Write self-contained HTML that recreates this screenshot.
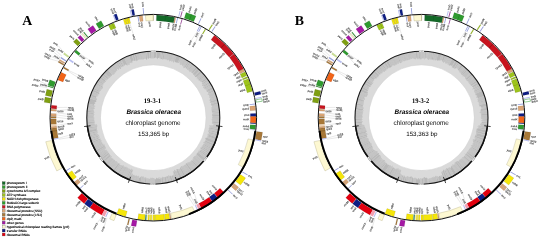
<!DOCTYPE html><html><head><meta charset="utf-8"><style>html,body{margin:0;padding:0;background:#fff;width:550px;height:240px;overflow:hidden}svg{display:block;will-change:transform}text{text-rendering:geometricPrecision}.lb text{text-rendering:auto}</style></head><body><svg width="550" height="240" viewBox="0 0 550 240">
<rect width="550" height="240" fill="#fff"/>
<circle cx="153.3" cy="117.7" r="59.55" fill="none" stroke="#dadada" stroke-width="13.90"/>
<path d="M153.88,51.20A66.50,66.50 0 0 1 154.51,51.21L154.39,57.70A60.01,60.01 0 0 0 153.82,57.70ZM154.46,51.21A66.50,66.50 0 0 1 155.09,51.22L154.90,58.34A59.38,59.38 0 0 0 154.34,58.32ZM155.04,51.22A66.50,66.50 0 0 1 155.67,51.24L155.43,58.04A59.70,59.70 0 0 0 154.86,58.02ZM155.62,51.24A66.50,66.50 0 0 1 156.25,51.27L155.98,57.23A60.53,60.53 0 0 0 155.41,57.21ZM156.78,51.29A66.50,66.50 0 0 1 157.41,51.33L157.00,57.95A59.87,59.87 0 0 0 156.43,57.91ZM157.36,51.32A66.50,66.50 0 0 1 157.99,51.37L157.43,59.24A58.60,58.60 0 0 0 156.88,59.21ZM157.94,51.36A66.50,66.50 0 0 1 158.56,51.41L158.02,58.26A59.62,59.62 0 0 0 157.46,58.22ZM158.52,51.40A66.50,66.50 0 0 1 159.14,51.46L158.56,58.08A59.85,59.85 0 0 0 158.00,58.04ZM159.10,51.45A66.50,66.50 0 0 1 159.72,51.51L159.13,57.64A60.34,60.34 0 0 0 158.56,57.59ZM159.67,51.51A66.50,66.50 0 0 1 160.30,51.57L159.64,57.81A60.22,60.22 0 0 0 159.07,57.75ZM161.98,51.77A66.50,66.50 0 0 1 162.60,51.85L161.58,59.05A59.23,59.23 0 0 0 161.03,58.98ZM162.56,51.85A66.50,66.50 0 0 1 163.18,51.94L162.10,59.10A59.26,59.26 0 0 0 161.55,59.02ZM163.70,52.02A66.50,66.50 0 0 1 164.32,52.12L163.13,59.22A59.30,59.30 0 0 0 162.58,59.13ZM164.28,52.11A66.50,66.50 0 0 1 164.89,52.22L163.63,59.36A59.25,59.25 0 0 0 163.08,59.26ZM165.42,52.31A66.50,66.50 0 0 1 166.03,52.43L164.77,58.92A59.89,59.89 0 0 0 164.21,58.81ZM166.56,52.54A66.50,66.50 0 0 1 167.17,52.66L165.77,59.26A59.76,59.76 0 0 0 165.21,59.14ZM167.69,52.78A66.50,66.50 0 0 1 168.30,52.91L166.86,59.16A60.09,60.09 0 0 0 166.31,59.03ZM168.82,53.04A66.50,66.50 0 0 1 169.43,53.19L167.68,60.19A59.28,59.28 0 0 0 167.14,60.06ZM173.30,54.28A66.50,66.50 0 0 1 173.89,54.47L171.66,61.32A59.29,59.29 0 0 0 171.13,61.15ZM174.40,54.64A66.50,66.50 0 0 1 174.99,54.84L172.83,61.10A59.87,59.87 0 0 0 172.30,60.92ZM176.59,55.41A66.50,66.50 0 0 1 177.17,55.63L175.05,61.17A60.57,60.57 0 0 0 174.51,60.96ZM177.13,55.62A66.50,66.50 0 0 1 177.72,55.84L175.31,61.93A59.96,59.96 0 0 0 174.79,61.72ZM177.67,55.83A66.50,66.50 0 0 1 178.25,56.06L175.70,62.37A59.70,59.70 0 0 0 175.18,62.16ZM178.21,56.04A66.50,66.50 0 0 1 178.79,56.28L176.20,62.51A59.75,59.75 0 0 0 175.68,62.30ZM178.75,56.26A66.50,66.50 0 0 1 179.33,56.50L176.65,62.81A59.65,59.65 0 0 0 176.13,62.59ZM179.28,56.49A66.50,66.50 0 0 1 179.86,56.73L177.29,62.62A60.08,60.08 0 0 0 176.77,62.40ZM179.82,56.72A66.50,66.50 0 0 1 180.39,56.97L177.81,62.75A60.17,60.17 0 0 0 177.29,62.52ZM181.40,57.43A66.50,66.50 0 0 1 181.97,57.70L179.78,62.27A61.43,61.43 0 0 0 179.26,62.03ZM182.45,57.93A66.50,66.50 0 0 1 183.01,58.21L180.12,64.01A60.02,60.02 0 0 0 179.61,63.76ZM183.49,58.45A66.50,66.50 0 0 1 184.05,58.74L180.85,64.86A59.60,59.60 0 0 0 180.36,64.60ZM186.05,59.82A66.50,66.50 0 0 1 186.59,60.13L183.42,65.62A60.17,60.17 0 0 0 182.93,65.33ZM187.05,60.40A66.50,66.50 0 0 1 187.59,60.72L183.68,67.21A58.93,58.93 0 0 0 183.21,66.93ZM188.05,61.00A66.50,66.50 0 0 1 188.58,61.33L184.62,67.65A59.04,59.04 0 0 0 184.15,67.36ZM188.54,61.30A66.50,66.50 0 0 1 189.07,61.64L185.03,67.98A58.98,58.98 0 0 0 184.56,67.68ZM189.52,61.93A66.50,66.50 0 0 1 190.04,62.27L186.30,67.92A59.72,59.72 0 0 0 185.83,67.61ZM190.00,62.25A66.50,66.50 0 0 1 190.52,62.59L186.21,68.98A58.79,58.79 0 0 0 185.75,68.67ZM190.97,62.90A66.50,66.50 0 0 1 191.48,63.25L187.52,68.91A59.59,59.59 0 0 0 187.05,68.59ZM192.39,63.90A66.50,66.50 0 0 1 192.89,64.27L188.28,70.49A58.76,58.76 0 0 0 187.84,70.16ZM192.86,64.24A66.50,66.50 0 0 1 193.36,64.62L189.34,69.95A59.83,59.83 0 0 0 188.89,69.61ZM193.78,64.94A66.50,66.50 0 0 1 194.28,65.33L189.31,71.68A58.43,58.43 0 0 0 188.87,71.34ZM195.15,66.02A66.50,66.50 0 0 1 195.64,66.42L191.13,71.88A59.42,59.42 0 0 0 190.69,71.52ZM196.05,66.76A66.50,66.50 0 0 1 196.52,67.16L191.73,72.77A59.13,59.13 0 0 0 191.31,72.41ZM196.49,67.13A66.50,66.50 0 0 1 196.96,67.54L192.09,73.14A59.08,59.08 0 0 0 191.67,72.78ZM196.93,67.51A66.50,66.50 0 0 1 197.40,67.93L192.95,72.94A59.80,59.80 0 0 0 192.53,72.57ZM197.80,68.28A66.50,66.50 0 0 1 198.26,68.70L193.39,74.01A59.29,59.29 0 0 0 192.97,73.64ZM198.23,68.67A66.50,66.50 0 0 1 198.69,69.10L193.26,74.90A58.55,58.55 0 0 0 192.86,74.53ZM198.65,69.06A66.50,66.50 0 0 1 199.11,69.49L194.29,74.57A59.50,59.50 0 0 0 193.88,74.18ZM199.08,69.46A66.50,66.50 0 0 1 199.53,69.90L194.53,75.06A59.32,59.32 0 0 0 194.13,74.67ZM199.49,69.86A66.50,66.50 0 0 1 199.94,70.30L194.31,76.03A58.47,58.47 0 0 0 193.91,75.64ZM200.32,70.68A66.50,66.50 0 0 1 200.76,71.12L195.20,76.58A58.71,58.71 0 0 0 194.81,76.19ZM200.73,71.09A66.50,66.50 0 0 1 201.17,71.54L195.28,77.22A58.32,58.32 0 0 0 194.90,76.82ZM201.14,71.51A66.50,66.50 0 0 1 201.57,71.96L196.30,76.95A59.24,59.24 0 0 0 195.91,76.55ZM201.54,71.92A66.50,66.50 0 0 1 201.97,72.38L197.03,76.98A59.76,59.76 0 0 0 196.65,76.56ZM202.33,72.77A66.50,66.50 0 0 1 202.75,73.24L197.29,78.15A59.16,59.16 0 0 0 196.92,77.73ZM204.24,74.95A66.50,66.50 0 0 1 204.64,75.44L199.12,79.98A59.35,59.35 0 0 0 198.76,79.55ZM204.61,75.40A66.50,66.50 0 0 1 205.01,75.89L198.86,80.86A58.59,58.59 0 0 0 198.51,80.43ZM205.34,76.30A66.50,66.50 0 0 1 205.73,76.80L200.28,81.05A59.58,59.58 0 0 0 199.93,80.61ZM206.41,77.68A66.50,66.50 0 0 1 206.78,78.18L201.11,82.37A59.45,59.45 0 0 0 200.78,81.92ZM206.76,78.14A66.50,66.50 0 0 1 207.13,78.65L202.16,82.25A60.36,60.36 0 0 0 201.82,81.80ZM207.10,78.61A66.50,66.50 0 0 1 207.47,79.12L202.56,82.61A60.48,60.48 0 0 0 202.23,82.15ZM207.77,79.56A66.50,66.50 0 0 1 208.13,80.07L202.09,84.22A59.17,59.17 0 0 0 201.77,83.76ZM208.10,80.03A66.50,66.50 0 0 1 208.46,80.55L202.43,84.61A59.24,59.24 0 0 0 202.12,84.15ZM208.75,81.00A66.50,66.50 0 0 1 209.10,81.52L202.28,85.94A58.38,58.38 0 0 0 201.98,85.48ZM209.39,81.97A66.50,66.50 0 0 1 209.72,82.50L203.31,86.50A58.95,58.95 0 0 0 203.02,86.03ZM209.70,82.46A66.50,66.50 0 0 1 210.02,82.99L204.30,86.50A59.79,59.79 0 0 0 204.00,86.02ZM210.60,83.95A66.50,66.50 0 0 1 210.91,84.49L204.53,88.17A59.13,59.13 0 0 0 204.25,87.69ZM210.89,84.45A66.50,66.50 0 0 1 211.20,84.99L204.39,88.84A58.68,58.68 0 0 0 204.12,88.36ZM211.74,85.97A66.50,66.50 0 0 1 212.04,86.52L205.92,89.77A59.58,59.58 0 0 0 205.66,89.27ZM212.29,86.99A66.50,66.50 0 0 1 212.57,87.55L206.43,90.67A59.61,59.61 0 0 0 206.17,90.18ZM212.55,87.51A66.50,66.50 0 0 1 212.83,88.07L207.30,90.83A60.31,60.31 0 0 0 207.04,90.32ZM212.81,88.03A66.50,66.50 0 0 1 213.09,88.59L206.81,91.65A59.52,59.52 0 0 0 206.56,91.14ZM213.07,88.55A66.50,66.50 0 0 1 213.34,89.11L207.33,91.98A59.84,59.84 0 0 0 207.08,91.47ZM213.81,90.12A66.50,66.50 0 0 1 214.07,90.69L208.28,93.27A60.17,60.17 0 0 0 208.05,92.75ZM214.05,90.65A66.50,66.50 0 0 1 214.30,91.23L208.49,93.75A60.16,60.16 0 0 0 208.26,93.23ZM214.51,91.72A66.50,66.50 0 0 1 214.76,92.29L208.43,94.91A59.65,59.65 0 0 0 208.21,94.39ZM215.79,94.96A66.50,66.50 0 0 1 216.00,95.55L209.46,97.86A59.57,59.57 0 0 0 209.27,97.33ZM216.55,97.15A66.50,66.50 0 0 1 216.74,97.75L209.94,99.89A59.37,59.37 0 0 0 209.76,99.35ZM217.22,99.37A66.50,66.50 0 0 1 217.39,99.97L210.49,101.88A59.34,59.34 0 0 0 210.34,101.34ZM217.38,99.93A66.50,66.50 0 0 1 217.55,100.53L209.87,102.58A58.56,58.56 0 0 0 209.73,102.05ZM217.53,100.49A66.50,66.50 0 0 1 217.69,101.09L210.51,102.95A59.08,59.08 0 0 0 210.37,102.41ZM217.96,102.18A66.50,66.50 0 0 1 218.11,102.79L211.35,104.34A59.57,59.57 0 0 0 211.22,103.79ZM218.10,102.74A66.50,66.50 0 0 1 218.23,103.35L210.89,104.98A58.98,58.98 0 0 0 210.77,104.43ZM218.22,103.31A66.50,66.50 0 0 1 218.36,103.92L211.72,105.32A59.72,59.72 0 0 0 211.60,104.77ZM218.58,105.01A66.50,66.50 0 0 1 218.69,105.63L212.11,106.84A59.81,59.81 0 0 0 212.01,106.29ZM218.79,106.15A66.50,66.50 0 0 1 218.90,106.77L211.67,107.97A59.18,59.18 0 0 0 211.58,107.42ZM218.98,107.30A66.50,66.50 0 0 1 219.08,107.92L212.10,108.95A59.45,59.45 0 0 0 212.02,108.40ZM219.37,110.17A66.50,66.50 0 0 1 219.44,110.80L211.88,111.58A58.90,58.90 0 0 0 211.82,111.03ZM219.44,110.75A66.50,66.50 0 0 1 219.50,111.37L212.18,112.07A59.15,59.15 0 0 0 212.12,111.52ZM219.55,111.90A66.50,66.50 0 0 1 219.60,112.53L212.19,113.11A59.07,59.07 0 0 0 212.15,112.55ZM219.60,112.48A66.50,66.50 0 0 1 219.64,113.11L213.43,113.54A60.27,60.27 0 0 0 213.39,112.97ZM219.68,113.64A66.50,66.50 0 0 1 219.71,114.27L212.01,114.66A58.79,58.79 0 0 0 211.98,114.11ZM219.74,114.80A66.50,66.50 0 0 1 219.76,115.43L212.32,115.68A59.06,59.06 0 0 0 212.30,115.12ZM219.76,115.38A66.50,66.50 0 0 1 219.78,116.01L212.02,116.20A58.74,58.74 0 0 0 212.00,115.65ZM219.78,115.96A66.50,66.50 0 0 1 219.79,116.59L212.78,116.70A59.49,59.49 0 0 0 212.77,116.14ZM219.80,118.28A66.50,66.50 0 0 1 219.79,118.91L212.30,118.77A59.01,59.01 0 0 0 212.30,118.21ZM219.76,120.02A66.50,66.50 0 0 1 219.73,120.65L211.82,120.30A58.58,58.58 0 0 0 211.84,119.74ZM219.68,121.76A66.50,66.50 0 0 1 219.63,122.39L212.36,121.87A59.20,59.20 0 0 0 212.39,121.31ZM219.64,122.34A66.50,66.50 0 0 1 219.59,122.96L211.97,122.36A58.86,58.86 0 0 0 212.01,121.81ZM219.60,122.92A66.50,66.50 0 0 1 219.54,123.54L212.23,122.90A59.15,59.15 0 0 0 212.27,122.34ZM219.15,126.96A66.50,66.50 0 0 1 219.06,127.58L209.20,126.09A56.53,56.53 0 0 0 209.28,125.57ZM218.79,129.25A66.50,66.50 0 0 1 218.68,129.86L208.99,128.06A56.65,56.65 0 0 0 209.09,127.54ZM218.69,129.82A66.50,66.50 0 0 1 218.57,130.43L208.85,128.54A56.59,56.59 0 0 0 208.95,128.01ZM218.46,130.96A66.50,66.50 0 0 1 218.34,131.57L209.06,129.59A57.01,57.01 0 0 0 209.17,129.07ZM218.22,132.09A66.50,66.50 0 0 1 218.09,132.70L208.29,130.44A56.45,56.45 0 0 0 208.41,129.92ZM218.10,132.66A66.50,66.50 0 0 1 217.95,133.27L208.87,131.08A57.16,57.16 0 0 0 208.99,130.56ZM217.68,134.35A66.50,66.50 0 0 1 217.52,134.96L208.93,132.65A57.61,57.61 0 0 0 209.07,132.12ZM217.53,134.91A66.50,66.50 0 0 1 217.37,135.52L208.82,133.14A57.63,57.63 0 0 0 208.97,132.62ZM216.89,137.14A66.50,66.50 0 0 1 216.71,137.74L207.59,134.86A56.94,56.94 0 0 0 207.75,134.35ZM216.72,137.70A66.50,66.50 0 0 1 216.53,138.29L208.22,135.59A57.76,57.76 0 0 0 208.39,135.07ZM216.55,138.25A66.50,66.50 0 0 1 216.35,138.84L207.68,135.94A57.36,57.36 0 0 0 207.85,135.42ZM216.36,138.80A66.50,66.50 0 0 1 216.16,139.39L207.15,136.28A56.97,56.97 0 0 0 207.32,135.78ZM215.59,140.99A66.50,66.50 0 0 1 215.37,141.57L206.39,138.12A56.88,56.88 0 0 0 206.58,137.62ZM215.38,141.53A66.50,66.50 0 0 1 215.16,142.12L205.43,138.28A56.04,56.04 0 0 0 205.62,137.78ZM215.17,142.07A66.50,66.50 0 0 1 214.94,142.65L205.20,138.71A55.99,55.99 0 0 0 205.40,138.22ZM214.96,142.61A66.50,66.50 0 0 1 214.72,143.19L205.74,139.46A56.77,56.77 0 0 0 205.94,138.97ZM214.74,143.15A66.50,66.50 0 0 1 214.50,143.73L205.49,139.90A56.72,56.72 0 0 0 205.70,139.41ZM214.28,144.22A66.50,66.50 0 0 1 214.03,144.79L205.30,140.90A56.94,56.94 0 0 0 205.52,140.41ZM214.05,144.75A66.50,66.50 0 0 1 213.79,145.32L204.92,141.27A56.75,56.75 0 0 0 205.14,140.78ZM213.81,145.28A66.50,66.50 0 0 1 213.55,145.85L205.10,141.90A57.17,57.17 0 0 0 205.33,141.41ZM213.32,146.33A66.50,66.50 0 0 1 213.05,146.89L203.70,142.33A56.10,56.10 0 0 0 203.93,141.85ZM212.29,148.41A66.50,66.50 0 0 1 211.99,148.96L203.29,144.32A56.63,56.63 0 0 0 203.54,143.85ZM212.02,148.92A66.50,66.50 0 0 1 211.72,149.47L203.36,144.93A56.99,56.99 0 0 0 203.62,144.45ZM210.60,151.45A66.50,66.50 0 0 1 210.28,151.99L202.23,147.15A57.11,57.11 0 0 0 202.51,146.69ZM210.30,151.95A66.50,66.50 0 0 1 209.98,152.49L201.32,147.17A56.34,56.34 0 0 0 201.59,146.72ZM209.70,152.94A66.50,66.50 0 0 1 209.36,153.47L201.12,148.21A56.72,56.72 0 0 0 201.40,147.76ZM209.39,153.43A66.50,66.50 0 0 1 209.05,153.96L199.92,148.02A55.61,55.61 0 0 0 200.20,147.58ZM208.75,154.40A66.50,66.50 0 0 1 208.41,154.92L200.88,149.84A57.42,57.42 0 0 0 201.18,149.39ZM208.43,154.89A66.50,66.50 0 0 1 208.08,155.40L200.14,149.94A56.87,56.87 0 0 0 200.45,149.50ZM207.77,155.84A66.50,66.50 0 0 1 207.41,156.35L199.52,150.72A56.80,56.80 0 0 0 199.83,150.28ZM207.44,156.32A66.50,66.50 0 0 1 207.07,156.83L199.34,151.20A56.94,56.94 0 0 0 199.66,150.77ZM206.76,157.26A66.50,66.50 0 0 1 206.38,157.76L198.59,151.88A56.74,56.74 0 0 0 198.91,151.45ZM205.70,158.64A66.50,66.50 0 0 1 205.31,159.13L197.52,152.92A56.53,56.53 0 0 0 197.85,152.50ZM205.34,159.10A66.50,66.50 0 0 1 204.95,159.59L197.15,153.26A56.46,56.46 0 0 0 197.48,152.84ZM204.98,159.55A66.50,66.50 0 0 1 204.58,160.04L196.96,153.74A56.61,56.61 0 0 0 197.30,153.33ZM204.61,160.00A66.50,66.50 0 0 1 204.21,160.48L196.39,153.91A56.28,56.28 0 0 0 196.73,153.50ZM204.24,160.45A66.50,66.50 0 0 1 203.84,160.92L196.59,154.73A56.97,56.97 0 0 0 196.94,154.32ZM203.49,161.33A66.50,66.50 0 0 1 203.07,161.80L195.52,155.10A56.40,56.40 0 0 0 195.87,154.70ZM201.94,163.05A66.50,66.50 0 0 1 201.51,163.51L193.88,156.27A55.99,55.99 0 0 0 194.25,155.88ZM199.91,165.13A66.50,66.50 0 0 1 199.46,165.57L193.02,158.89A57.23,57.23 0 0 0 193.41,158.52ZM198.23,166.73A66.50,66.50 0 0 1 197.76,167.15L192.17,160.93A58.13,58.13 0 0 0 192.57,160.56ZM197.80,167.12A66.50,66.50 0 0 1 197.33,167.54L191.27,160.68A57.35,57.35 0 0 0 191.68,160.32ZM196.93,167.89A66.50,66.50 0 0 1 196.45,168.30L190.56,161.39A57.42,57.42 0 0 0 190.97,161.04ZM195.60,169.01A66.50,66.50 0 0 1 195.11,169.41L189.13,162.01A56.98,56.98 0 0 0 189.54,161.67ZM194.24,170.10A66.50,66.50 0 0 1 193.75,170.49L187.92,162.88A56.92,56.92 0 0 0 188.34,162.55ZM192.86,171.16A66.50,66.50 0 0 1 192.35,171.53L186.33,163.22A56.24,56.24 0 0 0 186.75,162.91ZM192.39,171.50A66.50,66.50 0 0 1 191.88,171.87L185.91,163.49A56.21,56.21 0 0 0 186.34,163.18ZM191.92,171.84A66.50,66.50 0 0 1 191.40,172.20L185.51,163.77A56.21,56.21 0 0 0 185.94,163.46ZM189.52,173.47A66.50,66.50 0 0 1 188.99,173.81L183.72,165.53A56.69,56.69 0 0 0 184.17,165.24ZM188.54,174.10A66.50,66.50 0 0 1 188.01,174.42L182.72,165.79A56.37,56.37 0 0 0 183.17,165.51ZM187.55,174.70A66.50,66.50 0 0 1 187.01,175.02L182.23,166.90A57.08,57.08 0 0 0 182.70,166.62ZM185.54,175.86A66.50,66.50 0 0 1 184.99,176.16L180.15,167.24A56.35,56.35 0 0 0 180.62,166.98ZM185.03,176.14A66.50,66.50 0 0 1 184.48,176.44L180.01,168.02A56.96,56.96 0 0 0 180.48,167.76ZM184.52,176.42A66.50,66.50 0 0 1 183.97,176.71L179.67,168.44A57.18,57.18 0 0 0 180.15,168.19ZM181.93,177.72A66.50,66.50 0 0 1 181.36,177.99L177.32,169.30A56.91,56.91 0 0 0 177.80,169.07ZM181.40,177.97A66.50,66.50 0 0 1 180.83,178.23L176.68,169.10A56.47,56.47 0 0 0 177.16,168.88ZM180.88,178.21A66.50,66.50 0 0 1 180.31,178.47L176.24,169.33A56.50,56.50 0 0 0 176.73,169.11ZM180.35,178.45A66.50,66.50 0 0 1 179.77,178.70L176.36,170.83A57.92,57.92 0 0 0 176.86,170.61ZM177.67,179.57A66.50,66.50 0 0 1 177.09,179.80L173.69,170.92A56.99,56.99 0 0 0 174.19,170.72ZM177.13,179.78A66.50,66.50 0 0 1 176.55,180.00L173.38,171.52A57.45,57.45 0 0 0 173.89,171.33ZM174.40,180.76A66.50,66.50 0 0 1 173.81,180.96L172.05,175.54A60.80,60.80 0 0 0 172.59,175.36ZM173.85,180.95A66.50,66.50 0 0 1 173.25,181.14L171.52,175.64A60.74,60.74 0 0 0 172.07,175.47ZM172.74,181.29A66.50,66.50 0 0 1 172.14,181.47L170.58,176.18A60.98,60.98 0 0 0 171.13,176.01ZM172.19,181.46A66.50,66.50 0 0 1 171.59,181.64L169.87,175.64A60.27,60.27 0 0 0 170.42,175.48ZM171.63,181.62A66.50,66.50 0 0 1 171.03,181.79L169.39,175.89A60.38,60.38 0 0 0 169.94,175.74ZM170.51,181.93A66.50,66.50 0 0 1 169.91,182.09L168.19,175.45A59.64,59.64 0 0 0 168.74,175.31ZM169.39,182.22A66.50,66.50 0 0 1 168.78,182.37L167.37,176.49A60.45,60.45 0 0 0 167.92,176.35ZM168.82,182.36A66.50,66.50 0 0 1 168.21,182.51L166.78,176.27A60.10,60.10 0 0 0 167.33,176.14ZM167.13,182.75A66.50,66.50 0 0 1 166.51,182.87L165.33,177.03A60.54,60.54 0 0 0 165.89,176.92ZM166.56,182.86A66.50,66.50 0 0 1 165.94,182.99L164.82,177.21A60.61,60.61 0 0 0 165.38,177.09ZM165.99,182.98A66.50,66.50 0 0 1 165.37,183.09L164.29,177.20A60.51,60.51 0 0 0 164.85,177.10ZM164.85,183.19A66.50,66.50 0 0 1 164.23,183.30L163.20,177.11A60.23,60.23 0 0 0 163.76,177.01ZM163.70,183.38A66.50,66.50 0 0 1 163.08,183.48L162.08,176.75A59.70,59.70 0 0 0 162.64,176.66ZM163.13,183.47A66.50,66.50 0 0 1 162.51,183.56L161.69,177.67A60.56,60.56 0 0 0 162.25,177.59ZM162.56,183.55A66.50,66.50 0 0 1 161.93,183.64L161.23,178.22A61.04,61.04 0 0 0 161.80,178.15ZM161.40,183.70A66.50,66.50 0 0 1 160.78,183.78L160.15,178.20A60.89,60.89 0 0 0 160.72,178.13ZM160.83,183.77A66.50,66.50 0 0 1 160.20,183.84L159.52,177.31A59.93,59.93 0 0 0 160.08,177.25ZM160.25,183.84A66.50,66.50 0 0 1 159.63,183.90L159.16,179.05A61.63,61.63 0 0 0 159.74,178.99ZM159.67,183.89A66.50,66.50 0 0 1 159.05,183.95L158.61,178.86A61.39,61.39 0 0 0 159.18,178.81ZM159.10,183.95A66.50,66.50 0 0 1 158.47,184.00L157.96,177.47A59.95,59.95 0 0 0 158.53,177.42ZM158.52,184.00A66.50,66.50 0 0 1 157.89,184.04L157.48,178.08A60.53,60.53 0 0 0 158.05,178.04ZM157.94,184.04A66.50,66.50 0 0 1 157.31,184.08L157.00,178.82A61.23,61.23 0 0 0 157.57,178.78ZM157.36,184.08A66.50,66.50 0 0 1 156.73,184.11L156.41,177.85A60.23,60.23 0 0 0 156.98,177.81ZM156.78,184.11A66.50,66.50 0 0 1 156.15,184.14L155.90,178.22A60.58,60.58 0 0 0 156.47,178.20ZM156.20,184.14A66.50,66.50 0 0 1 155.57,184.16L155.40,179.02A61.35,61.35 0 0 0 155.98,178.99ZM155.62,184.16A66.50,66.50 0 0 1 154.99,184.18L154.88,179.59A61.91,61.91 0 0 0 155.46,179.57ZM155.04,184.18A66.50,66.50 0 0 1 154.41,184.19L154.32,178.40A60.71,60.71 0 0 0 154.89,178.39ZM153.88,184.20A66.50,66.50 0 0 1 153.25,184.20L153.26,177.94A60.24,60.24 0 0 0 153.83,177.94ZM152.72,184.20A66.50,66.50 0 0 1 152.09,184.19L152.21,177.67A59.98,59.98 0 0 0 152.78,177.68ZM151.56,184.18A66.50,66.50 0 0 1 150.93,184.16L151.15,177.97A60.31,60.31 0 0 0 151.72,177.99ZM150.40,184.14A66.50,66.50 0 0 1 149.77,184.11L150.09,178.15A60.54,60.54 0 0 0 150.66,178.18ZM148.66,184.04A66.50,66.50 0 0 1 148.04,183.99L148.46,178.65A61.14,61.14 0 0 0 149.03,178.69ZM146.93,183.89A66.50,66.50 0 0 1 146.30,183.83L146.84,178.79A61.43,61.43 0 0 0 147.41,178.85ZM145.77,183.77A66.50,66.50 0 0 1 145.15,183.70L145.90,177.65A60.40,60.40 0 0 0 146.46,177.71ZM145.20,183.70A66.50,66.50 0 0 1 144.57,183.63L145.41,177.28A60.10,60.10 0 0 0 145.98,177.36ZM144.04,183.55A66.50,66.50 0 0 1 143.42,183.46L144.31,177.54A60.52,60.52 0 0 0 144.88,177.63ZM142.90,183.38A66.50,66.50 0 0 1 142.28,183.28L143.35,176.88A60.01,60.01 0 0 0 143.91,176.97ZM140.61,182.98A66.50,66.50 0 0 1 140.00,182.86L141.35,176.23A59.74,59.74 0 0 0 141.90,176.34ZM140.04,182.86A66.50,66.50 0 0 1 139.43,182.74L140.59,177.29A60.93,60.93 0 0 0 141.15,177.41ZM139.47,182.75A66.50,66.50 0 0 1 138.86,182.61L140.17,176.75A60.49,60.49 0 0 0 140.72,176.87ZM138.91,182.62A66.50,66.50 0 0 1 138.30,182.49L139.37,177.83A61.72,61.72 0 0 0 139.94,177.96ZM138.34,182.50A66.50,66.50 0 0 1 137.73,182.35L138.95,177.30A61.30,61.30 0 0 0 139.51,177.43ZM137.21,182.22A66.50,66.50 0 0 1 136.60,182.07L138.26,175.68A59.90,59.90 0 0 0 138.81,175.82ZM134.41,181.46A66.50,66.50 0 0 1 133.81,181.28L135.51,175.74A60.70,60.70 0 0 0 136.06,175.90ZM130.56,180.19A66.50,66.50 0 0 1 129.97,179.97L132.38,173.53A59.62,59.62 0 0 0 132.91,173.73ZM130.01,179.99A66.50,66.50 0 0 1 129.43,179.77L131.56,174.21A60.55,60.55 0 0 0 132.10,174.41ZM128.93,179.57A66.50,66.50 0 0 1 128.35,179.34L132.17,169.89A56.30,56.30 0 0 0 132.67,170.08ZM128.39,179.36A66.50,66.50 0 0 1 127.81,179.12L131.90,169.26A55.83,55.83 0 0 0 132.39,169.46ZM127.32,178.91A66.50,66.50 0 0 1 126.74,178.67L131.10,168.67A55.59,55.59 0 0 0 131.58,168.87ZM126.78,178.68A66.50,66.50 0 0 1 126.21,178.43L130.13,169.65A56.88,56.88 0 0 0 130.62,169.86ZM125.72,178.21A66.50,66.50 0 0 1 125.15,177.95L129.47,168.71A56.30,56.30 0 0 0 129.95,168.94ZM124.67,177.72A66.50,66.50 0 0 1 124.11,177.45L128.12,169.24A57.36,57.36 0 0 0 128.61,169.47ZM123.63,177.21A66.50,66.50 0 0 1 123.07,176.93L127.47,168.31A56.82,56.82 0 0 0 127.95,168.55ZM122.59,176.69A66.50,66.50 0 0 1 122.04,176.39L126.68,167.68A56.63,56.63 0 0 0 127.15,167.93ZM120.05,175.29A66.50,66.50 0 0 1 119.51,174.97L124.58,166.39A56.53,56.53 0 0 0 125.04,166.66ZM118.55,174.40A66.50,66.50 0 0 1 118.02,174.07L123.57,165.20A56.04,56.04 0 0 0 124.02,165.48ZM118.06,174.10A66.50,66.50 0 0 1 117.53,173.76L122.87,165.39A56.57,56.57 0 0 0 123.32,165.67ZM117.08,173.47A66.50,66.50 0 0 1 116.56,173.13L122.02,164.89A56.62,56.62 0 0 0 122.46,165.18ZM116.11,172.83A66.50,66.50 0 0 1 115.60,172.48L120.71,165.04A57.47,57.47 0 0 0 121.16,165.35ZM114.21,171.50A66.50,66.50 0 0 1 113.71,171.13L119.39,163.47A56.96,56.96 0 0 0 119.82,163.78ZM113.74,171.16A66.50,66.50 0 0 1 113.24,170.78L118.83,163.37A57.22,57.22 0 0 0 119.26,163.70ZM113.28,170.81A66.50,66.50 0 0 1 112.78,170.43L118.24,163.33A57.54,57.54 0 0 0 118.67,163.66ZM112.36,170.10A66.50,66.50 0 0 1 111.87,169.71L117.39,162.79A57.64,57.64 0 0 0 117.81,163.12ZM111.00,169.01A66.50,66.50 0 0 1 110.52,168.61L116.63,161.33A56.99,56.99 0 0 0 117.05,161.68ZM109.67,167.89A66.50,66.50 0 0 1 109.20,167.47L114.97,160.96A57.80,57.80 0 0 0 115.38,161.32ZM108.80,167.12A66.50,66.50 0 0 1 108.34,166.70L114.65,159.82A57.16,57.16 0 0 0 115.05,160.18ZM107.95,166.34A66.50,66.50 0 0 1 107.49,165.91L113.87,159.19A57.24,57.24 0 0 0 114.26,159.56ZM105.46,163.89A66.50,66.50 0 0 1 105.03,163.44L111.43,157.38A57.69,57.69 0 0 0 111.80,157.77ZM104.66,163.05A66.50,66.50 0 0 1 104.24,162.59L111.52,155.93A56.63,56.63 0 0 0 111.88,156.32ZM103.88,162.20A66.50,66.50 0 0 1 103.46,161.73L110.08,155.89A57.67,57.67 0 0 0 110.44,156.29ZM103.49,161.76A66.50,66.50 0 0 1 103.08,161.29L110.33,155.00A56.90,56.90 0 0 0 110.69,155.40ZM103.11,161.33A66.50,66.50 0 0 1 102.70,160.85L109.86,154.75A57.10,57.10 0 0 0 110.21,155.16ZM101.99,160.00A66.50,66.50 0 0 1 101.59,159.51L109.00,153.52A56.97,56.97 0 0 0 109.34,153.94ZM101.62,159.55A66.50,66.50 0 0 1 101.23,159.06L108.83,153.03A56.80,56.80 0 0 0 109.16,153.44ZM101.26,159.10A66.50,66.50 0 0 1 100.87,158.60L108.16,152.91A57.25,57.25 0 0 0 108.50,153.34ZM100.54,158.18A66.50,66.50 0 0 1 100.16,157.68L108.21,151.63A56.42,56.42 0 0 0 108.54,152.05ZM100.19,157.72A66.50,66.50 0 0 1 99.82,157.22L107.06,151.87A57.49,57.49 0 0 0 107.39,152.30ZM98.83,155.84A66.50,66.50 0 0 1 98.47,155.33L106.62,149.73A56.61,56.61 0 0 0 106.92,150.17ZM97.53,153.92A66.50,66.50 0 0 1 97.19,153.39L105.81,147.91A56.29,56.29 0 0 0 106.09,148.36ZM96.30,151.95A66.50,66.50 0 0 1 95.98,151.41L104.82,146.21A56.24,56.24 0 0 0 105.09,146.67ZM96.00,151.45A66.50,66.50 0 0 1 95.69,150.91L104.34,145.92A56.52,56.52 0 0 0 104.60,146.38ZM95.71,150.95A66.50,66.50 0 0 1 95.40,150.41L104.70,145.15A55.82,55.82 0 0 0 104.96,145.61ZM94.58,148.92A66.50,66.50 0 0 1 94.29,148.37L103.29,143.69A56.36,56.36 0 0 0 103.54,144.16ZM93.53,146.85A66.50,66.50 0 0 1 93.26,146.29L101.68,142.28A57.17,57.17 0 0 0 101.91,142.76ZM93.03,145.80A66.50,66.50 0 0 1 92.77,145.23L100.82,141.57A57.65,57.65 0 0 0 101.05,142.06ZM92.55,144.75A66.50,66.50 0 0 1 92.30,144.17L101.35,140.24A56.63,56.63 0 0 0 101.57,140.73ZM91.86,143.15A66.50,66.50 0 0 1 91.62,142.57L100.31,139.07A57.13,57.13 0 0 0 100.52,139.56ZM91.64,142.61A66.50,66.50 0 0 1 91.41,142.03L100.29,138.54A56.96,56.96 0 0 0 100.49,139.04ZM91.22,141.53A66.50,66.50 0 0 1 91.00,140.95L98.61,138.10A58.37,58.37 0 0 0 98.80,138.62ZM91.01,140.99A66.50,66.50 0 0 1 90.79,140.40L99.23,137.34A57.52,57.52 0 0 0 99.42,137.85ZM90.42,139.35A66.50,66.50 0 0 1 90.22,138.76L98.44,136.01A57.84,57.84 0 0 0 98.61,136.53ZM90.24,138.80A66.50,66.50 0 0 1 90.04,138.21L99.02,135.30A57.07,57.07 0 0 0 99.18,135.81ZM89.54,136.59A66.50,66.50 0 0 1 89.36,135.99L97.35,133.70A58.19,58.19 0 0 0 97.51,134.23ZM89.38,136.03A66.50,66.50 0 0 1 89.21,135.43L97.38,133.17A58.02,58.02 0 0 0 97.53,133.69ZM88.92,134.35A66.50,66.50 0 0 1 88.76,133.74L97.68,131.53A57.31,57.31 0 0 0 97.82,132.05ZM88.78,133.79A66.50,66.50 0 0 1 88.63,133.18L96.88,131.20A58.01,58.01 0 0 0 97.01,131.73ZM88.50,132.66A66.50,66.50 0 0 1 88.37,132.05L97.47,130.04A57.18,57.18 0 0 0 97.59,130.56ZM88.38,132.09A66.50,66.50 0 0 1 88.24,131.48L96.63,129.70A57.92,57.92 0 0 0 96.75,130.24ZM88.25,131.53A66.50,66.50 0 0 1 88.13,130.91L96.81,129.15A57.64,57.64 0 0 0 96.92,129.68ZM88.14,130.96A66.50,66.50 0 0 1 88.01,130.34L96.65,128.67A57.70,57.70 0 0 0 96.76,129.20ZM87.91,129.82A66.50,66.50 0 0 1 87.80,129.20L96.98,127.59A57.19,57.19 0 0 0 97.07,128.12ZM87.71,128.68A66.50,66.50 0 0 1 87.61,128.06L97.27,126.53A56.72,56.72 0 0 0 97.36,127.06ZM87.62,128.10A66.50,66.50 0 0 1 87.52,127.48L96.58,126.14A57.35,57.35 0 0 0 96.66,126.67ZM87.37,126.38A66.50,66.50 0 0 1 87.29,125.76L96.94,124.58A56.78,56.78 0 0 0 97.01,125.11ZM87.11,124.07A66.50,66.50 0 0 1 87.05,123.45L94.81,122.78A58.71,58.71 0 0 0 94.87,123.33ZM87.05,123.50A66.50,66.50 0 0 1 87.00,122.87L94.50,122.29A58.98,58.98 0 0 0 94.55,122.84ZM87.00,122.92A66.50,66.50 0 0 1 86.96,122.29L94.77,121.75A58.67,58.67 0 0 0 94.81,122.30ZM86.92,121.76A66.50,66.50 0 0 1 86.89,121.13L94.39,120.75A58.99,58.99 0 0 0 94.42,121.30ZM86.89,121.18A66.50,66.50 0 0 1 86.86,120.55L94.28,120.24A59.07,59.07 0 0 0 94.31,120.79ZM86.84,120.02A66.50,66.50 0 0 1 86.82,119.39L94.15,119.21A59.17,59.17 0 0 0 94.17,119.76ZM86.81,118.86A66.50,66.50 0 0 1 86.80,118.23L94.04,118.18A59.26,59.26 0 0 0 94.05,118.73ZM86.82,115.96A66.50,66.50 0 0 1 86.84,115.33L94.07,115.59A59.27,59.27 0 0 0 94.05,116.15ZM86.86,114.80A66.50,66.50 0 0 1 86.89,114.17L94.30,114.57A59.09,59.09 0 0 0 94.27,115.12ZM86.92,113.64A66.50,66.50 0 0 1 86.97,113.01L93.93,113.51A59.51,59.51 0 0 0 93.90,114.07ZM86.96,113.06A66.50,66.50 0 0 1 87.01,112.44L93.32,112.94A60.17,60.17 0 0 0 93.28,113.50ZM87.05,111.90A66.50,66.50 0 0 1 87.11,111.28L94.10,111.96A59.48,59.48 0 0 0 94.05,112.52ZM87.11,111.33A66.50,66.50 0 0 1 87.17,110.70L94.15,111.44A59.48,59.48 0 0 0 94.09,112.00ZM87.37,109.02A66.50,66.50 0 0 1 87.45,108.40L93.39,109.24A60.50,60.50 0 0 0 93.32,109.80ZM87.62,107.30A66.50,66.50 0 0 1 87.72,106.68L94.55,107.83A59.57,59.57 0 0 0 94.46,108.38ZM87.91,105.58A66.50,66.50 0 0 1 88.03,104.97L94.72,106.27A59.68,59.68 0 0 0 94.62,106.82ZM88.25,103.87A66.50,66.50 0 0 1 88.39,103.26L94.07,104.52A60.68,60.68 0 0 0 93.94,105.08ZM88.38,103.31A66.50,66.50 0 0 1 88.51,102.70L94.25,104.02A60.61,60.61 0 0 0 94.13,104.58ZM88.50,102.74A66.50,66.50 0 0 1 88.65,102.13L94.59,103.56A60.39,60.39 0 0 0 94.46,104.12ZM88.64,102.18A66.50,66.50 0 0 1 88.79,101.57L95.40,103.22A59.68,59.68 0 0 0 95.27,103.77ZM88.78,101.61A66.50,66.50 0 0 1 88.93,101.00L95.10,102.60A60.13,60.13 0 0 0 94.96,103.15ZM88.92,101.05A66.50,66.50 0 0 1 89.08,100.44L94.64,101.94A60.74,60.74 0 0 0 94.49,102.49ZM89.07,100.49A66.50,66.50 0 0 1 89.23,99.88L95.99,101.76A59.49,59.49 0 0 0 95.84,102.30ZM89.22,99.93A66.50,66.50 0 0 1 89.39,99.33L96.10,101.25A59.52,59.52 0 0 0 95.94,101.79ZM89.38,99.37A66.50,66.50 0 0 1 89.55,98.77L96.54,100.84A59.21,59.21 0 0 0 96.39,101.38ZM89.54,98.81A66.50,66.50 0 0 1 89.72,98.21L96.04,100.15A59.89,59.89 0 0 0 95.88,100.69ZM90.42,96.05A66.50,66.50 0 0 1 90.63,95.46L96.11,97.40A60.68,60.68 0 0 0 95.92,97.94ZM90.61,95.50A66.50,66.50 0 0 1 90.83,94.91L96.30,96.91A60.67,60.67 0 0 0 96.11,97.45ZM90.81,94.96A66.50,66.50 0 0 1 91.03,94.37L96.32,96.35A60.85,60.85 0 0 0 96.12,96.89ZM91.22,93.87A66.50,66.50 0 0 1 91.44,93.28L97.88,95.82A59.59,59.59 0 0 0 97.67,96.35ZM92.32,91.18A66.50,66.50 0 0 1 92.57,90.61L99.60,93.75A58.80,58.80 0 0 0 99.37,94.25ZM92.55,90.65A66.50,66.50 0 0 1 92.81,90.08L99.21,93.01A59.46,59.46 0 0 0 98.98,93.52ZM92.79,90.12A66.50,66.50 0 0 1 93.05,89.55L98.95,92.31A59.99,59.99 0 0 0 98.71,92.82ZM93.28,89.07A66.50,66.50 0 0 1 93.55,88.51L99.46,91.40A59.92,59.92 0 0 0 99.22,91.90ZM93.53,88.55A66.50,66.50 0 0 1 93.81,87.99L99.77,90.96A59.84,59.84 0 0 0 99.52,91.47ZM94.05,87.51A66.50,66.50 0 0 1 94.34,86.95L100.91,90.38A59.08,59.08 0 0 0 100.65,90.88ZM95.14,85.46A66.50,66.50 0 0 1 95.44,84.91L102.07,88.67A58.89,58.89 0 0 0 101.79,89.15ZM96.00,83.95A66.50,66.50 0 0 1 96.32,83.41L102.93,87.39A58.78,58.78 0 0 0 102.65,87.87ZM96.30,83.45A66.50,66.50 0 0 1 96.62,82.91L103.19,86.94A58.80,58.80 0 0 0 102.90,87.42ZM97.21,81.97A66.50,66.50 0 0 1 97.55,81.44L102.90,84.92A60.12,60.12 0 0 0 102.60,85.40ZM97.85,81.00A66.50,66.50 0 0 1 98.19,80.48L102.59,83.44A61.20,61.20 0 0 0 102.26,83.92ZM98.17,80.51A66.50,66.50 0 0 1 98.52,80.00L103.84,83.66A60.04,60.04 0 0 0 103.53,84.13ZM99.84,78.14A66.50,66.50 0 0 1 100.22,77.64L105.39,81.54A60.02,60.02 0 0 0 105.05,82.00ZM100.19,77.68A66.50,66.50 0 0 1 100.57,77.18L105.91,81.29A59.76,59.76 0 0 0 105.57,81.73ZM100.54,77.22A66.50,66.50 0 0 1 100.93,76.72L105.44,80.25A60.77,60.77 0 0 0 105.09,80.71ZM101.26,76.30A66.50,66.50 0 0 1 101.65,75.81L106.89,80.07A59.75,59.75 0 0 0 106.54,80.51ZM101.62,75.85A66.50,66.50 0 0 1 102.02,75.36L106.69,79.22A60.44,60.44 0 0 0 106.33,79.66ZM102.36,74.95A66.50,66.50 0 0 1 102.76,74.48L107.66,78.67A60.05,60.05 0 0 0 107.30,79.10ZM102.73,74.51A66.50,66.50 0 0 1 103.14,74.04L108.00,78.26A60.06,60.06 0 0 0 107.63,78.69ZM103.11,74.07A66.50,66.50 0 0 1 103.53,73.60L108.79,78.27A59.47,59.47 0 0 0 108.42,78.69ZM104.27,72.77A66.50,66.50 0 0 1 104.70,72.31L109.96,77.22A59.31,59.31 0 0 0 109.58,77.63ZM104.66,72.35A66.50,66.50 0 0 1 105.09,71.89L109.74,76.30A60.10,60.10 0 0 0 109.35,76.71ZM105.06,71.92A66.50,66.50 0 0 1 105.50,71.47L110.99,76.79A58.85,58.85 0 0 0 110.61,77.19ZM105.46,71.51A66.50,66.50 0 0 1 105.90,71.06L110.60,75.68A59.91,59.91 0 0 0 110.21,76.09ZM105.87,71.09A66.50,66.50 0 0 1 106.31,70.64L111.13,75.47A59.69,59.69 0 0 0 110.73,75.87ZM106.28,70.68A66.50,66.50 0 0 1 106.72,70.24L112.16,75.77A58.74,58.74 0 0 0 111.76,76.16ZM106.69,70.27A66.50,66.50 0 0 1 107.14,69.83L111.72,74.58A59.90,59.90 0 0 0 111.31,74.97ZM107.11,69.86A66.50,66.50 0 0 1 107.56,69.43L112.50,74.64A59.32,59.32 0 0 0 112.09,75.03ZM107.95,69.06A66.50,66.50 0 0 1 108.41,68.64L113.73,74.45A58.62,58.62 0 0 0 113.32,74.83ZM108.80,68.28A66.50,66.50 0 0 1 109.27,67.86L114.52,73.80A58.57,58.57 0 0 0 114.11,74.17ZM109.67,67.51A66.50,66.50 0 0 1 110.15,67.10L114.91,72.69A59.16,59.16 0 0 0 114.49,73.05ZM111.00,66.39A66.50,66.50 0 0 1 111.49,65.99L116.25,71.88A58.92,58.92 0 0 0 115.82,72.23ZM113.74,64.24A66.50,66.50 0 0 1 114.25,63.87L117.81,68.78A60.44,60.44 0 0 0 117.35,69.12ZM114.68,63.56A66.50,66.50 0 0 1 115.20,63.20L119.14,68.84A59.61,59.61 0 0 0 118.68,69.17ZM116.11,62.57A66.50,66.50 0 0 1 116.63,62.22L120.87,68.63A58.82,58.82 0 0 0 120.41,68.94ZM116.60,62.25A66.50,66.50 0 0 1 117.12,61.90L121.18,68.17A59.03,59.03 0 0 0 120.72,68.47ZM117.57,61.61A66.50,66.50 0 0 1 118.10,61.28L121.54,66.79A60.00,60.00 0 0 0 121.06,67.10ZM118.06,61.30A66.50,66.50 0 0 1 118.59,60.98L122.01,66.56A59.95,59.95 0 0 0 121.53,66.86ZM119.05,60.70A66.50,66.50 0 0 1 119.59,60.38L122.97,66.12A59.84,59.84 0 0 0 122.48,66.41ZM119.55,60.40A66.50,66.50 0 0 1 120.09,60.09L123.69,66.32A59.30,59.30 0 0 0 123.20,66.61ZM121.06,59.54A66.50,66.50 0 0 1 121.61,59.24L125.01,65.51A59.36,59.36 0 0 0 124.52,65.78ZM121.57,59.26A66.50,66.50 0 0 1 122.12,58.96L125.10,64.58A60.14,60.14 0 0 0 124.60,64.84ZM122.08,58.98A66.50,66.50 0 0 1 122.63,58.69L125.60,64.40A60.06,60.06 0 0 0 125.10,64.67ZM122.59,58.71A66.50,66.50 0 0 1 123.15,58.43L126.13,64.28A59.93,59.93 0 0 0 125.63,64.54ZM123.11,58.45A66.50,66.50 0 0 1 123.67,58.17L127.03,64.92A58.96,58.96 0 0 0 126.53,65.17ZM123.63,58.19A66.50,66.50 0 0 1 124.19,57.91L127.81,65.35A58.22,58.22 0 0 0 127.32,65.59ZM124.67,57.68A66.50,66.50 0 0 1 125.24,57.41L128.69,64.83A58.31,58.31 0 0 0 128.20,65.07ZM125.72,57.19A66.50,66.50 0 0 1 126.29,56.93L129.70,64.58A58.12,58.12 0 0 0 129.20,64.81ZM126.78,56.72A66.50,66.50 0 0 1 127.36,56.47L130.18,63.13A59.26,59.26 0 0 0 129.67,63.35ZM127.85,56.26A66.50,66.50 0 0 1 128.43,56.02L131.19,62.87A59.12,59.12 0 0 0 130.68,63.08ZM128.93,55.83A66.50,66.50 0 0 1 129.51,55.60L132.09,62.34A59.28,59.28 0 0 0 131.57,62.54ZM129.47,55.62A66.50,66.50 0 0 1 130.05,55.40L132.61,62.23A59.20,59.20 0 0 0 132.08,62.43ZM130.01,55.41A66.50,66.50 0 0 1 130.60,55.19L132.59,60.67A60.68,60.68 0 0 0 132.05,60.86ZM130.56,55.21A66.50,66.50 0 0 1 131.15,55.00L133.20,60.82A60.33,60.33 0 0 0 132.67,61.01ZM131.10,55.01A66.50,66.50 0 0 1 131.69,54.81L133.66,60.53A60.45,60.45 0 0 0 133.12,60.72ZM132.20,54.64A66.50,66.50 0 0 1 132.79,54.44L134.86,60.81A59.80,59.80 0 0 0 134.32,60.99ZM132.75,54.45A66.50,66.50 0 0 1 133.35,54.26L135.25,60.33A60.14,60.14 0 0 0 134.71,60.50ZM133.30,54.28A66.50,66.50 0 0 1 133.90,54.09L135.83,60.41A59.90,59.90 0 0 0 135.29,60.57ZM134.41,53.94A66.50,66.50 0 0 1 135.01,53.76L137.04,60.84A59.14,59.14 0 0 0 136.50,60.99ZM134.97,53.78A66.50,66.50 0 0 1 135.57,53.61L137.46,60.42A59.43,59.43 0 0 0 136.92,60.57ZM135.53,53.62A66.50,66.50 0 0 1 136.13,53.45L137.96,60.27A59.44,59.44 0 0 0 137.42,60.42ZM138.91,52.78A66.50,66.50 0 0 1 139.52,52.64L140.96,59.46A59.53,59.53 0 0 0 140.41,59.58ZM141.18,52.31A66.50,66.50 0 0 1 141.80,52.20L143.03,59.23A59.36,59.36 0 0 0 142.48,59.33ZM142.90,52.02A66.50,66.50 0 0 1 143.52,51.92L144.51,58.59A59.76,59.76 0 0 0 143.95,58.68ZM144.04,51.85A66.50,66.50 0 0 1 144.67,51.76L145.53,58.37A59.84,59.84 0 0 0 144.97,58.45ZM145.20,51.70A66.50,66.50 0 0 1 145.82,51.62L146.74,59.76A58.31,58.31 0 0 0 146.19,59.83ZM145.77,51.63A66.50,66.50 0 0 1 146.40,51.56L147.21,59.36A58.66,58.66 0 0 0 146.66,59.42ZM146.93,51.51A66.50,66.50 0 0 1 147.55,51.45L148.12,58.07A59.86,59.86 0 0 0 147.56,58.12ZM147.50,51.45A66.50,66.50 0 0 1 148.13,51.40L148.73,59.06A58.82,58.82 0 0 0 148.17,59.10ZM148.08,51.40A66.50,66.50 0 0 1 148.71,51.36L149.18,58.16A59.69,59.69 0 0 0 148.62,58.20ZM148.66,51.36A66.50,66.50 0 0 1 149.29,51.32L149.69,58.08A59.73,59.73 0 0 0 149.13,58.11ZM149.82,51.29A66.50,66.50 0 0 1 150.45,51.26L150.73,57.97A59.78,59.78 0 0 0 150.17,58.00ZM150.40,51.26A66.50,66.50 0 0 1 151.03,51.24L151.28,58.64A59.09,59.09 0 0 0 150.72,58.67ZM151.56,51.22A66.50,66.50 0 0 1 152.19,51.21L152.31,58.43A59.28,59.28 0 0 0 151.75,58.44ZM152.72,51.20A66.50,66.50 0 0 1 153.35,51.20L153.34,58.48A59.22,59.22 0 0 0 152.78,58.49Z" fill="#b9b9b9"/>
<path d="M153.30,51.20A66.50,66.50 0 0 1 153.93,51.20L153.86,58.36A59.34,59.34 0 0 0 153.30,58.36ZM156.20,51.26A66.50,66.50 0 0 1 156.83,51.29L156.48,57.82A59.96,59.96 0 0 0 155.92,57.79ZM160.25,51.56A66.50,66.50 0 0 1 160.87,51.63L160.07,58.60A59.48,59.48 0 0 0 159.52,58.54ZM160.83,51.63A66.50,66.50 0 0 1 161.45,51.70L160.55,59.00A59.15,59.15 0 0 0 160.00,58.93ZM161.40,51.70A66.50,66.50 0 0 1 162.03,51.77L161.22,57.86A60.36,60.36 0 0 0 160.66,57.79ZM163.13,51.93A66.50,66.50 0 0 1 163.75,52.03L162.55,59.55A58.88,58.88 0 0 0 162.00,59.47ZM164.85,52.21A66.50,66.50 0 0 1 165.46,52.32L164.25,58.84A59.87,59.87 0 0 0 163.70,58.74ZM165.99,52.42A66.50,66.50 0 0 1 166.60,52.54L165.16,59.61A59.28,59.28 0 0 0 164.61,59.51ZM167.13,52.65A66.50,66.50 0 0 1 167.74,52.79L166.29,59.29A59.83,59.83 0 0 0 165.74,59.17ZM168.26,52.90A66.50,66.50 0 0 1 168.87,53.05L167.16,60.15A59.20,59.20 0 0 0 166.62,60.02ZM169.39,53.18A66.50,66.50 0 0 1 170.00,53.33L168.14,60.50A59.09,59.09 0 0 0 167.60,60.36ZM169.95,53.32A66.50,66.50 0 0 1 170.56,53.48L168.88,59.70A60.05,60.05 0 0 0 168.34,59.56ZM170.51,53.47A66.50,66.50 0 0 1 171.12,53.63L169.37,59.92A59.98,59.98 0 0 0 168.82,59.77ZM171.07,53.62A66.50,66.50 0 0 1 171.67,53.79L169.46,61.49A58.49,58.49 0 0 0 168.93,61.34ZM171.63,53.78A66.50,66.50 0 0 1 172.23,53.95L170.04,61.34A58.79,58.79 0 0 0 169.51,61.18ZM172.19,53.94A66.50,66.50 0 0 1 172.79,54.12L170.77,60.71A59.61,59.61 0 0 0 170.23,60.54ZM172.74,54.11A66.50,66.50 0 0 1 173.34,54.29L171.21,61.04A59.42,59.42 0 0 0 170.67,60.87ZM173.85,54.45A66.50,66.50 0 0 1 174.44,54.65L172.04,61.81A58.94,58.94 0 0 0 171.51,61.64ZM174.95,54.82A66.50,66.50 0 0 1 175.54,55.03L173.18,61.69A59.43,59.43 0 0 0 172.65,61.51ZM175.50,55.01A66.50,66.50 0 0 1 176.09,55.23L173.47,62.41A58.85,58.85 0 0 0 172.95,62.22ZM176.04,55.21A66.50,66.50 0 0 1 176.63,55.43L174.02,62.41A59.05,59.05 0 0 0 173.50,62.21ZM180.35,56.95A66.50,66.50 0 0 1 180.92,57.21L178.12,63.33A59.77,59.77 0 0 0 177.61,63.10ZM180.88,57.19A66.50,66.50 0 0 1 181.45,57.45L178.83,63.05A60.32,60.32 0 0 0 178.31,62.81ZM181.93,57.68A66.50,66.50 0 0 1 182.49,57.95L180.01,63.03A60.84,60.84 0 0 0 179.49,62.78ZM182.97,58.19A66.50,66.50 0 0 1 183.53,58.47L180.19,65.02A59.15,59.15 0 0 0 179.69,64.77ZM184.01,58.71A66.50,66.50 0 0 1 184.56,59.01L181.48,64.80A59.94,59.94 0 0 0 180.98,64.53ZM184.52,58.98A66.50,66.50 0 0 1 185.07,59.28L182.13,64.69A60.34,60.34 0 0 0 181.63,64.42ZM185.03,59.26A66.50,66.50 0 0 1 185.58,59.56L182.38,65.32A59.91,59.91 0 0 0 181.89,65.05ZM185.54,59.54A66.50,66.50 0 0 1 186.09,59.84L182.47,66.22A59.17,59.17 0 0 0 181.99,65.95ZM186.55,60.11A66.50,66.50 0 0 1 187.09,60.43L183.83,65.96A60.08,60.08 0 0 0 183.34,65.67ZM187.55,60.70A66.50,66.50 0 0 1 188.09,61.02L183.69,68.18A58.10,58.10 0 0 0 183.22,67.90ZM189.03,61.61A66.50,66.50 0 0 1 189.56,61.95L186.07,67.32A60.10,60.10 0 0 0 185.59,67.01ZM190.49,62.57A66.50,66.50 0 0 1 191.00,62.92L187.25,68.37A59.89,59.89 0 0 0 186.79,68.05ZM191.44,63.23A66.50,66.50 0 0 1 191.95,63.59L187.45,69.89A58.76,58.76 0 0 0 187.00,69.57ZM191.92,63.56A66.50,66.50 0 0 1 192.43,63.93L187.94,70.09A58.88,58.88 0 0 0 187.49,69.77ZM193.32,64.59A66.50,66.50 0 0 1 193.82,64.97L189.44,70.67A59.32,59.32 0 0 0 189.00,70.33ZM194.24,65.30A66.50,66.50 0 0 1 194.73,65.69L190.33,71.21A59.44,59.44 0 0 0 189.89,70.86ZM194.70,65.66A66.50,66.50 0 0 1 195.19,66.05L190.13,72.29A58.47,58.47 0 0 0 189.70,71.94ZM195.60,66.39A66.50,66.50 0 0 1 196.08,66.79L192.22,71.38A60.50,60.50 0 0 0 191.79,71.01ZM197.36,67.89A66.50,66.50 0 0 1 197.83,68.31L192.87,73.82A59.09,59.09 0 0 0 192.45,73.45ZM199.91,70.27A66.50,66.50 0 0 1 200.36,70.71L195.18,75.88A59.19,59.19 0 0 0 194.79,75.48ZM201.94,72.35A66.50,66.50 0 0 1 202.36,72.81L196.84,77.85A59.02,59.02 0 0 0 196.47,77.45ZM202.72,73.20A66.50,66.50 0 0 1 203.14,73.67L196.73,79.33A57.96,57.96 0 0 0 196.37,78.92ZM203.11,73.64A66.50,66.50 0 0 1 203.52,74.11L198.23,78.70A59.50,59.50 0 0 0 197.86,78.28ZM203.49,74.07A66.50,66.50 0 0 1 203.90,74.55L197.94,79.63A58.67,58.67 0 0 0 197.58,79.21ZM203.87,74.51A66.50,66.50 0 0 1 204.27,74.99L198.55,79.79A59.03,59.03 0 0 0 198.19,79.36ZM204.98,75.85A66.50,66.50 0 0 1 205.37,76.34L199.47,81.03A58.96,58.96 0 0 0 199.12,80.59ZM205.70,76.76A66.50,66.50 0 0 1 206.09,77.25L200.15,81.80A59.02,59.02 0 0 0 199.81,81.36ZM206.06,77.22A66.50,66.50 0 0 1 206.44,77.72L201.17,81.68A59.91,59.91 0 0 0 200.83,81.23ZM207.44,79.08A66.50,66.50 0 0 1 207.80,79.60L202.47,83.32A59.99,59.99 0 0 0 202.14,82.86ZM208.43,80.51A66.50,66.50 0 0 1 208.78,81.03L203.09,84.79A59.68,59.68 0 0 0 202.78,84.33ZM209.07,81.48A66.50,66.50 0 0 1 209.41,82.01L203.30,85.89A59.26,59.26 0 0 0 203.00,85.42ZM210.00,82.95A66.50,66.50 0 0 1 210.33,83.49L203.38,87.66A58.40,58.40 0 0 0 203.09,87.19ZM210.30,83.45A66.50,66.50 0 0 1 210.62,83.99L203.53,88.16A58.27,58.27 0 0 0 203.25,87.69ZM211.18,84.95A66.50,66.50 0 0 1 211.48,85.50L204.70,89.25A58.75,58.75 0 0 0 204.43,88.77ZM211.46,85.46A66.50,66.50 0 0 1 211.76,86.01L205.44,89.44A59.31,59.31 0 0 0 205.17,88.95ZM212.02,86.48A66.50,66.50 0 0 1 212.31,87.03L206.83,89.88A60.32,60.32 0 0 0 206.56,89.38ZM213.32,89.07A66.50,66.50 0 0 1 213.59,89.64L207.99,92.24A60.32,60.32 0 0 0 207.75,91.73ZM213.57,89.60A66.50,66.50 0 0 1 213.83,90.17L208.09,92.78A60.19,60.19 0 0 0 207.85,92.26ZM214.28,91.18A66.50,66.50 0 0 1 214.53,91.76L207.73,94.64A59.11,59.11 0 0 0 207.51,94.13ZM214.74,92.25A66.50,66.50 0 0 1 214.98,92.83L209.11,95.20A60.17,60.17 0 0 0 208.89,94.67ZM214.96,92.79A66.50,66.50 0 0 1 215.19,93.37L209.16,95.74A60.02,60.02 0 0 0 208.95,95.22ZM215.17,93.33A66.50,66.50 0 0 1 215.40,93.91L209.48,96.18A60.16,60.16 0 0 0 209.27,95.65ZM215.38,93.87A66.50,66.50 0 0 1 215.60,94.45L209.63,96.68A60.12,60.12 0 0 0 209.43,96.15ZM215.59,94.41A66.50,66.50 0 0 1 215.81,95.00L209.40,97.33A59.68,59.68 0 0 0 209.20,96.80ZM215.99,95.50A66.50,66.50 0 0 1 216.19,96.09L210.29,98.12A60.26,60.26 0 0 0 210.10,97.58ZM216.18,96.05A66.50,66.50 0 0 1 216.38,96.64L210.41,98.64A60.21,60.21 0 0 0 210.23,98.10ZM216.36,96.60A66.50,66.50 0 0 1 216.56,97.19L209.98,99.33A59.58,59.58 0 0 0 209.81,98.79ZM216.72,97.70A66.50,66.50 0 0 1 216.91,98.30L209.54,100.55A58.80,58.80 0 0 0 209.38,100.02ZM216.89,98.26A66.50,66.50 0 0 1 217.07,98.86L209.79,101.01A58.90,58.90 0 0 0 209.63,100.48ZM217.06,98.81A66.50,66.50 0 0 1 217.24,99.41L210.43,101.36A59.42,59.42 0 0 0 210.27,100.82ZM217.68,101.05A66.50,66.50 0 0 1 217.84,101.66L211.28,103.29A59.75,59.75 0 0 0 211.14,102.74ZM217.82,101.61A66.50,66.50 0 0 1 217.97,102.22L211.05,103.88A59.38,59.38 0 0 0 210.92,103.33ZM218.35,103.87A66.50,66.50 0 0 1 218.47,104.49L211.47,105.91A59.35,59.35 0 0 0 211.35,105.36ZM218.46,104.44A66.50,66.50 0 0 1 218.59,105.06L212.27,106.28A60.06,60.06 0 0 0 212.16,105.73ZM218.69,105.58A66.50,66.50 0 0 1 218.80,106.20L211.70,107.45A59.29,59.29 0 0 0 211.60,106.90ZM218.89,106.72A66.50,66.50 0 0 1 218.99,107.34L211.17,108.58A58.58,58.58 0 0 0 211.08,108.03ZM219.07,107.87A66.50,66.50 0 0 1 219.16,108.49L212.18,109.47A59.46,59.46 0 0 0 212.10,108.91ZM219.15,108.44A66.50,66.50 0 0 1 219.24,109.07L211.12,110.13A58.32,58.32 0 0 0 211.05,109.58ZM219.23,109.02A66.50,66.50 0 0 1 219.31,109.64L212.00,110.53A59.13,59.13 0 0 0 211.92,109.98ZM219.30,109.60A66.50,66.50 0 0 1 219.38,110.22L211.88,111.07A58.95,58.95 0 0 0 211.81,110.52ZM219.49,111.33A66.50,66.50 0 0 1 219.55,111.95L211.91,112.61A58.83,58.83 0 0 0 211.86,112.06ZM219.64,113.06A66.50,66.50 0 0 1 219.68,113.69L212.14,114.14A58.94,58.94 0 0 0 212.10,113.59ZM219.71,114.22A66.50,66.50 0 0 1 219.74,114.85L212.55,115.15A59.30,59.30 0 0 0 212.52,114.60ZM219.79,116.54A66.50,66.50 0 0 1 219.80,117.17L212.24,117.23A58.94,58.94 0 0 0 212.23,116.67ZM219.80,117.12A66.50,66.50 0 0 1 219.80,117.75L211.99,117.74A58.69,58.69 0 0 0 211.99,117.19ZM219.80,117.70A66.50,66.50 0 0 1 219.80,118.33L212.24,118.26A58.95,58.95 0 0 0 212.25,117.70ZM219.79,118.86A66.50,66.50 0 0 1 219.78,119.49L212.21,119.28A58.93,58.93 0 0 0 212.22,118.73ZM219.78,119.44A66.50,66.50 0 0 1 219.76,120.07L211.70,119.78A58.44,58.44 0 0 0 211.72,119.23ZM219.74,120.60A66.50,66.50 0 0 1 219.71,121.23L211.98,120.82A58.76,58.76 0 0 0 212.01,120.26ZM219.71,121.18A66.50,66.50 0 0 1 219.67,121.81L212.75,121.38A59.57,59.57 0 0 0 212.79,120.82ZM219.55,123.50A66.50,66.50 0 0 1 219.49,124.12L211.79,123.37A58.76,58.76 0 0 0 211.84,122.82ZM219.49,124.07A66.50,66.50 0 0 1 219.43,124.70L212.20,123.93A59.23,59.23 0 0 0 212.25,123.38ZM219.44,124.65A66.50,66.50 0 0 1 219.37,125.27L213.07,124.55A60.16,60.16 0 0 0 213.13,123.99ZM219.37,125.23A66.50,66.50 0 0 1 219.30,125.85L213.36,125.12A60.52,60.52 0 0 0 213.43,124.55ZM219.30,125.80A66.50,66.50 0 0 1 219.23,126.43L212.81,125.58A60.02,60.02 0 0 0 212.88,125.02ZM219.23,126.38A66.50,66.50 0 0 1 219.15,127.00L210.37,125.76A57.64,57.64 0 0 0 210.45,125.22ZM219.07,127.53A66.50,66.50 0 0 1 218.97,128.15L209.86,126.70A57.27,57.27 0 0 0 209.94,126.16ZM218.98,128.10A66.50,66.50 0 0 1 218.88,128.72L209.33,127.12A56.81,56.81 0 0 0 209.41,126.59ZM218.89,128.68A66.50,66.50 0 0 1 218.78,129.29L210.16,127.77A57.74,57.74 0 0 0 210.25,127.23ZM218.58,130.39A66.50,66.50 0 0 1 218.46,131.00L208.67,129.01A56.51,56.51 0 0 0 208.77,128.48ZM218.35,131.53A66.50,66.50 0 0 1 218.21,132.14L208.77,130.04A56.83,56.83 0 0 0 208.89,129.52ZM217.96,133.22A66.50,66.50 0 0 1 217.81,133.83L208.32,131.46A56.72,56.72 0 0 0 208.45,130.94ZM217.82,133.79A66.50,66.50 0 0 1 217.67,134.40L208.03,131.89A56.54,56.54 0 0 0 208.16,131.38ZM217.38,135.47A66.50,66.50 0 0 1 217.21,136.07L208.41,133.54A57.34,57.34 0 0 0 208.55,133.02ZM217.22,136.03A66.50,66.50 0 0 1 217.05,136.63L209.21,134.30A58.32,58.32 0 0 0 209.37,133.78ZM217.06,136.59A66.50,66.50 0 0 1 216.88,137.19L207.47,134.30A56.65,56.65 0 0 0 207.62,133.79ZM216.18,139.35A66.50,66.50 0 0 1 215.97,139.94L207.68,137.00A57.70,57.70 0 0 0 207.85,136.48ZM215.99,139.90A66.50,66.50 0 0 1 215.77,140.49L207.12,137.33A57.29,57.29 0 0 0 207.30,136.82ZM215.79,140.44A66.50,66.50 0 0 1 215.57,141.03L207.20,137.90A57.56,57.56 0 0 0 207.39,137.39ZM214.51,143.68A66.50,66.50 0 0 1 214.27,144.26L205.22,140.32A56.63,56.63 0 0 0 205.43,139.83ZM213.57,145.80A66.50,66.50 0 0 1 213.30,146.37L204.02,141.93A56.21,56.21 0 0 0 204.24,141.46ZM213.07,146.85A66.50,66.50 0 0 1 212.79,147.41L203.10,142.57A55.66,55.66 0 0 0 203.33,142.10ZM212.81,147.37A66.50,66.50 0 0 1 212.53,147.93L204.32,143.74A57.29,57.29 0 0 0 204.57,143.26ZM212.55,147.89A66.50,66.50 0 0 1 212.26,148.45L203.72,143.99A56.86,56.86 0 0 0 203.97,143.52ZM211.74,149.43A66.50,66.50 0 0 1 211.44,149.98L202.84,145.21A56.66,56.66 0 0 0 203.10,144.74ZM211.46,149.94A66.50,66.50 0 0 1 211.16,150.49L202.11,145.36A56.11,56.11 0 0 0 202.37,144.90ZM211.18,150.45A66.50,66.50 0 0 1 210.87,150.99L202.35,146.07A56.66,56.66 0 0 0 202.62,145.60ZM210.89,150.95A66.50,66.50 0 0 1 210.57,151.49L201.67,146.24A56.16,56.16 0 0 0 201.94,145.78ZM210.00,152.45A66.50,66.50 0 0 1 209.67,152.98L201.30,147.74A56.62,56.62 0 0 0 201.58,147.29ZM209.07,153.92A66.50,66.50 0 0 1 208.73,154.44L200.68,149.11A56.84,56.84 0 0 0 200.97,148.66ZM208.10,155.37A66.50,66.50 0 0 1 207.75,155.88L199.14,149.84A55.99,55.99 0 0 0 199.44,149.41ZM207.10,156.79A66.50,66.50 0 0 1 206.73,157.29L198.19,150.96A55.87,55.87 0 0 0 198.50,150.54ZM206.41,157.72A66.50,66.50 0 0 1 206.03,158.22L197.89,151.96A56.23,56.23 0 0 0 198.21,151.54ZM206.06,158.18A66.50,66.50 0 0 1 205.67,158.68L197.71,152.45A56.39,56.39 0 0 0 198.04,152.03ZM203.87,160.89A66.50,66.50 0 0 1 203.46,161.36L195.98,154.86A56.59,56.59 0 0 0 196.33,154.45ZM203.11,161.76A66.50,66.50 0 0 1 202.69,162.23L196.20,156.38A57.76,57.76 0 0 0 196.56,155.97ZM202.72,162.20A66.50,66.50 0 0 1 202.30,162.66L194.99,155.96A56.59,56.59 0 0 0 195.35,155.56ZM202.33,162.63A66.50,66.50 0 0 1 201.90,163.09L194.44,156.12A56.29,56.29 0 0 0 194.80,155.73ZM201.54,163.48A66.50,66.50 0 0 1 201.10,163.93L193.83,156.90A56.38,56.38 0 0 0 194.20,156.51ZM201.14,163.89A66.50,66.50 0 0 1 200.70,164.34L193.24,157.01A56.04,56.04 0 0 0 193.61,156.63ZM200.73,164.31A66.50,66.50 0 0 1 200.29,164.76L192.83,157.29A55.95,55.95 0 0 0 193.20,156.91ZM200.32,164.72A66.50,66.50 0 0 1 199.88,165.16L193.07,158.23A56.78,56.78 0 0 0 193.45,157.85ZM199.49,165.54A66.50,66.50 0 0 1 199.04,165.97L192.20,158.75A56.56,56.56 0 0 0 192.59,158.38ZM199.08,165.94A66.50,66.50 0 0 1 198.62,166.37L192.23,159.50A57.12,57.12 0 0 0 192.62,159.13ZM198.65,166.34A66.50,66.50 0 0 1 198.19,166.76L192.44,160.47A57.98,57.98 0 0 0 192.84,160.10ZM197.36,167.51A66.50,66.50 0 0 1 196.89,167.92L190.82,160.92A57.24,57.24 0 0 0 191.23,160.57ZM196.49,168.27A66.50,66.50 0 0 1 196.01,168.67L190.19,161.72A57.44,57.44 0 0 0 190.60,161.38ZM196.05,168.64A66.50,66.50 0 0 1 195.56,169.04L189.81,162.05A57.45,57.45 0 0 0 190.23,161.71ZM195.15,169.38A66.50,66.50 0 0 1 194.66,169.77L188.91,162.53A57.25,57.25 0 0 0 189.33,162.19ZM194.70,169.74A66.50,66.50 0 0 1 194.20,170.13L188.17,162.40A56.69,56.69 0 0 0 188.59,162.07ZM193.78,170.46A66.50,66.50 0 0 1 193.28,170.84L187.00,162.49A56.05,56.05 0 0 0 187.42,162.17ZM193.32,170.81A66.50,66.50 0 0 1 192.82,171.18L186.98,163.28A56.68,56.68 0 0 0 187.41,162.96ZM191.44,172.17A66.50,66.50 0 0 1 190.93,172.53L185.66,164.85A57.19,57.19 0 0 0 186.10,164.55ZM190.97,172.50A66.50,66.50 0 0 1 190.45,172.86L184.62,164.20A56.06,56.06 0 0 0 185.05,163.90ZM190.49,172.83A66.50,66.50 0 0 1 189.97,173.18L184.53,164.95A56.64,56.64 0 0 0 184.97,164.66ZM190.00,173.15A66.50,66.50 0 0 1 189.48,173.50L183.92,164.93A56.29,56.29 0 0 0 184.37,164.64ZM189.03,173.79A66.50,66.50 0 0 1 188.50,174.12L183.51,166.12A57.07,57.07 0 0 0 183.97,165.84ZM188.05,174.40A66.50,66.50 0 0 1 187.51,174.73L182.23,165.92A56.23,56.23 0 0 0 182.68,165.65ZM187.05,175.00A66.50,66.50 0 0 1 186.51,175.31L181.25,166.20A55.98,55.98 0 0 0 181.71,165.93ZM186.55,175.29A66.50,66.50 0 0 1 186.01,175.60L180.68,166.17A55.66,55.66 0 0 0 181.13,165.90ZM186.05,175.58A66.50,66.50 0 0 1 185.50,175.88L180.68,167.17A56.54,56.54 0 0 0 181.14,166.91ZM184.01,176.69A66.50,66.50 0 0 1 183.45,176.97L179.46,169.13A57.70,57.70 0 0 0 179.94,168.88ZM183.49,176.95A66.50,66.50 0 0 1 182.93,177.23L178.94,169.21A57.54,57.54 0 0 0 179.42,168.97ZM182.97,177.21A66.50,66.50 0 0 1 182.41,177.49L178.44,169.33A57.42,57.42 0 0 0 178.92,169.09ZM182.45,177.47A66.50,66.50 0 0 1 181.89,177.74L177.94,169.44A57.31,57.31 0 0 0 178.42,169.21ZM179.82,178.68A66.50,66.50 0 0 1 179.24,178.93L175.63,170.40A57.24,57.24 0 0 0 176.12,170.19ZM179.28,178.91A66.50,66.50 0 0 1 178.71,179.16L175.22,170.72A57.37,57.37 0 0 0 175.72,170.51ZM178.75,179.14A66.50,66.50 0 0 1 178.17,179.38L174.36,169.94A56.32,56.32 0 0 0 174.85,169.74ZM178.21,179.36A66.50,66.50 0 0 1 177.63,179.59L173.79,169.83A56.01,56.01 0 0 0 174.28,169.63ZM176.59,179.99A66.50,66.50 0 0 1 176.00,180.21L172.82,171.44A57.17,57.17 0 0 0 173.32,171.25ZM176.04,180.19A66.50,66.50 0 0 1 175.45,180.40L173.29,174.28A60.01,60.01 0 0 0 173.83,174.09ZM175.50,180.39A66.50,66.50 0 0 1 174.91,180.59L173.11,175.37A60.98,60.98 0 0 0 173.66,175.18ZM174.95,180.58A66.50,66.50 0 0 1 174.36,180.78L172.61,175.55A60.98,60.98 0 0 0 173.15,175.36ZM173.30,181.12A66.50,66.50 0 0 1 172.70,181.31L171.19,176.35A61.32,61.32 0 0 0 171.74,176.18ZM171.07,181.78A66.50,66.50 0 0 1 170.47,181.95L168.79,175.66A59.99,59.99 0 0 0 169.33,175.51ZM169.95,182.08A66.50,66.50 0 0 1 169.34,182.24L167.87,176.32A60.40,60.40 0 0 0 168.42,176.18ZM168.26,182.50A66.50,66.50 0 0 1 167.65,182.63L166.30,176.56A60.28,60.28 0 0 0 166.86,176.43ZM167.69,182.62A66.50,66.50 0 0 1 167.08,182.76L165.72,176.35A59.95,59.95 0 0 0 166.28,176.23ZM165.42,183.09A66.50,66.50 0 0 1 164.80,183.20L163.83,177.64A60.85,60.85 0 0 0 164.39,177.53ZM164.28,183.29A66.50,66.50 0 0 1 163.66,183.39L162.68,177.19A60.23,60.23 0 0 0 163.24,177.10ZM161.98,183.63A66.50,66.50 0 0 1 161.36,183.71L160.62,177.64A60.38,60.38 0 0 0 161.18,177.56ZM154.46,184.19A66.50,66.50 0 0 1 153.83,184.20L153.79,178.73A61.03,61.03 0 0 0 154.37,178.72ZM153.30,184.20A66.50,66.50 0 0 1 152.67,184.20L152.73,178.07A60.38,60.38 0 0 0 153.30,178.08ZM152.14,184.19A66.50,66.50 0 0 1 151.51,184.18L151.68,177.88A60.20,60.20 0 0 0 152.25,177.89ZM150.98,184.16A66.50,66.50 0 0 1 150.35,184.13L150.65,177.51A59.86,59.86 0 0 0 151.21,177.53ZM149.82,184.11A66.50,66.50 0 0 1 149.19,184.07L149.54,178.50A60.92,60.92 0 0 0 150.11,178.54ZM149.24,184.08A66.50,66.50 0 0 1 148.61,184.03L148.98,178.90A61.35,61.35 0 0 0 149.55,178.94ZM148.08,184.00A66.50,66.50 0 0 1 147.46,183.94L147.95,178.32A60.86,60.86 0 0 0 148.53,178.37ZM147.50,183.95A66.50,66.50 0 0 1 146.88,183.89L147.46,177.92A60.50,60.50 0 0 0 148.03,177.97ZM146.35,183.84A66.50,66.50 0 0 1 145.73,183.77L146.34,178.38A61.08,61.08 0 0 0 146.92,178.44ZM144.62,183.63A66.50,66.50 0 0 1 144.00,183.55L144.81,177.84A60.73,60.73 0 0 0 145.37,177.91ZM143.47,183.47A66.50,66.50 0 0 1 142.85,183.37L143.76,177.65A60.70,60.70 0 0 0 144.33,177.74ZM142.32,183.29A66.50,66.50 0 0 1 141.71,183.18L142.97,176.04A59.25,59.25 0 0 0 143.52,176.13ZM141.75,183.19A66.50,66.50 0 0 1 141.14,183.08L142.33,176.67A59.98,59.98 0 0 0 142.88,176.77ZM141.18,183.09A66.50,66.50 0 0 1 140.57,182.97L141.85,176.40A59.81,59.81 0 0 0 142.40,176.51ZM137.78,182.36A66.50,66.50 0 0 1 137.17,182.21L138.74,175.94A60.03,60.03 0 0 0 139.29,176.07ZM136.65,182.08A66.50,66.50 0 0 1 136.04,181.92L137.60,176.12A60.49,60.49 0 0 0 138.16,176.26ZM136.09,181.93A66.50,66.50 0 0 1 135.48,181.77L137.01,176.29A60.82,60.82 0 0 0 137.56,176.44ZM135.53,181.78A66.50,66.50 0 0 1 134.93,181.61L136.64,175.63A60.28,60.28 0 0 0 137.19,175.79ZM134.97,181.62A66.50,66.50 0 0 1 134.37,181.45L136.21,175.25A60.04,60.04 0 0 0 136.75,175.41ZM133.86,181.29A66.50,66.50 0 0 1 133.26,181.11L135.05,175.46A60.57,60.57 0 0 0 135.59,175.63ZM133.30,181.12A66.50,66.50 0 0 1 132.71,180.93L134.68,174.87A60.12,60.12 0 0 0 135.22,175.04ZM132.75,180.95A66.50,66.50 0 0 1 132.16,180.75L133.89,175.58A61.05,61.05 0 0 0 134.43,175.76ZM132.20,180.76A66.50,66.50 0 0 1 131.61,180.56L133.54,174.96A60.58,60.58 0 0 0 134.08,175.14ZM131.65,180.58A66.50,66.50 0 0 1 131.06,180.37L133.09,174.66A60.44,60.44 0 0 0 133.62,174.84ZM131.10,180.39A66.50,66.50 0 0 1 130.51,180.17L132.56,174.56A60.53,60.53 0 0 0 133.09,174.76ZM129.47,179.78A66.50,66.50 0 0 1 128.88,179.56L132.79,169.65A55.85,55.85 0 0 0 133.28,169.84ZM127.85,179.14A66.50,66.50 0 0 1 127.27,178.90L131.27,169.49A56.28,56.28 0 0 0 131.76,169.70ZM126.25,178.45A66.50,66.50 0 0 1 125.68,178.19L129.51,169.80A57.28,57.28 0 0 0 130.00,170.02ZM125.20,177.97A66.50,66.50 0 0 1 124.63,177.70L128.97,168.61A56.43,56.43 0 0 0 129.45,168.84ZM124.15,177.47A66.50,66.50 0 0 1 123.59,177.19L128.14,168.07A56.30,56.30 0 0 0 128.62,168.30ZM123.11,176.95A66.50,66.50 0 0 1 122.55,176.66L127.51,167.16A55.78,55.78 0 0 0 127.98,167.40ZM122.08,176.42A66.50,66.50 0 0 1 121.53,176.12L126.71,166.59A55.65,55.65 0 0 0 127.17,166.84ZM121.57,176.14A66.50,66.50 0 0 1 121.02,175.84L125.84,167.15A56.56,56.56 0 0 0 126.31,167.41ZM121.06,175.86A66.50,66.50 0 0 1 120.51,175.56L125.49,166.77A56.40,56.40 0 0 0 125.96,167.03ZM120.55,175.58A66.50,66.50 0 0 1 120.01,175.27L125.08,166.50A56.37,56.37 0 0 0 125.54,166.76ZM119.55,175.00A66.50,66.50 0 0 1 119.01,174.68L123.94,166.49A56.94,56.94 0 0 0 124.40,166.76ZM119.05,174.70A66.50,66.50 0 0 1 118.51,174.38L123.73,165.88A56.53,56.53 0 0 0 124.19,166.15ZM117.57,173.79A66.50,66.50 0 0 1 117.04,173.45L121.95,165.91A57.51,57.51 0 0 0 122.40,166.20ZM116.60,173.15A66.50,66.50 0 0 1 116.08,172.81L121.41,164.91A56.98,56.98 0 0 0 121.85,165.21ZM115.63,172.50A66.50,66.50 0 0 1 115.12,172.15L120.26,164.81A57.54,57.54 0 0 0 120.71,165.12ZM115.16,172.17A66.50,66.50 0 0 1 114.65,171.81L119.74,164.68A57.73,57.73 0 0 0 120.19,164.99ZM114.68,171.84A66.50,66.50 0 0 1 114.17,171.47L120.05,163.40A56.52,56.52 0 0 0 120.48,163.71ZM112.82,170.46A66.50,66.50 0 0 1 112.32,170.07L117.74,163.15A57.71,57.71 0 0 0 118.17,163.48ZM111.90,169.74A66.50,66.50 0 0 1 111.41,169.35L117.55,161.78A56.76,56.76 0 0 0 117.97,162.12ZM111.45,169.38A66.50,66.50 0 0 1 110.96,168.98L116.74,161.99A57.43,57.43 0 0 0 117.16,162.33ZM110.55,168.64A66.50,66.50 0 0 1 110.08,168.24L116.06,161.24A57.29,57.29 0 0 0 116.47,161.59ZM110.11,168.27A66.50,66.50 0 0 1 109.64,167.86L115.51,161.12A57.56,57.56 0 0 0 115.92,161.47ZM109.24,167.51A66.50,66.50 0 0 1 108.77,167.09L114.89,160.29A57.35,57.35 0 0 0 115.30,160.65ZM108.37,166.73A66.50,66.50 0 0 1 107.91,166.30L114.00,159.78A57.58,57.58 0 0 0 114.40,160.15ZM107.52,165.94A66.50,66.50 0 0 1 107.07,165.50L113.03,159.35A57.93,57.93 0 0 0 113.42,159.72ZM107.11,165.54A66.50,66.50 0 0 1 106.66,165.10L113.10,158.55A57.31,57.31 0 0 0 113.49,158.93ZM106.69,165.13A66.50,66.50 0 0 1 106.24,164.69L112.08,158.87A58.26,58.26 0 0 0 112.47,159.25ZM106.28,164.72A66.50,66.50 0 0 1 105.84,164.28L112.41,157.82A57.29,57.29 0 0 0 112.79,158.21ZM105.87,164.31A66.50,66.50 0 0 1 105.43,163.86L111.50,158.01A58.07,58.07 0 0 0 111.88,158.40ZM105.06,163.48A66.50,66.50 0 0 1 104.63,163.02L110.99,157.10A57.82,57.82 0 0 0 111.36,157.50ZM104.27,162.63A66.50,66.50 0 0 1 103.85,162.16L110.76,155.95A57.21,57.21 0 0 0 111.12,156.35ZM102.73,160.89A66.50,66.50 0 0 1 102.33,160.41L109.71,154.22A56.87,56.87 0 0 0 110.06,154.63ZM102.36,160.45A66.50,66.50 0 0 1 101.96,159.96L109.60,153.68A56.61,56.61 0 0 0 109.94,154.09ZM100.90,158.64A66.50,66.50 0 0 1 100.51,158.15L108.07,152.35A56.98,56.98 0 0 0 108.40,152.78ZM99.84,157.26A66.50,66.50 0 0 1 99.47,156.75L107.73,150.76A56.30,56.30 0 0 0 108.04,151.19ZM99.50,156.79A66.50,66.50 0 0 1 99.13,156.28L106.68,150.90A57.23,57.23 0 0 0 107.00,151.34ZM99.16,156.32A66.50,66.50 0 0 1 98.80,155.80L106.02,150.76A57.69,57.69 0 0 0 106.33,151.20ZM98.50,155.37A66.50,66.50 0 0 1 98.14,154.85L106.26,149.38A56.71,56.71 0 0 0 106.56,149.82ZM98.17,154.89A66.50,66.50 0 0 1 97.82,154.37L105.33,149.40A57.50,57.50 0 0 0 105.63,149.86ZM97.85,154.40A66.50,66.50 0 0 1 97.50,153.88L104.76,149.18A57.86,57.86 0 0 0 105.05,149.63ZM97.21,153.43A66.50,66.50 0 0 1 96.88,152.90L105.83,147.32A55.95,55.95 0 0 0 106.11,147.76ZM96.90,152.94A66.50,66.50 0 0 1 96.58,152.41L105.11,147.18A56.49,56.49 0 0 0 105.39,147.64ZM96.60,152.45A66.50,66.50 0 0 1 96.27,151.91L105.39,146.44A55.88,55.88 0 0 0 105.66,146.89ZM95.42,150.45A66.50,66.50 0 0 1 95.12,149.90L104.57,144.67A55.70,55.70 0 0 0 104.83,145.13ZM95.14,149.94A66.50,66.50 0 0 1 94.84,149.39L104.40,144.21A55.63,55.63 0 0 0 104.65,144.67ZM94.86,149.43A66.50,66.50 0 0 1 94.56,148.88L103.03,144.38A56.91,56.91 0 0 0 103.28,144.86ZM94.31,148.41A66.50,66.50 0 0 1 94.03,147.85L102.50,143.54A56.99,56.99 0 0 0 102.75,144.02ZM94.05,147.89A66.50,66.50 0 0 1 93.77,147.33L102.26,143.10A57.02,57.02 0 0 0 102.50,143.58ZM93.79,147.37A66.50,66.50 0 0 1 93.51,146.81L102.25,142.55A56.77,56.77 0 0 0 102.49,143.03ZM93.28,146.33A66.50,66.50 0 0 1 93.01,145.76L101.51,141.81A57.13,57.13 0 0 0 101.73,142.30ZM92.79,145.28A66.50,66.50 0 0 1 92.53,144.71L101.54,140.70A56.64,56.64 0 0 0 101.76,141.19ZM92.32,144.22A66.50,66.50 0 0 1 92.07,143.64L100.78,139.95A57.04,57.04 0 0 0 100.99,140.44ZM92.09,143.68A66.50,66.50 0 0 1 91.84,143.11L100.85,139.38A56.76,56.76 0 0 0 101.06,139.88ZM91.43,142.07A66.50,66.50 0 0 1 91.20,141.49L98.97,138.51A58.18,58.18 0 0 0 99.17,139.02ZM90.81,140.44A66.50,66.50 0 0 1 90.60,139.85L99.80,136.60A56.74,56.74 0 0 0 99.98,137.11ZM90.61,139.90A66.50,66.50 0 0 1 90.41,139.31L98.45,136.55A58.00,58.00 0 0 0 98.63,137.06ZM90.05,138.25A66.50,66.50 0 0 1 89.86,137.65L98.75,134.86A57.18,57.18 0 0 0 98.92,135.37ZM89.88,137.70A66.50,66.50 0 0 1 89.69,137.10L98.06,134.55A57.76,57.76 0 0 0 98.22,135.07ZM89.71,137.14A66.50,66.50 0 0 1 89.53,136.54L98.12,134.00A57.53,57.53 0 0 0 98.28,134.52ZM89.22,135.47A66.50,66.50 0 0 1 89.05,134.87L96.95,132.76A58.33,58.33 0 0 0 97.09,133.29ZM89.07,134.91A66.50,66.50 0 0 1 88.91,134.31L98.00,131.96A57.11,57.11 0 0 0 98.13,132.48ZM88.64,133.22A66.50,66.50 0 0 1 88.49,132.61L96.82,130.70A57.96,57.96 0 0 0 96.94,131.23ZM88.02,130.39A66.50,66.50 0 0 1 87.91,129.77L96.89,128.11A57.36,57.36 0 0 0 96.99,128.65ZM87.81,129.25A66.50,66.50 0 0 1 87.70,128.63L95.96,127.25A58.13,58.13 0 0 0 96.06,127.79ZM87.53,127.53A66.50,66.50 0 0 1 87.44,126.91L96.93,125.58A56.91,56.91 0 0 0 97.01,126.11ZM87.45,126.96A66.50,66.50 0 0 1 87.36,126.33L97.47,125.01A56.31,56.31 0 0 0 97.54,125.54ZM87.30,125.80A66.50,66.50 0 0 1 87.22,125.18L94.72,124.33A58.96,58.96 0 0 0 94.78,124.89ZM87.23,125.23A66.50,66.50 0 0 1 87.16,124.60L94.41,123.85A59.22,59.22 0 0 0 94.47,124.40ZM87.16,124.65A66.50,66.50 0 0 1 87.10,124.03L94.54,123.32A59.03,59.03 0 0 0 94.59,123.87ZM86.96,122.34A66.50,66.50 0 0 1 86.92,121.71L94.38,121.26A59.03,59.03 0 0 0 94.41,121.82ZM86.86,120.60A66.50,66.50 0 0 1 86.84,119.97L93.60,119.74A59.74,59.74 0 0 0 93.62,120.31ZM86.82,119.44A66.50,66.50 0 0 1 86.81,118.81L94.30,118.69A59.01,59.01 0 0 0 94.31,119.24ZM86.80,118.28A66.50,66.50 0 0 1 86.80,117.65L94.69,117.66A58.61,58.61 0 0 0 94.69,118.21ZM86.80,117.70A66.50,66.50 0 0 1 86.80,117.07L93.91,117.14A59.39,59.39 0 0 0 93.91,117.70ZM86.80,117.12A66.50,66.50 0 0 1 86.81,116.49L93.40,116.61A59.91,59.91 0 0 0 93.39,117.18ZM86.81,116.54A66.50,66.50 0 0 1 86.82,115.91L93.53,116.09A59.80,59.80 0 0 0 93.51,116.66ZM86.84,115.38A66.50,66.50 0 0 1 86.87,114.75L93.67,115.05A59.69,59.69 0 0 0 93.65,115.62ZM86.89,114.22A66.50,66.50 0 0 1 86.93,113.59L94.17,114.04A59.24,59.24 0 0 0 94.14,114.60ZM87.00,112.48A66.50,66.50 0 0 1 87.06,111.86L94.59,112.52A58.94,58.94 0 0 0 94.54,113.08ZM87.16,110.75A66.50,66.50 0 0 1 87.23,110.13L93.96,110.90A59.73,59.73 0 0 0 93.89,111.46ZM87.23,110.17A66.50,66.50 0 0 1 87.30,109.55L93.75,110.35A60.01,60.01 0 0 0 93.68,110.91ZM87.30,109.60A66.50,66.50 0 0 1 87.37,108.97L93.89,109.84A59.93,59.93 0 0 0 93.82,110.40ZM87.45,108.44A66.50,66.50 0 0 1 87.54,107.82L93.81,108.77A60.15,60.15 0 0 0 93.73,109.33ZM87.53,107.87A66.50,66.50 0 0 1 87.63,107.25L94.67,108.37A59.37,59.37 0 0 0 94.59,108.93ZM87.71,106.72A66.50,66.50 0 0 1 87.82,106.11L94.14,107.23A60.08,60.08 0 0 0 94.05,107.78ZM87.81,106.15A66.50,66.50 0 0 1 87.92,105.54L94.29,106.72A60.03,60.03 0 0 0 94.19,107.28ZM88.02,105.01A66.50,66.50 0 0 1 88.14,104.40L95.29,105.85A59.21,59.21 0 0 0 95.18,106.40ZM88.14,104.44A66.50,66.50 0 0 1 88.26,103.83L94.03,105.06A60.61,60.61 0 0 0 93.91,105.62ZM89.71,98.26A66.50,66.50 0 0 1 89.89,97.66L96.26,99.67A59.83,59.83 0 0 0 96.09,100.21ZM89.88,97.70A66.50,66.50 0 0 1 90.07,97.11L96.98,99.36A59.23,59.23 0 0 0 96.81,99.89ZM90.05,97.15A66.50,66.50 0 0 1 90.25,96.56L96.05,98.50A60.38,60.38 0 0 0 95.87,99.04ZM90.24,96.60A66.50,66.50 0 0 1 90.44,96.01L96.95,98.25A59.61,59.61 0 0 0 96.77,98.79ZM91.01,94.41A66.50,66.50 0 0 1 91.23,93.83L97.49,96.23A59.80,59.80 0 0 0 97.29,96.76ZM91.43,93.33A66.50,66.50 0 0 1 91.66,92.75L97.29,95.02A60.43,60.43 0 0 0 97.07,95.55ZM91.64,92.79A66.50,66.50 0 0 1 91.88,92.21L98.74,95.06A59.07,59.07 0 0 0 98.53,95.57ZM91.86,92.25A66.50,66.50 0 0 1 92.10,91.67L97.56,93.99A60.57,60.57 0 0 0 97.34,94.52ZM92.09,91.72A66.50,66.50 0 0 1 92.33,91.14L98.74,93.93A59.51,59.51 0 0 0 98.52,94.45ZM93.03,89.60A66.50,66.50 0 0 1 93.30,89.03L99.57,92.03A59.55,59.55 0 0 0 99.33,92.53ZM93.79,88.03A66.50,66.50 0 0 1 94.07,87.47L100.20,90.60A59.62,59.62 0 0 0 99.94,91.10ZM94.31,86.99A66.50,66.50 0 0 1 94.61,86.44L100.73,89.70A59.57,59.57 0 0 0 100.47,90.20ZM94.58,86.48A66.50,66.50 0 0 1 94.88,85.93L101.68,89.63A58.76,58.76 0 0 0 101.42,90.12ZM94.86,85.97A66.50,66.50 0 0 1 95.16,85.42L100.75,88.52A60.11,60.11 0 0 0 100.48,89.02ZM95.42,84.95A66.50,66.50 0 0 1 95.73,84.41L102.46,88.30A58.73,58.73 0 0 0 102.18,88.78ZM95.71,84.45A66.50,66.50 0 0 1 96.03,83.91L102.86,87.94A58.56,58.56 0 0 0 102.58,88.42ZM96.60,82.95A66.50,66.50 0 0 1 96.93,82.42L102.87,86.14A59.49,59.49 0 0 0 102.58,86.62ZM96.90,82.46A66.50,66.50 0 0 1 97.24,81.93L102.52,85.30A60.24,60.24 0 0 0 102.21,85.78ZM97.53,81.48A66.50,66.50 0 0 1 97.87,80.96L103.54,84.72A59.70,59.70 0 0 0 103.23,85.19ZM98.50,80.03A66.50,66.50 0 0 1 98.85,79.52L103.41,82.72A60.93,60.93 0 0 0 103.09,83.19ZM98.83,79.56A66.50,66.50 0 0 1 99.19,79.05L104.42,82.78A60.08,60.08 0 0 0 104.09,83.24ZM99.16,79.08A66.50,66.50 0 0 1 99.53,78.57L104.71,82.34A60.09,60.09 0 0 0 104.38,82.80ZM99.50,78.61A66.50,66.50 0 0 1 99.87,78.11L105.19,82.04A59.89,59.89 0 0 0 104.85,82.50ZM100.90,76.76A66.50,66.50 0 0 1 101.29,76.27L105.76,79.83A60.78,60.78 0 0 0 105.41,80.28ZM101.99,75.40A66.50,66.50 0 0 1 102.39,74.92L107.82,79.49A59.40,59.40 0 0 0 107.47,79.92ZM103.49,73.64A66.50,66.50 0 0 1 103.91,73.17L108.60,77.40A60.18,60.18 0 0 0 108.23,77.82ZM103.88,73.20A66.50,66.50 0 0 1 104.30,72.74L109.75,77.74A59.11,59.11 0 0 0 109.37,78.15ZM107.52,69.46A66.50,66.50 0 0 1 107.98,69.03L113.24,74.68A58.78,58.78 0 0 0 112.84,75.06ZM108.37,68.67A66.50,66.50 0 0 1 108.84,68.25L113.69,73.65A59.24,59.24 0 0 0 113.28,74.02ZM109.24,67.89A66.50,66.50 0 0 1 109.71,67.48L114.80,73.34A58.74,58.74 0 0 0 114.38,73.71ZM110.11,67.13A66.50,66.50 0 0 1 110.59,66.73L114.82,71.78A59.91,59.91 0 0 0 114.39,72.14ZM110.55,66.76A66.50,66.50 0 0 1 111.04,66.36L115.83,72.18A58.96,58.96 0 0 0 115.40,72.54ZM111.45,66.02A66.50,66.50 0 0 1 111.94,65.63L116.32,71.15A59.45,59.45 0 0 0 115.89,71.50ZM111.90,65.66A66.50,66.50 0 0 1 112.40,65.27L116.54,70.58A59.77,59.77 0 0 0 116.09,70.92ZM112.36,65.30A66.50,66.50 0 0 1 112.85,64.91L117.16,70.54A59.42,59.42 0 0 0 116.72,70.88ZM112.82,64.94A66.50,66.50 0 0 1 113.32,64.56L117.53,70.16A59.49,59.49 0 0 0 117.08,70.50ZM113.28,64.59A66.50,66.50 0 0 1 113.78,64.22L117.36,69.07A60.47,60.47 0 0 0 116.91,69.41ZM114.21,63.90A66.50,66.50 0 0 1 114.72,63.53L119.10,69.68A58.96,58.96 0 0 0 118.65,70.00ZM115.16,63.23A66.50,66.50 0 0 1 115.67,62.87L119.34,68.21A60.02,60.02 0 0 0 118.87,68.53ZM115.63,62.90A66.50,66.50 0 0 1 116.15,62.54L119.89,68.09A59.81,59.81 0 0 0 119.42,68.41ZM117.08,61.93A66.50,66.50 0 0 1 117.61,61.59L121.42,67.58A59.40,59.40 0 0 0 120.95,67.88ZM118.55,61.00A66.50,66.50 0 0 1 119.09,60.67L122.84,66.93A59.21,59.21 0 0 0 122.36,67.22ZM120.05,60.11A66.50,66.50 0 0 1 120.59,59.80L123.89,65.64A59.79,59.79 0 0 0 123.40,65.92ZM120.55,59.82A66.50,66.50 0 0 1 121.10,59.52L124.29,65.28A59.91,59.91 0 0 0 123.80,65.56ZM124.15,57.93A66.50,66.50 0 0 1 124.71,57.66L127.89,64.34A59.10,59.10 0 0 0 127.39,64.58ZM125.20,57.43A66.50,66.50 0 0 1 125.77,57.17L128.94,64.14A58.84,58.84 0 0 0 128.43,64.37ZM126.25,56.95A66.50,66.50 0 0 1 126.83,56.70L129.72,63.36A59.24,59.24 0 0 0 129.21,63.58ZM127.32,56.49A66.50,66.50 0 0 1 127.89,56.24L130.62,62.83A59.37,59.37 0 0 0 130.10,63.05ZM128.39,56.04A66.50,66.50 0 0 1 128.97,55.81L131.78,62.97A58.81,58.81 0 0 0 131.27,63.17ZM131.65,54.82A66.50,66.50 0 0 1 132.24,54.62L134.19,60.45A60.35,60.35 0 0 0 133.65,60.64ZM133.86,54.11A66.50,66.50 0 0 1 134.46,53.93L136.59,61.16A58.96,58.96 0 0 0 136.06,61.32ZM136.09,53.47A66.50,66.50 0 0 1 136.69,53.31L138.28,59.46A60.15,60.15 0 0 0 137.73,59.60ZM136.65,53.32A66.50,66.50 0 0 1 137.26,53.16L138.94,59.93A59.53,59.53 0 0 0 138.40,60.07ZM137.21,53.18A66.50,66.50 0 0 1 137.82,53.03L139.37,59.48A59.86,59.86 0 0 0 138.82,59.61ZM137.78,53.04A66.50,66.50 0 0 1 138.39,52.89L139.86,59.29A59.94,59.94 0 0 0 139.31,59.42ZM138.34,52.90A66.50,66.50 0 0 1 138.95,52.77L140.42,59.41A59.69,59.69 0 0 0 139.87,59.54ZM139.47,52.65A66.50,66.50 0 0 1 140.09,52.53L141.56,59.79A59.09,59.09 0 0 0 141.01,59.90ZM140.04,52.54A66.50,66.50 0 0 1 140.66,52.41L141.92,58.96A59.84,59.84 0 0 0 141.37,59.07ZM140.61,52.42A66.50,66.50 0 0 1 141.23,52.31L142.57,59.59A59.09,59.09 0 0 0 142.02,59.69ZM141.75,52.21A66.50,66.50 0 0 1 142.37,52.10L143.58,59.39A59.11,59.11 0 0 0 143.04,59.49ZM142.32,52.11A66.50,66.50 0 0 1 142.94,52.01L144.06,59.11A59.31,59.31 0 0 0 143.51,59.20ZM143.47,51.93A66.50,66.50 0 0 1 144.09,51.84L145.09,59.02A59.25,59.25 0 0 0 144.54,59.10ZM144.62,51.77A66.50,66.50 0 0 1 145.24,51.69L146.13,59.00A59.13,59.13 0 0 0 145.58,59.07ZM146.35,51.56A66.50,66.50 0 0 1 146.97,51.50L147.64,58.51A59.46,59.46 0 0 0 147.09,58.57ZM149.24,51.32A66.50,66.50 0 0 1 149.87,51.29L150.21,57.89A59.89,59.89 0 0 0 149.64,57.92ZM150.98,51.24A66.50,66.50 0 0 1 151.61,51.22L151.77,57.67A60.05,60.05 0 0 0 151.20,57.69ZM152.14,51.21A66.50,66.50 0 0 1 152.77,51.20L152.82,57.80A59.90,59.90 0 0 0 152.25,57.81Z" fill="#c2c2c2"/>
<circle cx="153.3" cy="117.7" r="52.90" fill="none" stroke="#d4d4d4" stroke-width="0.6"/>
<circle cx="153.3" cy="117.7" r="66.50" fill="none" stroke="#1a1a1a" stroke-width="1.1"/>
<path d="M219.26,126.15A66.50,66.50 0 0 1 176.37,180.07" fill="none" stroke="#111" stroke-width="1.5"/>
<path d="M129.47,179.78A66.50,66.50 0 0 1 87.34,126.15" fill="none" stroke="#111" stroke-width="1.5"/>
<path d="M150.75,51.25A66.50,66.50 0 0 1 155.85,51.25" fill="none" stroke="#f2f2f2" stroke-width="1.6"/>
<text transform="translate(153.30,51.00) rotate(0.0)" text-anchor="middle" dy="0.7" font-family="Liberation Sans" font-size="2.4" fill="#8a8a8a">LSC</text>
<path d="M206.89,157.07A66.50,66.50 0 0 1 203.72,161.06" fill="none" stroke="#f2f2f2" stroke-width="1.6"/>
<text transform="translate(205.50,159.22) rotate(-51.5)" text-anchor="middle" dy="0.7" font-family="Liberation Sans" font-size="2.4" fill="#8a8a8a">IRB</text>
<path d="M155.39,184.17A66.50,66.50 0 0 1 150.28,184.13" fill="none" stroke="#f2f2f2" stroke-width="1.6"/>
<text transform="translate(152.83,184.40) rotate(0.4)" text-anchor="middle" dy="0.7" font-family="Liberation Sans" font-size="2.4" fill="#8a8a8a">SSC</text>
<path d="M102.88,161.06A66.50,66.50 0 0 1 99.71,157.07" fill="none" stroke="#f2f2f2" stroke-width="1.6"/>
<text transform="translate(101.10,159.22) rotate(51.5)" text-anchor="middle" dy="0.7" font-family="Liberation Sans" font-size="2.4" fill="#8a8a8a">IRA</text>
<line x1="216.09" y1="125.74" x2="222.44" y2="126.56" stroke="#111" stroke-width="0.8"/>
<line x1="175.26" y1="177.07" x2="177.48" y2="183.07" stroke="#111" stroke-width="0.8"/>
<line x1="130.62" y1="176.80" x2="128.32" y2="182.77" stroke="#111" stroke-width="0.8"/>
<line x1="90.51" y1="125.74" x2="84.16" y2="126.56" stroke="#111" stroke-width="0.8"/>
<path d="M63.26,68.30A102.70,102.70 0 0 1 64.05,66.89L68.91,69.66A97.10,97.10 0 0 0 68.17,71.00ZM58.11,62.18A110.20,110.20 0 0 1 58.79,61.03L64.02,64.16A104.10,104.10 0 0 0 63.37,65.26ZM262.53,132.27A110.20,110.20 0 0 1 261.13,140.42L255.16,139.17A104.10,104.10 0 0 0 256.49,131.47ZM52.81,138.88A102.70,102.70 0 0 1 51.50,131.28L57.05,130.54A97.10,97.10 0 0 0 58.29,137.72ZM128.32,225.03A110.20,110.20 0 0 1 127.20,224.76L128.65,218.84A104.10,104.10 0 0 0 129.71,219.09ZM51.50,131.28A102.70,102.70 0 0 1 51.14,128.26L56.71,127.68A97.10,97.10 0 0 0 57.05,130.54ZM50.83,124.51A102.70,102.70 0 0 1 50.61,119.04L56.21,118.97A97.10,97.10 0 0 0 56.41,124.14ZM50.60,118.24A102.70,102.70 0 0 1 50.61,116.45L56.21,116.51A97.10,97.10 0 0 0 56.20,118.21Z" fill="#a87838" stroke="#000" stroke-opacity="0.3" stroke-width="0.3"/>
<path d="M59.09,60.53A110.20,110.20 0 0 1 59.79,59.38L64.97,62.61A104.10,104.10 0 0 0 64.30,63.70ZM139.18,15.97A102.70,102.70 0 0 1 142.56,15.56L143.15,21.13A97.10,97.10 0 0 0 139.95,21.52ZM174.65,17.24A102.70,102.70 0 0 1 175.88,17.51L174.65,22.98A97.10,97.10 0 0 0 173.49,22.72ZM243.55,68.70A102.70,102.70 0 0 1 244.89,71.23L239.89,73.77A97.10,97.10 0 0 0 238.63,71.37ZM255.30,105.72A102.70,102.70 0 0 1 255.74,110.36L250.15,110.76A97.10,97.10 0 0 0 249.74,106.37ZM238.70,187.35A110.20,110.20 0 0 1 237.35,188.98L232.69,185.03A104.10,104.10 0 0 0 233.97,183.49ZM74.97,184.13A102.70,102.70 0 0 1 73.71,182.61L78.05,179.07A97.10,97.10 0 0 0 79.24,180.50ZM237.16,189.20A110.20,110.20 0 0 1 235.83,190.72L231.27,186.68A104.10,104.10 0 0 0 232.52,185.24ZM76.38,185.75A102.70,102.70 0 0 1 75.15,184.33L79.41,180.70A97.10,97.10 0 0 0 80.58,182.04ZM171.13,218.84A102.70,102.70 0 0 1 170.07,219.02L169.16,213.50A97.10,97.10 0 0 0 170.16,213.32ZM51.14,128.26A102.70,102.70 0 0 1 50.98,126.47L56.55,125.99A97.10,97.10 0 0 0 56.71,127.68ZM50.61,116.09A102.70,102.70 0 0 1 50.69,113.40L56.29,113.63A97.10,97.10 0 0 0 56.21,116.17ZM50.83,110.89A102.70,102.70 0 0 1 50.98,108.93L56.55,109.41A97.10,97.10 0 0 0 56.41,111.26Z" fill="#dba575" stroke="#000" stroke-opacity="0.3" stroke-width="0.3"/>
<path d="M60.51,58.25A110.20,110.20 0 0 1 61.25,57.12L66.34,60.47A104.10,104.10 0 0 0 65.65,61.54ZM137.50,16.22A102.70,102.70 0 0 1 138.39,16.09L139.20,21.63A97.10,97.10 0 0 0 138.36,21.76ZM142.64,8.02A110.20,110.20 0 0 1 143.60,7.93L144.14,14.00A104.10,104.10 0 0 0 143.23,14.09ZM177.19,17.82A102.70,102.70 0 0 1 178.06,18.03L176.71,23.46A97.10,97.10 0 0 0 175.89,23.26ZM200.66,18.19A110.20,110.20 0 0 1 201.52,18.61L198.85,24.10A104.10,104.10 0 0 0 198.03,23.70ZM199.36,25.91A102.70,102.70 0 0 1 200.16,26.32L197.61,31.30A97.10,97.10 0 0 0 196.85,30.92ZM200.80,26.65A102.70,102.70 0 0 1 201.59,27.06L198.96,32.01A97.10,97.10 0 0 0 198.21,31.61ZM214.84,26.29A110.20,110.20 0 0 1 215.64,26.83L212.19,31.86A104.10,104.10 0 0 0 211.44,31.35ZM255.01,103.50A102.70,102.70 0 0 1 255.13,104.38L249.58,105.11A97.10,97.10 0 0 0 249.47,104.27ZM247.71,174.54A110.20,110.20 0 0 1 247.21,175.36L242.01,172.17A104.10,104.10 0 0 0 242.48,171.39ZM65.78,171.44A102.70,102.70 0 0 1 65.32,170.67L70.11,167.78A97.10,97.10 0 0 0 70.55,168.51ZM232.84,193.97A110.20,110.20 0 0 1 232.30,194.53L227.93,190.27A104.10,104.10 0 0 0 228.44,189.75ZM79.67,189.30A102.70,102.70 0 0 1 79.18,188.78L83.22,184.91A97.10,97.10 0 0 0 83.69,185.39Z" fill="#9aa2dc"/>
<path d="M68.26,60.12A102.70,102.70 0 0 1 69.28,58.65L73.86,61.87A97.10,97.10 0 0 0 72.90,63.26ZM112.82,15.20A110.20,110.20 0 0 1 113.72,14.85L115.91,20.55A104.10,104.10 0 0 0 115.06,20.88ZM129.73,10.05A110.20,110.20 0 0 1 130.67,9.85L131.92,15.82A104.10,104.10 0 0 0 131.03,16.01ZM179.68,10.70A110.20,110.20 0 0 1 180.61,10.94L179.10,16.85A104.10,104.10 0 0 0 178.22,16.63ZM261.51,96.86A110.20,110.20 0 0 1 261.69,97.81L255.69,98.91A104.10,104.10 0 0 0 255.52,98.02ZM255.89,112.95A102.70,102.70 0 0 1 255.91,113.49L250.32,113.72A97.10,97.10 0 0 0 250.30,113.21ZM255.28,129.86A102.70,102.70 0 0 1 255.19,130.57L249.63,129.87A97.10,97.10 0 0 0 249.72,129.20ZM261.13,140.42A110.20,110.20 0 0 1 260.89,141.55L254.93,140.23A104.10,104.10 0 0 0 255.16,139.17ZM53.03,139.93A102.70,102.70 0 0 1 52.81,138.88L58.29,137.72A97.10,97.10 0 0 0 58.50,138.72ZM198.16,210.08A102.70,102.70 0 0 1 197.19,210.55L194.80,205.49A97.10,97.10 0 0 0 195.71,205.05ZM106.21,217.33A110.20,110.20 0 0 1 105.16,216.83L107.83,211.34A104.10,104.10 0 0 0 108.81,211.81Z" fill="#b8bef0"/>
<path d="M63.25,54.18A110.20,110.20 0 0 1 64.37,52.62L69.30,56.22A104.10,104.10 0 0 0 68.24,57.69Z" fill="#c8dc96"/>
<path d="M74.40,51.96A102.70,102.70 0 0 1 76.15,49.92L80.35,53.61A97.10,97.10 0 0 0 78.70,55.55ZM83.43,32.48A110.20,110.20 0 0 1 84.17,31.88L88.00,36.63A104.10,104.10 0 0 0 87.29,37.20ZM95.88,23.64A110.20,110.20 0 0 1 101.06,20.67L103.95,26.04A104.10,104.10 0 0 0 99.06,28.85ZM186.07,12.49A110.20,110.20 0 0 1 196.00,16.11L193.64,21.73A104.10,104.10 0 0 0 184.26,18.31ZM255.74,125.04A102.70,102.70 0 0 1 255.32,129.50L249.76,128.86A97.10,97.10 0 0 0 250.15,124.64ZM47.58,86.59A110.20,110.20 0 0 1 47.80,85.85L53.64,87.61A104.10,104.10 0 0 0 53.44,88.31ZM47.97,85.30A110.20,110.20 0 0 1 49.81,79.83L55.54,81.93A104.10,104.10 0 0 0 53.80,87.09Z" fill="#2f9a2f" stroke="#000" stroke-opacity="0.3" stroke-width="0.3"/>
<path d="M73.36,41.84A110.20,110.20 0 0 1 76.47,38.70L80.73,43.07A104.10,104.10 0 0 0 77.79,46.04ZM44.17,102.36A110.20,110.20 0 0 1 45.05,97.05L51.04,98.19A104.10,104.10 0 0 0 50.21,103.21ZM45.35,95.54A110.20,110.20 0 0 1 46.85,89.18L52.75,90.76A104.10,104.10 0 0 0 51.33,96.77Z" fill="#7f9f12" stroke="#000" stroke-opacity="0.3" stroke-width="0.3"/>
<path d="M77.72,37.50A110.20,110.20 0 0 1 80.28,35.17L84.32,39.73A104.10,104.10 0 0 0 81.91,41.94ZM87.75,29.11A110.20,110.20 0 0 1 92.96,25.49L96.30,30.59A104.10,104.10 0 0 0 91.38,34.02ZM136.06,226.54A110.20,110.20 0 0 1 131.14,225.65L132.37,219.67A104.10,104.10 0 0 0 137.02,220.52Z" fill="#a418a4" stroke="#000" stroke-opacity="0.3" stroke-width="0.3"/>
<path d="M81.58,34.03A110.20,110.20 0 0 1 82.61,33.16L86.53,37.84A104.10,104.10 0 0 0 85.55,38.66ZM145.42,15.30A102.70,102.70 0 0 1 153.30,15.00L153.30,20.60A97.10,97.10 0 0 0 145.85,20.89ZM153.30,15.00A102.70,102.70 0 0 1 153.48,15.00L153.47,20.60A97.10,97.10 0 0 0 153.30,20.60ZM253.53,140.10A102.70,102.70 0 0 1 243.21,167.33L238.31,164.63A97.10,97.10 0 0 0 248.06,138.88ZM56.82,170.96A110.20,110.20 0 0 1 45.75,141.74L51.71,140.41A104.10,104.10 0 0 0 62.16,168.01ZM194.58,211.74A102.70,102.70 0 0 1 171.66,218.74L170.66,213.24A97.10,97.10 0 0 0 192.33,206.61ZM113.99,220.65A110.20,110.20 0 0 1 109.71,218.91L112.12,213.31A104.10,104.10 0 0 0 116.16,214.95Z" fill="#fdf8d2" stroke="#a09870" stroke-width="0.3"/>
<path d="M108.44,25.32A102.70,102.70 0 0 1 113.83,22.89L115.98,28.06A97.10,97.10 0 0 0 110.89,30.35ZM205.04,28.98A102.70,102.70 0 0 1 205.81,29.44L202.95,34.25A97.10,97.10 0 0 0 202.22,33.82ZM211.94,24.40A110.20,110.20 0 0 1 212.75,24.91L209.46,30.05A104.10,104.10 0 0 0 208.70,29.56ZM245.13,71.72A102.70,102.70 0 0 1 246.97,75.60L241.87,77.90A97.10,97.10 0 0 0 240.12,74.22ZM247.41,76.58A102.70,102.70 0 0 1 247.98,77.90L242.81,80.07A97.10,97.10 0 0 0 242.28,78.83ZM248.32,78.73A102.70,102.70 0 0 1 252.55,91.29L247.14,92.73A97.10,97.10 0 0 0 243.14,80.85Z" fill="#9ec41c" stroke="#000" stroke-opacity="0.3" stroke-width="0.3"/>
<path d="M111.98,23.68A102.70,102.70 0 0 1 112.39,23.50L114.62,28.64A97.10,97.10 0 0 0 114.23,28.81ZM250.27,83.88A102.70,102.70 0 0 1 250.42,84.31L245.12,86.13A97.10,97.10 0 0 0 244.99,85.73Z" fill="#7a9a10"/>
<path d="M113.99,14.75A110.20,110.20 0 0 1 116.51,13.82L118.55,19.57A104.10,104.10 0 0 0 116.16,20.45ZM131.33,9.71A110.20,110.20 0 0 1 133.79,9.24L134.87,15.25A104.10,104.10 0 0 0 132.55,15.69ZM260.27,91.23A110.20,110.20 0 0 1 260.97,94.22L255.01,95.52A104.10,104.10 0 0 0 254.35,92.69ZM255.91,113.49A102.70,102.70 0 0 1 255.99,116.45L250.39,116.51A97.10,97.10 0 0 0 250.32,113.72ZM255.87,122.90A102.70,102.70 0 0 1 255.82,123.79L250.23,123.46A97.10,97.10 0 0 0 250.28,122.61ZM217.51,197.85A102.70,102.70 0 0 1 212.50,201.62L209.27,197.04A97.10,97.10 0 0 0 214.01,193.48ZM89.78,207.75A110.20,110.20 0 0 1 84.40,203.70L88.21,198.94A104.10,104.10 0 0 0 93.29,202.76Z" fill="#0e1d84" stroke="#000" stroke-opacity="0.3" stroke-width="0.3"/>
<path d="M123.27,19.49A102.70,102.70 0 0 1 125.25,18.90L126.78,24.29A97.10,97.10 0 0 0 124.91,24.84ZM125.42,18.86A102.70,102.70 0 0 1 127.41,18.32L128.82,23.74A97.10,97.10 0 0 0 126.94,24.25ZM127.59,18.27A102.70,102.70 0 0 1 129.33,17.84L130.63,23.28A97.10,97.10 0 0 0 128.99,23.69ZM245.62,177.88A110.20,110.20 0 0 1 240.49,185.09L235.67,181.36A104.10,104.10 0 0 0 240.51,174.55ZM72.04,180.50A102.70,102.70 0 0 1 67.27,173.78L71.96,170.73A97.10,97.10 0 0 0 76.47,177.08ZM169.72,219.08A102.70,102.70 0 0 1 165.02,219.73L164.38,214.17A97.10,97.10 0 0 0 168.82,213.55ZM164.57,219.78A102.70,102.70 0 0 1 155.27,220.38L155.16,214.78A97.10,97.10 0 0 0 163.96,214.21ZM154.91,220.39A102.70,102.70 0 0 1 152.76,220.40L152.79,214.80A97.10,97.10 0 0 0 154.83,214.79ZM151.69,220.39A102.70,102.70 0 0 1 150.16,220.35L150.33,214.75A97.10,97.10 0 0 0 151.77,214.79ZM149.36,220.32A102.70,102.70 0 0 1 147.93,220.26L148.22,214.67A97.10,97.10 0 0 0 149.57,214.73ZM144.71,220.04A102.70,102.70 0 0 1 137.77,219.22L138.61,213.68A97.10,97.10 0 0 0 145.17,214.46ZM125.68,216.62A102.70,102.70 0 0 1 116.83,213.71L118.82,208.47A97.10,97.10 0 0 0 127.19,211.22Z" fill="#f5e60a" stroke="#000" stroke-opacity="0.3" stroke-width="0.3"/>
<path d="M156.53,15.05A102.70,102.70 0 0 1 174.65,17.24L173.49,22.72A97.10,97.10 0 0 0 156.35,20.65Z" fill="#146a28" stroke="#000" stroke-opacity="0.3" stroke-width="0.3"/>
<path d="M165.33,15.71A102.70,102.70 0 0 1 165.77,15.76L165.09,21.32A97.10,97.10 0 0 0 164.67,21.27Z" fill="#0f5a20"/>
<path d="M181.73,11.23A110.20,110.20 0 0 1 182.66,11.48L181.03,17.36A104.10,104.10 0 0 0 180.16,17.12ZM181.69,19.00A102.70,102.70 0 0 1 182.55,19.25L180.96,24.62A97.10,97.10 0 0 0 180.15,24.38Z" fill="#9a4c9a"/>
<path d="M191.31,14.26A110.20,110.20 0 0 1 191.76,14.43L189.63,20.14A104.10,104.10 0 0 0 189.20,19.99Z" fill="#1f7a24"/>
<path d="M214.39,35.14A102.70,102.70 0 0 1 233.67,53.77L229.29,57.25A97.10,97.10 0 0 0 211.06,39.65ZM233.95,54.12A102.70,102.70 0 0 1 243.55,68.70L238.63,71.37A97.10,97.10 0 0 0 229.55,57.59ZM51.02,108.39A102.70,102.70 0 0 1 51.37,105.18L56.92,105.87A97.10,97.10 0 0 0 56.60,108.90Z" fill="#c8141e" stroke="#000" stroke-opacity="0.3" stroke-width="0.3"/>
<path d="M224.58,43.76A102.70,102.70 0 0 1 224.96,44.14L221.06,48.15A97.10,97.10 0 0 0 220.69,47.79Z" fill="#8a0f16"/>
<path d="M261.86,98.75A110.20,110.20 0 0 1 262.26,101.22L256.23,102.13A104.10,104.10 0 0 0 255.85,99.80Z" fill="#ffffff" stroke="#2f9a2f" stroke-width="0.5"/>
<path d="M255.99,116.45A102.70,102.70 0 0 1 255.87,122.90L250.28,122.61A97.10,97.10 0 0 0 250.39,116.51ZM57.81,79.89A102.70,102.70 0 0 1 61.23,72.20L66.25,74.68A97.10,97.10 0 0 0 63.02,81.96Z" fill="#f26418" stroke="#000" stroke-opacity="0.3" stroke-width="0.3"/>
<path d="M223.86,192.32A102.70,102.70 0 0 1 217.79,197.63L214.28,193.27A97.10,97.10 0 0 0 220.02,188.25ZM84.10,203.46A110.20,110.20 0 0 1 77.58,197.77L81.77,193.34A104.10,104.10 0 0 0 87.93,198.72ZM212.35,201.72A102.70,102.70 0 0 1 201.36,208.46L198.74,203.51A97.10,97.10 0 0 0 209.13,197.14ZM101.73,215.09A110.20,110.20 0 0 1 89.93,207.86L93.44,202.87A104.10,104.10 0 0 0 104.59,209.70Z" fill="#e3000f" stroke="#000" stroke-opacity="0.3" stroke-width="0.3"/>
<path d="M201.36,208.46A102.70,102.70 0 0 1 198.64,209.85L196.17,204.82A97.10,97.10 0 0 0 198.74,203.51ZM104.65,216.58A110.20,110.20 0 0 1 101.73,215.09L104.59,209.70A104.10,104.10 0 0 0 107.34,211.10Z" fill="#f2a0b0"/>
<path d="M147.57,220.24A102.70,102.70 0 0 1 146.49,220.17L146.86,214.59A97.10,97.10 0 0 0 147.88,214.65Z" fill="#f8f0a0"/>
<path d="M146.31,220.16A102.70,102.70 0 0 1 145.06,220.07L145.51,214.49A97.10,97.10 0 0 0 146.70,214.58Z" fill="#2a7a6a"/>
<path d="M50.98,126.47A102.70,102.70 0 0 1 50.83,124.51L56.41,124.14A97.10,97.10 0 0 0 56.55,125.99Z" fill="#ecd0b0"/>
<path d="M47.17,87.67L46.01,87.34L38.52,86.30M47.99,84.90L46.84,84.54L40.00,81.32M58.36,61.55L57.33,60.94L49.85,58.88M59.35,59.90L58.33,59.28L51.16,56.64M60.79,57.63L59.79,56.97L53.92,52.24M61.86,56.02L60.86,55.35L55.37,50.09M64.41,52.40L63.44,51.69L58.41,45.88M107.03,217.83L106.53,218.92L104.38,226.18M102.54,215.63L101.99,216.69L97.39,222.75M58.75,139.36L59.92,139.09L69.12,137.60M58.49,138.20L59.66,137.94L68.63,135.39M56.59,125.14L57.78,125.05L67.01,123.78M56.30,117.36L57.50,117.37L66.81,118.66M56.34,114.99L57.54,115.03L66.81,116.39M56.42,112.79L57.62,112.85L66.87,114.13M56.57,110.43L57.77,110.52L67.18,109.61M56.85,107.39L58.04,107.52L67.42,107.36M68.14,71.27L69.19,71.84L77.03,76.89M68.63,70.38L69.67,70.96L78.13,74.91M78.78,55.61L79.70,56.38L86.08,63.26M80.32,53.81L81.22,54.60L89.02,59.82M130.00,23.54L130.29,24.71L133.06,33.60M197.19,31.20L196.64,32.27L191.49,40.09M199.73,32.54L199.16,33.59L195.50,42.19M197.94,203.82L197.39,202.75L194.44,193.79M195.52,205.03L195.00,203.95L190.40,195.84M193.99,205.75L193.48,204.67L188.34,196.78" fill="none" stroke="#b4b4b4" stroke-width="0.3"/><g class="lb" font-family="Liberation Sans" font-weight="bold" font-size="2.55" fill="#505050" stroke="#505050" stroke-width="0.08"><text transform="translate(49.28,157.01) rotate(339.3)" text-anchor="end" dy="0.8">ycf2</text><text transform="translate(43.59,99.54) rotate(369.4)" text-anchor="end" dy="0.8">petD</text><text transform="translate(45.08,92.12) rotate(373.3)" text-anchor="end" dy="0.8">petB</text><text transform="translate(38.13,86.19) rotate(375.3)" text-anchor="end" dy="0.8">psbN</text><text transform="translate(46.71,86.02) rotate(376.5)" text-anchor="end" dy="0.8">psbH</text><text transform="translate(39.62,81.20) rotate(377.8)" text-anchor="end" dy="0.8">psbT</text><text transform="translate(48.19,81.40) rotate(379.1)" text-anchor="end" dy="0.8">psbB</text><text transform="translate(49.50,58.68) rotate(389.6)" text-anchor="end" dy="0.8">rpl20</text><text transform="translate(50.82,56.43) rotate(390.9)" text-anchor="end" dy="0.8">rps12</text><text transform="translate(59.12,58.57) rotate(392.1)" text-anchor="end" dy="0.8">psaJ</text><text transform="translate(53.59,52.02) rotate(393.4)" text-anchor="end" dy="0.8">trnP</text><text transform="translate(55.04,49.86) rotate(394.6)" text-anchor="end" dy="0.8">psbE</text><text transform="translate(63.19,52.54) rotate(395.9)" text-anchor="end" dy="0.8">petG</text><text transform="translate(58.10,45.64) rotate(397.1)" text-anchor="end" dy="0.8">petL</text><text transform="translate(74.12,39.62) rotate(404.6)" text-anchor="end" dy="0.8">petA</text><text transform="translate(78.32,35.58) rotate(407.6)" text-anchor="end" dy="0.8">cemA</text><text transform="translate(81.38,32.89) rotate(409.7)" text-anchor="end" dy="0.8">ycf4</text><text transform="translate(83.24,31.34) rotate(411.0)" text-anchor="end" dy="0.8">psaI</text><text transform="translate(89.68,26.50) rotate(415.1)" text-anchor="end" dy="0.8">accD</text><text transform="translate(97.87,21.30) rotate(420.1)" text-anchor="end" dy="0.8">rbcL</text><text transform="translate(113.22,13.97) rotate(428.9)" text-anchor="end" dy="0.8">trnM</text><text transform="translate(115.50,13.12) rotate(430.1)" text-anchor="end" dy="0.8">trnV</text><text transform="translate(130.61,8.84) rotate(438.2)" text-anchor="end" dy="0.8">trnF</text><text transform="translate(132.99,8.37) rotate(439.5)" text-anchor="end" dy="0.8">trnL</text><text transform="translate(143.03,6.98) rotate(444.7)" text-anchor="end" dy="0.8">trnS</text><text transform="translate(180.25,9.81) rotate(-76.0)" text-anchor="start" dy="0.8">trnG</text><text transform="translate(182.60,10.43) rotate(-74.7)" text-anchor="start" dy="0.8">psbZ</text><text transform="translate(188.95,12.37) rotate(-71.3)" text-anchor="start" dy="0.8">psbC</text><text transform="translate(194.24,14.31) rotate(-68.4)" text-anchor="start" dy="0.8">psbD</text><text transform="translate(201.52,17.50) rotate(-64.3)" text-anchor="start" dy="0.8">trnT</text><text transform="translate(212.88,23.81) rotate(-57.6)" text-anchor="start" dy="0.8">petN</text><text transform="translate(215.80,25.73) rotate(-55.8)" text-anchor="start" dy="0.8">trnC</text><text transform="translate(261.35,91.41) rotate(-13.7)" text-anchor="start" dy="0.8">trnR</text><text transform="translate(261.90,93.77) rotate(-12.4)" text-anchor="start" dy="0.8">trnG</text><text transform="translate(262.56,97.02) rotate(-10.7)" text-anchor="start" dy="0.8">trnS</text><text transform="translate(262.99,99.41) rotate(-9.5)" text-anchor="start" dy="0.8">psbI</text><text transform="translate(263.36,101.81) rotate(-8.2)" text-anchor="start" dy="0.8">psbK</text><text transform="translate(262.91,136.44) rotate(9.7)" text-anchor="start" dy="0.8">rpl2</text><text transform="translate(262.10,140.68) rotate(11.9)" text-anchor="start" dy="0.8">rpl23</text><text transform="translate(261.57,143.05) rotate(13.2)" text-anchor="start" dy="0.8">trnI</text><text transform="translate(248.32,175.47) rotate(31.3)" text-anchor="start" dy="0.8">trnL</text><text transform="translate(243.94,182.12) rotate(35.4)" text-anchor="start" dy="0.8">ndhB</text><text transform="translate(238.86,188.73) rotate(39.7)" text-anchor="start" dy="0.8">rps7</text><text transform="translate(237.22,190.65) rotate(41.0)" text-anchor="start" dy="0.8">rps12</text><text transform="translate(233.29,194.95) rotate(44.0)" text-anchor="start" dy="0.8">trnV</text><text transform="translate(133.42,227.11) rotate(280.3)" text-anchor="end" dy="0.8">ccsA</text><text transform="translate(129.47,226.32) rotate(282.4)" text-anchor="end" dy="0.8">trnL</text><text transform="translate(127.10,225.77) rotate(283.6)" text-anchor="end" dy="0.8">rpl32</text><text transform="translate(104.21,226.54) rotate(294.3)" text-anchor="end" dy="0.8">trnN</text><text transform="translate(105.38,218.05) rotate(295.5)" text-anchor="end" dy="0.8">trnR</text><text transform="translate(103.21,216.98) rotate(296.8)" text-anchor="end" dy="0.8">rrn5</text><text transform="translate(97.20,223.10) rotate(298.0)" text-anchor="end" dy="0.8">rrn4.5</text><text transform="translate(95.20,212.51) rotate(301.5)" text-anchor="end" dy="0.8">rrn23</text><text transform="translate(87.78,207.55) rotate(306.1)" text-anchor="end" dy="0.8">trnA</text><text transform="translate(85.30,205.68) rotate(307.7)" text-anchor="end" dy="0.8">trnI</text><text transform="translate(80.05,201.37) rotate(311.2)" text-anchor="end" dy="0.8">rrn16</text><text transform="translate(69.51,137.51) rotate(346.7)" text-anchor="start" dy="0.8">trnI</text><text transform="translate(69.02,135.31) rotate(348.2)" text-anchor="start" dy="0.8">rpl23</text><text transform="translate(58.48,133.91) rotate(350.3)" text-anchor="start" dy="0.8">rpl2</text><text transform="translate(57.82,129.48) rotate(353.0)" text-anchor="start" dy="0.8">rpl22</text><text transform="translate(57.55,126.98) rotate(354.5)" text-anchor="start" dy="0.8">rps19</text><text transform="translate(67.41,123.76) rotate(356.0)" text-anchor="start" dy="0.8">rps3</text><text transform="translate(57.18,121.56) rotate(357.7)" text-anchor="start" dy="0.8">rpl16</text><text transform="translate(67.21,118.65) rotate(359.4)" text-anchor="start" dy="0.8">rpl14</text><text transform="translate(67.21,116.40) rotate(360.9)" text-anchor="start" dy="0.8">rps8</text><text transform="translate(67.27,114.14) rotate(362.4)" text-anchor="start" dy="0.8">infA</text><text transform="translate(57.32,111.21) rotate(363.9)" text-anchor="start" dy="0.8">rpl36</text><text transform="translate(67.58,109.65) rotate(365.4)" text-anchor="start" dy="0.8">rps11</text><text transform="translate(67.82,107.41) rotate(366.9)" text-anchor="start" dy="0.8">rpoA</text><text transform="translate(64.95,79.65) rotate(383.3)" text-anchor="start" dy="0.8">clpP</text><text transform="translate(77.38,77.08) rotate(388.1)" text-anchor="start" dy="0.8">rps18</text><text transform="translate(78.47,75.11) rotate(389.7)" text-anchor="start" dy="0.8">rpl33</text><text transform="translate(74.11,63.07) rotate(394.6)" text-anchor="start" dy="0.8">trnW</text><text transform="translate(86.39,63.52) rotate(399.0)" text-anchor="start" dy="0.8">psbJ</text><text transform="translate(80.15,55.22) rotate(400.5)" text-anchor="start" dy="0.8">psbF</text><text transform="translate(89.32,60.09) rotate(402.0)" text-anchor="start" dy="0.8">psbL</text><text transform="translate(112.64,30.51) rotate(425.0)" text-anchor="start" dy="0.8">atpE</text><text transform="translate(115.09,29.41) rotate(426.6)" text-anchor="start" dy="0.8">atpB</text><text transform="translate(125.92,25.48) rotate(433.5)" text-anchor="start" dy="0.8">ndhC</text><text transform="translate(128.35,24.79) rotate(435.0)" text-anchor="start" dy="0.8">ndhK</text><text transform="translate(133.15,33.99) rotate(436.5)" text-anchor="start" dy="0.8">ndhJ</text><text transform="translate(138.91,22.58) rotate(441.4)" text-anchor="start" dy="0.8">trnT</text><text transform="translate(141.58,22.22) rotate(443.0)" text-anchor="start" dy="0.8">rps4</text><text transform="translate(149.61,21.57) rotate(447.8)" text-anchor="start" dy="0.8">ycf3</text><text transform="translate(160.51,21.77) rotate(-85.7)" text-anchor="end" dy="0.8">psaA</text><text transform="translate(169.01,22.79) rotate(-80.6)" text-anchor="end" dy="0.8">psaB</text><text transform="translate(173.79,23.71) rotate(-77.7)" text-anchor="end" dy="0.8">rps14</text><text transform="translate(176.25,24.28) rotate(-76.2)" text-anchor="end" dy="0.8">trnfM</text><text transform="translate(180.30,25.37) rotate(-73.7)" text-anchor="end" dy="0.8">trnS</text><text transform="translate(191.31,40.45) rotate(-63.8)" text-anchor="end" dy="0.8">trnE</text><text transform="translate(198.02,32.53) rotate(-62.3)" text-anchor="end" dy="0.8">trnY</text><text transform="translate(195.30,42.54) rotate(-60.8)" text-anchor="end" dy="0.8">trnD</text><text transform="translate(202.41,34.98) rotate(-59.3)" text-anchor="end" dy="0.8">psbM</text><text transform="translate(215.39,44.22) rotate(-49.8)" text-anchor="end" dy="0.8">rpoB</text><text transform="translate(224.57,53.08) rotate(-42.2)" text-anchor="end" dy="0.8">rpoC1</text><text transform="translate(233.61,64.74) rotate(-33.4)" text-anchor="end" dy="0.8">rpoC2</text><text transform="translate(238.47,72.98) rotate(-27.7)" text-anchor="end" dy="0.8">rps2</text><text transform="translate(240.20,76.44) rotate(-25.4)" text-anchor="end" dy="0.8">atpI</text><text transform="translate(241.72,79.80) rotate(-23.2)" text-anchor="end" dy="0.8">atpH</text><text transform="translate(243.29,83.70) rotate(-20.7)" text-anchor="end" dy="0.8">atpF</text><text transform="translate(245.30,89.57) rotate(-17.0)" text-anchor="end" dy="0.8">atpA</text><text transform="translate(248.63,104.81) rotate(-7.7)" text-anchor="end" dy="0.8">trnQ</text><text transform="translate(249.07,108.65) rotate(-5.4)" text-anchor="end" dy="0.8">rps16</text><text transform="translate(249.47,115.18) rotate(-1.5)" text-anchor="end" dy="0.8">trnK</text><text transform="translate(249.48,119.55) rotate(1.1)" text-anchor="end" dy="0.8">matK</text><text transform="translate(249.09,126.59) rotate(5.3)" text-anchor="end" dy="0.8">psbA</text><text transform="translate(248.78,129.42) rotate(7.0)" text-anchor="end" dy="0.8">trnH</text><text transform="translate(243.29,151.70) rotate(20.7)" text-anchor="end" dy="0.8">ycf2</text><text transform="translate(216.67,190.08) rotate(48.8)" text-anchor="end" dy="0.8">rrn16</text><text transform="translate(212.13,193.82) rotate(52.3)" text-anchor="end" dy="0.8">trnI</text><text transform="translate(209.98,195.43) rotate(53.9)" text-anchor="end" dy="0.8">trnA</text><text transform="translate(203.56,199.72) rotate(58.5)" text-anchor="end" dy="0.8">rrn23</text><text transform="translate(194.25,193.44) rotate(61.6)" text-anchor="end" dy="0.8">rrn4.5</text><text transform="translate(196.82,203.49) rotate(63.1)" text-anchor="end" dy="0.8">rrn5</text><text transform="translate(190.23,195.48) rotate(64.6)" text-anchor="end" dy="0.8">trnR</text><text transform="translate(188.18,196.42) rotate(66.1)" text-anchor="end" dy="0.8">trnN</text><text transform="translate(181.43,209.70) rotate(73.0)" text-anchor="end" dy="0.8">ycf1</text><text transform="translate(169.51,212.52) rotate(80.3)" text-anchor="end" dy="0.8">rps15</text><text transform="translate(166.52,212.99) rotate(82.1)" text-anchor="end" dy="0.8">ndhH</text><text transform="translate(159.51,213.70) rotate(86.3)" text-anchor="end" dy="0.8">ndhA</text><text transform="translate(153.80,213.90) rotate(89.7)" text-anchor="end" dy="0.8">ndhI</text><text transform="translate(151.29,213.88) rotate(271.2)" text-anchor="start" dy="0.8">ndhG</text><text transform="translate(148.77,213.79) rotate(272.7)" text-anchor="start" dy="0.8">ndhE</text><text transform="translate(146.17,213.64) rotate(274.2)" text-anchor="start" dy="0.8">psaC</text><text transform="translate(142.08,213.24) rotate(276.7)" text-anchor="start" dy="0.8">ndhD</text><text transform="translate(123.25,209.09) rotate(288.2)" text-anchor="start" dy="0.8">ndhF</text><text transform="translate(84.10,184.53) rotate(316.0)" text-anchor="start" dy="0.8">trnV</text><text transform="translate(80.81,180.94) rotate(318.9)" text-anchor="start" dy="0.8">rps12</text><text transform="translate(79.18,179.02) rotate(320.4)" text-anchor="start" dy="0.8">rps7</text><text transform="translate(74.88,173.43) rotate(324.6)" text-anchor="start" dy="0.8">ndhB</text><text transform="translate(71.10,167.68) rotate(328.7)" text-anchor="start" dy="0.8">trnL</text></g>
<circle cx="153.3" cy="117.7" r="103.3" fill="none" stroke="#111" stroke-width="1.0"/>
<path d="M255.27,130.76A102.80,102.80 0 0 1 188.96,214.11" fill="none" stroke="#000" stroke-width="1.9"/>
<path d="M116.46,213.67A102.80,102.80 0 0 1 51.33,130.76" fill="none" stroke="#000" stroke-width="1.9"/>
<text x="152.4" y="103.4" font-family="Liberation Serif" font-weight="bold" font-size="7.0" text-anchor="middle" textLength="17.3" style="text-rendering:geometricPrecision" lengthAdjust="spacingAndGlyphs" fill="#000">19-3-1</text>
<text x="153.7" y="113.9" font-family="Liberation Sans" font-weight="bold" font-style="italic" font-size="6.6" text-anchor="middle" textLength="54.6" lengthAdjust="spacingAndGlyphs" fill="#000">Brassica oleracea</text>
<text x="153.0" y="124.8" font-family="Liberation Sans" font-size="6.7" text-anchor="middle" textLength="55.2" lengthAdjust="spacingAndGlyphs" fill="#000">chloroplast genome</text>
<text x="153.6" y="135.5" font-family="Liberation Sans" font-size="6.25" text-anchor="middle" fill="#000">153,365 bp</text>
<circle cx="421.5" cy="117.7" r="59.55" fill="none" stroke="#dadada" stroke-width="13.90"/>
<path d="M421.50,51.20A66.50,66.50 0 0 1 422.13,51.20L422.05,59.24A58.46,58.46 0 0 0 421.50,59.24ZM423.24,51.22A66.50,66.50 0 0 1 423.87,51.24L423.61,58.56A59.18,59.18 0 0 0 423.05,58.54ZM424.98,51.29A66.50,66.50 0 0 1 425.61,51.33L425.17,58.40A59.41,59.41 0 0 0 424.61,58.37ZM425.56,51.32A66.50,66.50 0 0 1 426.19,51.37L425.70,58.22A59.62,59.62 0 0 0 425.14,58.19ZM426.72,51.40A66.50,66.50 0 0 1 427.34,51.46L426.77,57.97A59.96,59.96 0 0 0 426.20,57.92ZM427.87,51.51A66.50,66.50 0 0 1 428.50,51.57L427.71,59.02A59.01,59.01 0 0 0 427.16,58.96ZM430.76,51.85A66.50,66.50 0 0 1 431.38,51.94L430.31,59.03A59.33,59.33 0 0 0 429.76,58.95ZM433.05,52.21A66.50,66.50 0 0 1 433.66,52.32L432.32,59.56A59.14,59.14 0 0 0 431.77,59.46ZM433.62,52.31A66.50,66.50 0 0 1 434.23,52.43L432.81,59.74A59.06,59.06 0 0 0 432.26,59.63ZM435.89,52.78A66.50,66.50 0 0 1 436.50,52.91L434.92,59.74A59.49,59.49 0 0 0 434.38,59.62ZM438.15,53.32A66.50,66.50 0 0 1 438.76,53.48L436.94,60.24A59.50,59.50 0 0 0 436.40,60.10ZM438.71,53.47A66.50,66.50 0 0 1 439.32,53.63L437.41,60.47A59.40,59.40 0 0 0 436.87,60.32ZM439.27,53.62A66.50,66.50 0 0 1 439.87,53.79L437.90,60.66A59.35,59.35 0 0 0 437.36,60.51ZM439.83,53.78A66.50,66.50 0 0 1 440.43,53.95L438.44,60.64A59.52,59.52 0 0 0 437.91,60.49ZM440.39,53.94A66.50,66.50 0 0 1 440.99,54.12L439.21,59.92A60.43,60.43 0 0 0 438.66,59.76ZM440.94,54.11A66.50,66.50 0 0 1 441.54,54.29L439.52,60.69A59.79,59.79 0 0 0 438.98,60.53ZM443.70,55.01A66.50,66.50 0 0 1 444.29,55.23L442.42,60.34A61.06,61.06 0 0 0 441.88,60.14ZM444.24,55.21A66.50,66.50 0 0 1 444.83,55.43L442.49,61.67A59.83,59.83 0 0 0 441.96,61.48ZM444.79,55.41A66.50,66.50 0 0 1 445.37,55.63L443.35,60.89A60.87,60.87 0 0 0 442.82,60.68ZM446.95,56.26A66.50,66.50 0 0 1 447.53,56.50L445.10,62.21A60.30,60.30 0 0 0 444.58,61.99ZM448.02,56.72A66.50,66.50 0 0 1 448.59,56.97L445.73,63.39A59.47,59.47 0 0 0 445.21,63.17ZM449.60,57.43A66.50,66.50 0 0 1 450.17,57.70L447.45,63.38A60.20,60.20 0 0 0 446.94,63.14ZM451.17,58.19A66.50,66.50 0 0 1 451.73,58.47L448.64,64.53A59.69,59.69 0 0 0 448.13,64.28ZM452.21,58.71A66.50,66.50 0 0 1 452.76,59.01L449.23,65.63A59.00,59.00 0 0 0 448.74,65.37ZM452.72,58.98A66.50,66.50 0 0 1 453.27,59.28L449.86,65.56A59.35,59.35 0 0 0 449.36,65.29ZM453.23,59.26A66.50,66.50 0 0 1 453.78,59.56L450.60,65.29A59.95,59.95 0 0 0 450.11,65.01ZM453.74,59.54A66.50,66.50 0 0 1 454.29,59.84L451.05,65.55A59.94,59.94 0 0 0 450.56,65.28ZM454.25,59.82A66.50,66.50 0 0 1 454.79,60.13L451.65,65.56A60.23,60.23 0 0 0 451.16,65.28ZM454.75,60.11A66.50,66.50 0 0 1 455.29,60.43L451.90,66.17A59.83,59.83 0 0 0 451.41,65.89ZM455.75,60.70A66.50,66.50 0 0 1 456.29,61.02L452.29,67.54A58.86,58.86 0 0 0 451.81,67.25ZM456.25,61.00A66.50,66.50 0 0 1 456.78,61.33L452.85,67.60A59.10,59.10 0 0 0 452.38,67.31ZM456.74,61.30A66.50,66.50 0 0 1 457.27,61.64L453.39,67.71A59.30,59.30 0 0 0 452.92,67.41ZM457.23,61.61A66.50,66.50 0 0 1 457.76,61.95L453.83,67.99A59.30,59.30 0 0 0 453.36,67.69ZM458.20,62.25A66.50,66.50 0 0 1 458.72,62.59L454.61,68.68A59.16,59.16 0 0 0 454.15,68.37ZM458.69,62.57A66.50,66.50 0 0 1 459.20,62.92L455.50,68.31A59.96,59.96 0 0 0 455.03,67.99ZM459.64,63.23A66.50,66.50 0 0 1 460.15,63.59L456.77,68.33A60.67,60.67 0 0 0 456.30,68.00ZM460.59,63.90A66.50,66.50 0 0 1 461.09,64.27L457.81,68.70A60.99,60.99 0 0 0 457.35,68.36ZM461.52,64.59A66.50,66.50 0 0 1 462.02,64.97L458.18,69.96A60.20,60.20 0 0 0 457.73,69.62ZM461.98,64.94A66.50,66.50 0 0 1 462.48,65.33L458.39,70.55A59.86,59.86 0 0 0 457.94,70.21ZM462.44,65.30A66.50,66.50 0 0 1 462.93,65.69L459.49,70.00A60.98,60.98 0 0 0 459.04,69.65ZM463.80,66.39A66.50,66.50 0 0 1 464.28,66.79L459.55,72.42A59.15,59.15 0 0 0 459.12,72.06ZM464.69,67.13A66.50,66.50 0 0 1 465.16,67.54L460.73,72.63A59.75,59.75 0 0 0 460.30,72.27ZM465.56,67.89A66.50,66.50 0 0 1 466.03,68.31L461.24,73.63A59.34,59.34 0 0 0 460.82,73.26ZM466.00,68.28A66.50,66.50 0 0 1 466.46,68.70L461.71,73.88A59.47,59.47 0 0 0 461.29,73.50ZM466.85,69.06A66.50,66.50 0 0 1 467.31,69.49L462.40,74.66A59.38,59.38 0 0 0 462.00,74.27ZM467.28,69.46A66.50,66.50 0 0 1 467.73,69.90L462.49,75.31A58.96,58.96 0 0 0 462.09,74.93ZM468.11,70.27A66.50,66.50 0 0 1 468.56,70.71L462.85,76.41A58.44,58.44 0 0 0 462.46,76.02ZM470.53,72.77A66.50,66.50 0 0 1 470.95,73.24L465.23,78.38A58.81,58.81 0 0 0 464.86,77.97ZM471.31,73.64A66.50,66.50 0 0 1 471.72,74.11L466.23,78.87A59.23,59.23 0 0 0 465.86,78.45ZM471.69,74.07A66.50,66.50 0 0 1 472.10,74.55L466.07,79.69A58.58,58.58 0 0 0 465.71,79.27ZM472.07,74.51A66.50,66.50 0 0 1 472.47,74.99L466.87,79.69A59.19,59.19 0 0 0 466.51,79.26ZM472.81,75.40A66.50,66.50 0 0 1 473.21,75.89L466.97,80.93A58.47,58.47 0 0 0 466.62,80.51ZM474.26,77.22A66.50,66.50 0 0 1 474.64,77.72L469.10,81.88A59.57,59.57 0 0 0 468.76,81.43ZM476.63,80.51A66.50,66.50 0 0 1 476.98,81.03L470.48,85.33A58.72,58.72 0 0 0 470.18,84.87ZM476.95,81.00A66.50,66.50 0 0 1 477.30,81.52L471.08,85.55A59.10,59.10 0 0 0 470.78,85.08ZM477.27,81.48A66.50,66.50 0 0 1 477.61,82.01L471.15,86.12A58.85,58.85 0 0 0 470.85,85.65ZM477.90,82.46A66.50,66.50 0 0 1 478.22,82.99L472.15,86.71A59.38,59.38 0 0 0 471.86,86.23ZM478.20,82.95A66.50,66.50 0 0 1 478.53,83.49L472.76,86.95A59.78,59.78 0 0 0 472.47,86.47ZM478.50,83.45A66.50,66.50 0 0 1 478.82,83.99L473.39,87.18A60.20,60.20 0 0 0 473.10,86.70ZM479.38,84.95A66.50,66.50 0 0 1 479.68,85.50L472.57,89.44A58.37,58.37 0 0 0 472.30,88.96ZM479.66,85.46A66.50,66.50 0 0 1 479.96,86.01L473.76,89.37A59.44,59.44 0 0 0 473.49,88.88ZM480.75,87.51A66.50,66.50 0 0 1 481.03,88.07L474.54,91.30A59.25,59.25 0 0 0 474.29,90.80ZM481.01,88.03A66.50,66.50 0 0 1 481.29,88.59L474.41,91.94A58.85,58.85 0 0 0 474.16,91.44ZM481.52,89.07A66.50,66.50 0 0 1 481.79,89.64L474.73,92.92A58.72,58.72 0 0 0 474.50,92.42ZM482.25,90.65A66.50,66.50 0 0 1 482.50,91.23L475.22,94.38A58.57,58.57 0 0 0 475.00,93.88ZM482.48,91.18A66.50,66.50 0 0 1 482.73,91.76L475.97,94.62A59.16,59.16 0 0 0 475.75,94.11ZM482.71,91.72A66.50,66.50 0 0 1 482.96,92.29L475.76,95.27A58.72,58.72 0 0 0 475.55,94.76ZM482.94,92.25A66.50,66.50 0 0 1 483.18,92.83L476.46,95.54A59.26,59.26 0 0 0 476.25,95.02ZM483.16,92.79A66.50,66.50 0 0 1 483.39,93.37L477.26,95.78A59.91,59.91 0 0 0 477.05,95.26ZM483.37,93.33A66.50,66.50 0 0 1 483.60,93.91L477.27,96.33A59.73,59.73 0 0 0 477.07,95.81ZM483.58,93.87A66.50,66.50 0 0 1 483.80,94.45L476.48,97.19A58.68,58.68 0 0 0 476.28,96.67ZM483.79,94.41A66.50,66.50 0 0 1 484.01,95.00L476.56,97.70A58.58,58.58 0 0 0 476.37,97.19ZM483.99,94.96A66.50,66.50 0 0 1 484.20,95.55L478.03,97.73A59.95,59.95 0 0 0 477.84,97.19ZM484.19,95.50A66.50,66.50 0 0 1 484.39,96.09L477.86,98.34A59.59,59.59 0 0 0 477.67,97.81ZM485.58,99.93A66.50,66.50 0 0 1 485.75,100.53L478.90,102.36A59.42,59.42 0 0 0 478.76,101.82ZM485.73,100.49A66.50,66.50 0 0 1 485.89,101.09L478.72,102.94A59.10,59.10 0 0 0 478.58,102.40ZM486.02,101.61A66.50,66.50 0 0 1 486.17,102.22L479.61,103.79A59.76,59.76 0 0 0 479.48,103.24ZM486.42,103.31A66.50,66.50 0 0 1 486.56,103.92L479.13,105.49A58.91,58.91 0 0 0 479.02,104.95ZM486.55,103.87A66.50,66.50 0 0 1 486.67,104.49L479.71,105.90A59.40,59.40 0 0 0 479.60,105.35ZM486.66,104.44A66.50,66.50 0 0 1 486.79,105.06L479.57,106.45A59.15,59.15 0 0 0 479.46,105.91ZM486.78,105.01A66.50,66.50 0 0 1 486.89,105.63L480.94,106.73A60.44,60.44 0 0 0 480.83,106.17ZM486.89,105.58A66.50,66.50 0 0 1 487.00,106.20L480.96,107.26A60.37,60.37 0 0 0 480.86,106.70ZM487.27,107.87A66.50,66.50 0 0 1 487.36,108.49L480.95,109.39A60.03,60.03 0 0 0 480.87,108.83ZM487.35,108.44A66.50,66.50 0 0 1 487.44,109.07L480.77,109.94A59.78,59.78 0 0 0 480.69,109.38ZM487.43,109.02A66.50,66.50 0 0 1 487.51,109.64L480.81,110.46A59.75,59.75 0 0 0 480.74,109.90ZM487.50,109.60A66.50,66.50 0 0 1 487.58,110.22L480.67,111.00A59.55,59.55 0 0 0 480.60,110.44ZM487.88,113.64A66.50,66.50 0 0 1 487.91,114.27L481.40,114.60A59.98,59.98 0 0 0 481.37,114.04ZM487.91,114.22A66.50,66.50 0 0 1 487.94,114.85L481.27,115.13A59.83,59.83 0 0 0 481.24,114.57ZM487.94,114.80A66.50,66.50 0 0 1 487.96,115.43L481.25,115.66A59.78,59.78 0 0 0 481.23,115.09ZM488.00,117.12A66.50,66.50 0 0 1 488.00,117.75L481.24,117.74A59.74,59.74 0 0 0 481.24,117.18ZM487.99,118.86A66.50,66.50 0 0 1 487.98,119.49L481.64,119.32A60.16,60.16 0 0 0 481.65,118.75ZM487.98,119.44A66.50,66.50 0 0 1 487.96,120.07L482.41,119.87A60.95,60.95 0 0 0 482.43,119.30ZM487.96,120.02A66.50,66.50 0 0 1 487.93,120.65L482.50,120.41A61.06,61.06 0 0 0 482.53,119.83ZM487.84,122.34A66.50,66.50 0 0 1 487.79,122.96L481.76,122.48A60.45,60.45 0 0 0 481.80,121.92ZM487.80,122.92A66.50,66.50 0 0 1 487.74,123.54L481.51,122.99A60.24,60.24 0 0 0 481.55,122.43ZM487.69,124.07A66.50,66.50 0 0 1 487.63,124.70L481.19,124.02A60.02,60.02 0 0 0 481.25,123.45ZM487.64,124.65A66.50,66.50 0 0 1 487.57,125.27L480.11,124.42A58.99,58.99 0 0 0 480.17,123.87ZM487.50,125.80A66.50,66.50 0 0 1 487.43,126.43L480.80,125.55A59.82,59.82 0 0 0 480.88,124.99ZM487.09,128.68A66.50,66.50 0 0 1 486.98,129.29L478.57,127.80A57.96,57.96 0 0 0 478.66,127.27ZM486.99,129.25A66.50,66.50 0 0 1 486.88,129.86L477.82,128.18A57.28,57.28 0 0 0 477.91,127.65ZM486.78,130.39A66.50,66.50 0 0 1 486.66,131.00L477.60,129.15A57.25,57.25 0 0 0 477.70,128.62ZM486.66,130.96A66.50,66.50 0 0 1 486.54,131.57L476.67,129.47A56.41,56.41 0 0 0 476.78,128.95ZM486.55,131.53A66.50,66.50 0 0 1 486.41,132.14L476.45,129.92A56.29,56.29 0 0 0 476.56,129.40ZM486.42,132.09A66.50,66.50 0 0 1 486.29,132.70L476.31,130.39A56.26,56.26 0 0 0 476.43,129.88ZM486.16,133.22A66.50,66.50 0 0 1 486.01,133.83L476.05,131.34A56.23,56.23 0 0 0 476.17,130.83ZM486.02,133.79A66.50,66.50 0 0 1 485.87,134.40L476.62,132.00A56.94,56.94 0 0 0 476.75,131.48ZM485.88,134.35A66.50,66.50 0 0 1 485.72,134.96L475.96,132.33A56.40,56.40 0 0 0 476.10,131.82ZM485.58,135.47A66.50,66.50 0 0 1 485.41,136.07L476.21,133.43A56.92,56.92 0 0 0 476.35,132.91ZM485.42,136.03A66.50,66.50 0 0 1 485.25,136.63L476.39,134.00A57.26,57.26 0 0 0 476.54,133.48ZM485.26,136.59A66.50,66.50 0 0 1 485.08,137.19L476.38,134.52A57.40,57.40 0 0 0 476.54,134.00ZM485.09,137.14A66.50,66.50 0 0 1 484.91,137.74L476.03,134.93A57.19,57.19 0 0 0 476.19,134.42ZM484.92,137.70A66.50,66.50 0 0 1 484.73,138.29L475.08,135.15A56.35,56.35 0 0 0 475.24,134.64ZM484.56,138.80A66.50,66.50 0 0 1 484.36,139.39L475.32,136.28A56.94,56.94 0 0 0 475.50,135.77ZM484.38,139.35A66.50,66.50 0 0 1 484.17,139.94L474.95,136.67A56.71,56.71 0 0 0 475.12,136.16ZM484.19,139.90A66.50,66.50 0 0 1 483.97,140.49L474.69,137.10A56.62,56.62 0 0 0 474.87,136.60ZM483.79,140.99A66.50,66.50 0 0 1 483.57,141.57L474.52,138.10A56.81,56.81 0 0 0 474.71,137.60ZM482.94,143.15A66.50,66.50 0 0 1 482.70,143.73L473.47,139.80A56.48,56.48 0 0 0 473.68,139.31ZM482.71,143.68A66.50,66.50 0 0 1 482.47,144.26L472.74,140.02A55.89,55.89 0 0 0 472.95,139.54ZM481.77,145.80A66.50,66.50 0 0 1 481.50,146.37L473.52,142.55A57.65,57.65 0 0 0 473.75,142.06ZM481.01,147.37A66.50,66.50 0 0 1 480.73,147.93L472.54,143.75A57.30,57.30 0 0 0 472.78,143.27ZM479.94,149.43A66.50,66.50 0 0 1 479.64,149.98L471.40,145.40A57.07,57.07 0 0 0 471.65,144.93ZM479.09,150.95A66.50,66.50 0 0 1 478.77,151.49L471.40,147.14A57.94,57.94 0 0 0 471.68,146.67ZM478.80,151.45A66.50,66.50 0 0 1 478.48,151.99L471.27,147.65A58.09,58.09 0 0 0 471.55,147.18ZM477.90,152.94A66.50,66.50 0 0 1 477.56,153.47L469.69,148.45A57.17,57.17 0 0 0 469.98,147.99ZM477.27,153.92A66.50,66.50 0 0 1 476.93,154.44L469.01,149.19A57.00,57.00 0 0 0 469.30,148.74ZM476.63,154.89A66.50,66.50 0 0 1 476.28,155.40L468.91,150.33A57.55,57.55 0 0 0 469.21,149.88ZM474.96,157.26A66.50,66.50 0 0 1 474.58,157.76L467.02,152.06A57.03,57.03 0 0 0 467.35,151.62ZM474.61,157.72A66.50,66.50 0 0 1 474.23,158.22L466.92,152.60A57.28,57.28 0 0 0 467.25,152.17ZM474.26,158.18A66.50,66.50 0 0 1 473.87,158.68L466.43,152.86A57.05,57.05 0 0 0 466.76,152.43ZM473.54,159.10A66.50,66.50 0 0 1 473.15,159.59L465.91,153.71A57.17,57.17 0 0 0 466.24,153.29ZM473.18,159.55A66.50,66.50 0 0 1 472.78,160.04L465.96,154.40A57.65,57.65 0 0 0 466.30,153.98ZM472.81,160.00A66.50,66.50 0 0 1 472.41,160.48L464.53,153.86A56.21,56.21 0 0 0 464.87,153.45ZM472.07,160.89A66.50,66.50 0 0 1 471.66,161.36L464.72,155.32A57.30,57.30 0 0 0 465.07,154.91ZM471.31,161.76A66.50,66.50 0 0 1 470.89,162.23L464.08,156.10A57.34,57.34 0 0 0 464.44,155.69ZM470.92,162.20A66.50,66.50 0 0 1 470.50,162.66L463.81,156.53A57.43,57.43 0 0 0 464.18,156.13ZM470.53,162.63A66.50,66.50 0 0 1 470.10,163.09L463.57,156.99A57.56,57.56 0 0 0 463.94,156.59ZM469.74,163.48A66.50,66.50 0 0 1 469.30,163.93L462.47,157.32A57.00,57.00 0 0 0 462.85,156.94ZM468.52,164.72A66.50,66.50 0 0 1 468.08,165.16L461.79,158.76A57.52,57.52 0 0 0 462.18,158.38ZM467.69,165.54A66.50,66.50 0 0 1 467.24,165.97L460.97,159.35A57.38,57.38 0 0 0 461.36,158.98ZM467.28,165.94A66.50,66.50 0 0 1 466.82,166.37L460.47,159.55A57.19,57.19 0 0 0 460.86,159.18ZM466.43,166.73A66.50,66.50 0 0 1 465.96,167.15L459.50,159.97A56.84,56.84 0 0 0 459.90,159.61ZM465.13,167.89A66.50,66.50 0 0 1 464.65,168.30L458.53,161.12A57.07,57.07 0 0 0 458.94,160.77ZM464.25,168.64A66.50,66.50 0 0 1 463.76,169.04L457.68,161.65A56.93,56.93 0 0 0 458.09,161.31ZM463.80,169.01A66.50,66.50 0 0 1 463.31,169.41L456.86,161.42A56.23,56.23 0 0 0 457.27,161.09ZM462.90,169.74A66.50,66.50 0 0 1 462.40,170.13L455.91,161.81A55.94,55.94 0 0 0 456.33,161.48ZM462.44,170.10A66.50,66.50 0 0 1 461.95,170.49L455.80,162.47A56.40,56.40 0 0 0 456.22,162.15ZM461.98,170.46A66.50,66.50 0 0 1 461.48,170.84L454.92,162.11A55.58,55.58 0 0 0 455.34,161.80ZM461.06,171.16A66.50,66.50 0 0 1 460.55,171.53L454.44,163.10A56.09,56.09 0 0 0 454.87,162.79ZM458.20,173.15A66.50,66.50 0 0 1 457.68,173.50L452.30,165.20A56.62,56.62 0 0 0 452.75,164.91ZM456.74,174.10A66.50,66.50 0 0 1 456.21,174.42L451.08,166.04A56.68,56.68 0 0 0 451.53,165.76ZM456.25,174.40A66.50,66.50 0 0 1 455.71,174.73L451.02,166.90A57.37,57.37 0 0 0 451.48,166.62ZM455.75,174.70A66.50,66.50 0 0 1 455.21,175.02L450.47,166.96A57.15,57.15 0 0 0 450.94,166.69ZM455.25,175.00A66.50,66.50 0 0 1 454.71,175.31L450.55,168.10A58.17,58.17 0 0 0 451.02,167.82ZM454.75,175.29A66.50,66.50 0 0 1 454.21,175.60L449.97,168.10A57.89,57.89 0 0 0 450.44,167.83ZM453.23,176.14A66.50,66.50 0 0 1 452.68,176.44L448.23,168.06A57.02,57.02 0 0 0 448.71,167.81ZM452.21,176.69A66.50,66.50 0 0 1 451.65,176.97L447.41,168.64A57.15,57.15 0 0 0 447.89,168.39ZM451.69,176.95A66.50,66.50 0 0 1 451.13,177.23L446.89,168.72A56.99,56.99 0 0 0 447.37,168.48ZM451.17,177.21A66.50,66.50 0 0 1 450.61,177.49L446.06,168.15A56.11,56.11 0 0 0 446.54,167.92ZM450.13,177.72A66.50,66.50 0 0 1 449.56,177.99L445.64,169.56A57.20,57.20 0 0 0 446.12,169.33ZM449.08,178.21A66.50,66.50 0 0 1 448.51,178.47L444.82,170.17A57.42,57.42 0 0 0 445.31,169.95ZM448.55,178.45A66.50,66.50 0 0 1 447.97,178.70L444.52,170.75A57.83,57.83 0 0 0 445.02,170.53ZM447.48,178.91A66.50,66.50 0 0 1 446.91,179.16L443.14,170.04A56.64,56.64 0 0 0 443.63,169.84ZM446.95,179.14A66.50,66.50 0 0 1 446.37,179.38L442.83,170.59A57.03,57.03 0 0 0 443.32,170.39ZM446.41,179.36A66.50,66.50 0 0 1 445.83,179.59L442.45,171.00A57.27,57.27 0 0 0 442.95,170.80ZM445.33,179.78A66.50,66.50 0 0 1 444.75,180.00L441.65,171.72A57.66,57.66 0 0 0 442.16,171.53ZM444.79,179.99A66.50,66.50 0 0 1 444.20,180.21L441.30,172.21A58.00,58.00 0 0 0 441.81,172.02ZM443.15,180.58A66.50,66.50 0 0 1 442.56,180.78L440.98,176.06A61.53,61.53 0 0 0 441.53,175.87ZM442.05,180.95A66.50,66.50 0 0 1 441.45,181.14L439.89,176.17A61.30,61.30 0 0 0 440.44,176.00ZM441.50,181.12A66.50,66.50 0 0 1 440.90,181.31L439.30,176.06A61.01,61.01 0 0 0 439.85,175.89ZM440.94,181.29A66.50,66.50 0 0 1 440.34,181.47L438.74,176.04A60.83,60.83 0 0 0 439.29,175.87ZM440.39,181.46A66.50,66.50 0 0 1 439.79,181.64L438.50,177.15A61.83,61.83 0 0 0 439.06,176.99ZM439.83,181.62A66.50,66.50 0 0 1 439.23,181.79L437.85,176.82A61.34,61.34 0 0 0 438.41,176.67ZM438.71,181.93A66.50,66.50 0 0 1 438.11,182.09L436.51,175.90A60.10,60.10 0 0 0 437.06,175.76ZM438.15,182.08A66.50,66.50 0 0 1 437.54,182.24L436.19,176.79A60.89,60.89 0 0 0 436.75,176.65ZM433.62,183.09A66.50,66.50 0 0 1 433.00,183.20L431.99,177.44A60.66,60.66 0 0 0 432.55,177.34ZM431.90,183.38A66.50,66.50 0 0 1 431.28,183.48L430.46,177.92A60.88,60.88 0 0 0 431.02,177.83ZM430.18,183.63A66.50,66.50 0 0 1 429.56,183.71L428.86,178.01A60.76,60.76 0 0 0 429.43,177.94ZM429.60,183.70A66.50,66.50 0 0 1 428.98,183.78L428.45,179.11A61.80,61.80 0 0 0 429.03,179.04ZM427.87,183.89A66.50,66.50 0 0 1 427.25,183.95L426.76,178.36A60.89,60.89 0 0 0 427.34,178.31ZM427.30,183.95A66.50,66.50 0 0 1 426.67,184.00L426.17,177.57A60.05,60.05 0 0 0 426.73,177.52ZM426.72,184.00A66.50,66.50 0 0 1 426.09,184.04L425.67,177.89A60.34,60.34 0 0 0 426.23,177.85ZM426.14,184.04A66.50,66.50 0 0 1 425.51,184.08L425.14,177.98A60.39,60.39 0 0 0 425.71,177.95ZM425.56,184.08A66.50,66.50 0 0 1 424.93,184.11L424.57,177.13A59.51,59.51 0 0 0 425.13,177.10ZM424.98,184.11A66.50,66.50 0 0 1 424.35,184.14L424.06,177.20A59.56,59.56 0 0 0 424.62,177.18ZM423.24,184.18A66.50,66.50 0 0 1 422.61,184.19L422.51,178.05A60.35,60.35 0 0 0 423.08,178.03ZM422.66,184.19A66.50,66.50 0 0 1 422.03,184.20L421.99,178.78A61.08,61.08 0 0 0 422.57,178.77ZM421.50,184.20A66.50,66.50 0 0 1 420.87,184.20L420.93,178.62A60.93,60.93 0 0 0 421.50,178.63ZM420.34,184.19A66.50,66.50 0 0 1 419.71,184.18L419.88,177.95A60.28,60.28 0 0 0 420.45,177.97ZM419.76,184.18A66.50,66.50 0 0 1 419.13,184.16L419.31,179.26A61.60,61.60 0 0 0 419.89,179.28ZM419.18,184.16A66.50,66.50 0 0 1 418.55,184.13L418.76,179.39A61.75,61.75 0 0 0 419.34,179.41ZM418.60,184.14A66.50,66.50 0 0 1 417.97,184.11L418.30,177.98A60.37,60.37 0 0 0 418.87,178.01ZM418.02,184.11A66.50,66.50 0 0 1 417.39,184.07L417.74,178.44A60.85,60.85 0 0 0 418.32,178.47ZM417.44,184.08A66.50,66.50 0 0 1 416.81,184.03L417.14,179.38A61.83,61.83 0 0 0 417.73,179.42ZM416.86,184.04A66.50,66.50 0 0 1 416.24,183.99L416.61,179.31A61.80,61.80 0 0 0 417.19,179.35ZM416.28,184.00A66.50,66.50 0 0 1 415.66,183.94L416.15,178.36A60.89,60.89 0 0 0 416.72,178.40ZM415.13,183.89A66.50,66.50 0 0 1 414.50,183.83L415.16,177.67A60.30,60.30 0 0 0 415.72,177.72ZM413.97,183.77A66.50,66.50 0 0 1 413.35,183.70L414.08,177.78A60.54,60.54 0 0 0 414.65,177.85ZM412.82,183.63A66.50,66.50 0 0 1 412.20,183.55L413.01,177.80A60.70,60.70 0 0 0 413.58,177.88ZM412.24,183.55A66.50,66.50 0 0 1 411.62,183.46L412.54,177.37A60.34,60.34 0 0 0 413.10,177.45ZM411.67,183.47A66.50,66.50 0 0 1 411.05,183.37L411.95,177.70A60.75,60.75 0 0 0 412.52,177.78ZM409.95,183.19A66.50,66.50 0 0 1 409.34,183.08L410.57,176.42A59.73,59.73 0 0 0 411.13,176.52ZM409.38,183.09A66.50,66.50 0 0 1 408.77,182.97L409.96,176.87A60.29,60.29 0 0 0 410.51,176.98ZM408.24,182.86A66.50,66.50 0 0 1 407.63,182.74L408.87,176.93A60.56,60.56 0 0 0 409.43,177.04ZM405.41,182.22A66.50,66.50 0 0 1 404.80,182.07L406.14,176.92A61.18,61.18 0 0 0 406.70,177.06ZM404.85,182.08A66.50,66.50 0 0 1 404.24,181.92L405.64,176.71A61.10,61.10 0 0 0 406.20,176.86ZM403.73,181.78A66.50,66.50 0 0 1 403.13,181.61L404.56,176.63A61.32,61.32 0 0 0 405.11,176.79ZM403.17,181.62A66.50,66.50 0 0 1 402.57,181.45L404.30,175.60A60.40,60.40 0 0 0 404.85,175.76ZM402.61,181.46A66.50,66.50 0 0 1 402.01,181.28L403.47,176.54A61.54,61.54 0 0 0 404.02,176.70ZM401.50,181.12A66.50,66.50 0 0 1 400.91,180.93L402.68,175.49A60.78,60.78 0 0 0 403.22,175.66ZM400.95,180.95A66.50,66.50 0 0 1 400.36,180.75L402.20,175.23A60.68,60.68 0 0 0 402.75,175.41ZM399.85,180.58A66.50,66.50 0 0 1 399.26,180.37L401.35,174.47A60.24,60.24 0 0 0 401.89,174.65ZM398.76,180.19A66.50,66.50 0 0 1 398.17,179.97L400.53,173.67A59.77,59.77 0 0 0 401.06,173.86ZM396.59,179.36A66.50,66.50 0 0 1 396.01,179.12L399.53,170.64A57.31,57.31 0 0 0 400.03,170.84ZM395.52,178.91A66.50,66.50 0 0 1 394.94,178.67L398.78,169.86A56.90,56.90 0 0 0 399.27,170.07ZM394.45,178.45A66.50,66.50 0 0 1 393.88,178.19L398.36,168.39A55.72,55.72 0 0 0 398.84,168.60ZM392.35,177.47A66.50,66.50 0 0 1 391.79,177.19L396.00,168.75A57.06,57.06 0 0 0 396.49,168.99ZM389.77,176.14A66.50,66.50 0 0 1 389.22,175.84L393.71,167.76A57.25,57.25 0 0 0 394.18,168.02ZM389.26,175.86A66.50,66.50 0 0 1 388.71,175.56L393.41,167.27A56.97,56.97 0 0 0 393.88,167.53ZM388.75,175.58A66.50,66.50 0 0 1 388.21,175.27L392.90,167.16A57.14,57.14 0 0 0 393.36,167.43ZM387.75,175.00A66.50,66.50 0 0 1 387.21,174.68L392.26,166.28A56.70,56.70 0 0 0 392.72,166.56ZM386.75,174.40A66.50,66.50 0 0 1 386.22,174.07L391.03,166.39A57.43,57.43 0 0 0 391.49,166.67ZM384.31,172.83A66.50,66.50 0 0 1 383.80,172.48L389.03,164.88A57.27,57.27 0 0 0 389.47,165.18ZM383.83,172.50A66.50,66.50 0 0 1 383.32,172.15L388.61,164.60A57.28,57.28 0 0 0 389.06,164.91ZM383.36,172.17A66.50,66.50 0 0 1 382.85,171.81L387.71,165.00A58.13,58.13 0 0 0 388.16,165.32ZM382.88,171.84A66.50,66.50 0 0 1 382.37,171.47L387.63,164.24A57.56,57.56 0 0 0 388.07,164.56ZM382.41,171.50A66.50,66.50 0 0 1 381.91,171.13L387.07,164.16A57.83,57.83 0 0 0 387.51,164.48ZM381.94,171.16A66.50,66.50 0 0 1 381.44,170.78L386.89,163.56A57.45,57.45 0 0 0 387.33,163.88ZM381.48,170.81A66.50,66.50 0 0 1 380.98,170.43L386.63,163.08A57.23,57.23 0 0 0 387.06,163.41ZM380.56,170.10A66.50,66.50 0 0 1 380.07,169.71L385.89,162.40A57.15,57.15 0 0 0 386.31,162.74ZM380.10,169.74A66.50,66.50 0 0 1 379.61,169.35L385.09,162.60A57.80,57.80 0 0 0 385.52,162.94ZM378.31,168.27A66.50,66.50 0 0 1 377.84,167.86L384.58,160.11A56.23,56.23 0 0 0 384.98,160.46ZM376.57,166.73A66.50,66.50 0 0 1 376.11,166.30L382.71,159.24A56.83,56.83 0 0 0 383.10,159.60ZM374.89,165.13A66.50,66.50 0 0 1 374.44,164.69L381.21,157.93A56.94,56.94 0 0 0 381.59,158.31ZM374.07,164.31A66.50,66.50 0 0 1 373.63,163.86L380.72,157.02A56.65,56.65 0 0 0 381.10,157.40ZM372.47,162.63A66.50,66.50 0 0 1 372.05,162.16L380.00,155.01A55.81,55.81 0 0 0 380.36,155.40ZM372.08,162.20A66.50,66.50 0 0 1 371.66,161.73L379.37,154.92A56.22,56.22 0 0 0 379.72,155.32ZM371.69,161.76A66.50,66.50 0 0 1 371.28,161.29L378.98,154.61A56.31,56.31 0 0 0 379.32,155.01ZM370.93,160.89A66.50,66.50 0 0 1 370.53,160.41L378.92,153.37A55.55,55.55 0 0 0 379.26,153.77ZM370.56,160.45A66.50,66.50 0 0 1 370.16,159.96L378.64,152.98A55.51,55.51 0 0 0 378.98,153.38ZM370.19,160.00A66.50,66.50 0 0 1 369.79,159.51L377.96,152.91A56.00,56.00 0 0 0 378.29,153.32ZM369.10,158.64A66.50,66.50 0 0 1 368.71,158.15L377.36,151.52A55.60,55.60 0 0 0 377.68,151.93ZM368.39,157.72A66.50,66.50 0 0 1 368.02,157.22L376.36,151.05A56.12,56.12 0 0 0 376.68,151.48ZM367.70,156.79A66.50,66.50 0 0 1 367.33,156.28L375.25,150.64A56.78,56.78 0 0 0 375.57,151.07ZM367.03,155.84A66.50,66.50 0 0 1 366.67,155.33L374.43,150.00A57.09,57.09 0 0 0 374.74,150.44ZM366.70,155.37A66.50,66.50 0 0 1 366.34,154.85L373.71,149.89A57.62,57.62 0 0 0 374.02,150.33ZM366.05,154.40A66.50,66.50 0 0 1 365.70,153.88L372.81,149.27A58.03,58.03 0 0 0 373.11,149.73ZM365.41,153.43A66.50,66.50 0 0 1 365.08,152.90L372.48,148.29A57.78,57.78 0 0 0 372.77,148.75ZM364.80,152.45A66.50,66.50 0 0 1 364.47,151.91L372.17,147.29A57.53,57.53 0 0 0 372.45,147.76ZM364.20,151.45A66.50,66.50 0 0 1 363.89,150.91L371.95,146.26A57.19,57.19 0 0 0 372.22,146.73ZM363.91,150.95A66.50,66.50 0 0 1 363.60,150.41L371.99,145.67A56.87,56.87 0 0 0 372.25,146.13ZM363.34,149.94A66.50,66.50 0 0 1 363.04,149.39L371.14,145.00A57.28,57.28 0 0 0 371.40,145.47ZM362.51,148.41A66.50,66.50 0 0 1 362.23,147.85L371.23,143.27A56.40,56.40 0 0 0 371.48,143.74ZM361.73,146.85A66.50,66.50 0 0 1 361.46,146.29L370.12,142.16A56.91,56.91 0 0 0 370.35,142.65ZM361.48,146.33A66.50,66.50 0 0 1 361.21,145.76L369.76,141.78A57.07,57.07 0 0 0 369.99,142.27ZM360.29,143.68A66.50,66.50 0 0 1 360.04,143.11L368.67,139.54A57.17,57.17 0 0 0 368.88,140.04ZM359.84,142.61A66.50,66.50 0 0 1 359.61,142.03L368.44,138.56A57.02,57.02 0 0 0 368.64,139.06ZM359.21,140.99A66.50,66.50 0 0 1 358.99,140.40L366.49,137.68A58.52,58.52 0 0 0 366.68,138.19ZM358.81,139.90A66.50,66.50 0 0 1 358.61,139.31L367.27,136.33A57.34,57.34 0 0 0 367.45,136.84ZM358.62,139.35A66.50,66.50 0 0 1 358.42,138.76L366.84,135.95A57.62,57.62 0 0 0 367.02,136.46ZM358.25,138.25A66.50,66.50 0 0 1 358.06,137.65L366.91,134.87A57.23,57.23 0 0 0 367.07,135.39ZM358.08,137.70A66.50,66.50 0 0 1 357.89,137.10L367.46,134.18A56.49,56.49 0 0 0 367.62,134.69ZM357.74,136.59A66.50,66.50 0 0 1 357.56,135.99L366.76,133.35A56.93,56.93 0 0 0 366.91,133.87ZM357.27,134.91A66.50,66.50 0 0 1 357.11,134.31L365.60,132.12A57.73,57.73 0 0 0 365.74,132.64ZM357.12,134.35A66.50,66.50 0 0 1 356.96,133.74L366.48,131.38A56.70,56.70 0 0 0 366.61,131.90ZM356.98,133.79A66.50,66.50 0 0 1 356.83,133.18L366.69,130.82A56.35,56.35 0 0 0 366.82,131.33ZM356.58,132.09A66.50,66.50 0 0 1 356.44,131.48L366.14,129.43A56.59,56.59 0 0 0 366.25,129.95ZM356.34,130.96A66.50,66.50 0 0 1 356.21,130.34L365.64,128.52A56.90,56.90 0 0 0 365.74,129.04ZM356.11,129.82A66.50,66.50 0 0 1 356.00,129.20L364.56,127.70A57.81,57.81 0 0 0 364.65,128.24ZM356.01,129.25A66.50,66.50 0 0 1 355.90,128.63L365.02,127.11A57.26,57.26 0 0 0 365.11,127.64ZM355.73,127.53A66.50,66.50 0 0 1 355.64,126.91L364.75,125.63A57.30,57.30 0 0 0 364.83,126.17ZM355.65,126.96A66.50,66.50 0 0 1 355.56,126.33L364.14,125.21A57.85,57.85 0 0 0 364.21,125.75ZM355.50,125.80A66.50,66.50 0 0 1 355.42,125.18L362.44,124.39A59.44,59.44 0 0 0 362.50,124.94ZM355.43,125.23A66.50,66.50 0 0 1 355.36,124.60L361.49,123.96A60.33,60.33 0 0 0 361.55,124.53ZM355.25,123.50A66.50,66.50 0 0 1 355.20,122.87L362.00,122.34A59.68,59.68 0 0 0 362.05,122.90ZM355.20,122.92A66.50,66.50 0 0 1 355.16,122.29L362.43,121.79A59.22,59.22 0 0 0 362.47,122.35ZM355.12,121.76A66.50,66.50 0 0 1 355.09,121.13L361.99,120.78A59.59,59.59 0 0 0 362.02,121.34ZM355.06,120.60A66.50,66.50 0 0 1 355.04,119.97L361.54,119.75A59.99,59.99 0 0 0 361.56,120.32ZM355.04,120.02A66.50,66.50 0 0 1 355.02,119.39L362.51,119.20A59.01,59.01 0 0 0 362.52,119.76ZM355.02,119.44A66.50,66.50 0 0 1 355.01,118.81L361.76,118.70A59.75,59.75 0 0 0 361.77,119.26ZM355.00,117.70A66.50,66.50 0 0 1 355.00,117.07L362.33,117.14A59.17,59.17 0 0 0 362.33,117.70ZM355.02,115.96A66.50,66.50 0 0 1 355.04,115.33L361.98,115.58A59.56,59.56 0 0 0 361.96,116.14ZM355.06,114.80A66.50,66.50 0 0 1 355.09,114.17L362.65,114.57A58.93,58.93 0 0 0 362.63,115.13ZM355.12,113.64A66.50,66.50 0 0 1 355.17,113.01L362.68,113.55A58.97,58.97 0 0 0 362.64,114.10ZM355.36,110.75A66.50,66.50 0 0 1 355.43,110.13L362.90,110.98A58.98,58.98 0 0 0 362.84,111.54ZM355.50,109.60A66.50,66.50 0 0 1 355.57,108.97L363.62,110.04A58.39,58.39 0 0 0 363.55,110.58ZM355.57,109.02A66.50,66.50 0 0 1 355.65,108.40L362.95,109.43A59.13,59.13 0 0 0 362.88,109.98ZM355.65,108.44A66.50,66.50 0 0 1 355.74,107.82L363.16,108.94A59.00,59.00 0 0 0 363.08,109.49ZM355.91,106.72A66.50,66.50 0 0 1 356.02,106.11L363.56,107.44A58.84,58.84 0 0 0 363.46,107.99ZM356.22,105.01A66.50,66.50 0 0 1 356.34,104.40L363.22,105.80A59.48,59.48 0 0 0 363.11,106.35ZM356.34,104.44A66.50,66.50 0 0 1 356.46,103.83L362.79,105.18A60.03,60.03 0 0 0 362.68,105.73ZM356.45,103.87A66.50,66.50 0 0 1 356.59,103.26L363.02,104.69A59.91,59.91 0 0 0 362.90,105.24ZM356.70,102.74A66.50,66.50 0 0 1 356.85,102.13L363.33,103.69A59.83,59.83 0 0 0 363.20,104.24ZM356.98,101.61A66.50,66.50 0 0 1 357.13,101.00L364.00,102.79A59.40,59.40 0 0 0 363.87,103.33ZM357.42,99.93A66.50,66.50 0 0 1 357.59,99.33L363.74,101.09A60.10,60.10 0 0 0 363.58,101.64ZM357.58,99.37A66.50,66.50 0 0 1 357.75,98.77L364.14,100.67A59.84,59.84 0 0 0 363.98,101.21ZM357.74,98.81A66.50,66.50 0 0 1 357.92,98.21L363.80,100.01A60.35,60.35 0 0 0 363.63,100.56ZM358.25,97.15A66.50,66.50 0 0 1 358.45,96.56L365.09,98.78A59.49,59.49 0 0 0 364.92,99.32ZM358.62,96.05A66.50,66.50 0 0 1 358.83,95.46L364.20,97.37A60.80,60.80 0 0 0 364.01,97.91ZM359.01,94.96A66.50,66.50 0 0 1 359.23,94.37L365.00,96.53A60.33,60.33 0 0 0 364.80,97.06ZM359.42,93.87A66.50,66.50 0 0 1 359.64,93.28L366.84,96.12A58.77,58.77 0 0 0 366.64,96.64ZM360.06,92.25A66.50,66.50 0 0 1 360.30,91.67L367.57,94.76A58.60,58.60 0 0 0 367.36,95.27ZM360.52,91.18A66.50,66.50 0 0 1 360.77,90.61L367.89,93.78A58.71,58.71 0 0 0 367.66,94.29ZM360.75,90.65A66.50,66.50 0 0 1 361.01,90.08L366.73,92.70A60.20,60.20 0 0 0 366.50,93.21ZM360.99,90.12A66.50,66.50 0 0 1 361.25,89.55L367.86,92.64A59.20,59.20 0 0 0 367.63,93.15ZM361.23,89.60A66.50,66.50 0 0 1 361.50,89.03L367.94,92.11A59.36,59.36 0 0 0 367.70,92.61ZM361.73,88.55A66.50,66.50 0 0 1 362.01,87.99L367.45,90.70A60.42,60.42 0 0 0 367.19,91.21ZM361.99,88.03A66.50,66.50 0 0 1 362.27,87.47L368.21,90.50A59.83,59.83 0 0 0 367.95,91.00ZM362.25,87.51A66.50,66.50 0 0 1 362.54,86.95L367.59,89.59A60.80,60.80 0 0 0 367.32,90.10ZM363.34,85.46A66.50,66.50 0 0 1 363.64,84.91L369.18,88.05A60.14,60.14 0 0 0 368.90,88.54ZM364.20,83.95A66.50,66.50 0 0 1 364.52,83.41L369.70,86.52A60.46,60.46 0 0 0 369.41,87.01ZM364.50,83.45A66.50,66.50 0 0 1 364.82,82.91L370.62,86.47A59.69,59.69 0 0 0 370.33,86.96ZM364.80,82.95A66.50,66.50 0 0 1 365.13,82.42L370.72,85.92A59.91,59.91 0 0 0 370.42,86.40ZM365.41,81.97A66.50,66.50 0 0 1 365.75,81.44L371.26,85.02A59.93,59.93 0 0 0 370.95,85.50ZM365.73,81.48A66.50,66.50 0 0 1 366.07,80.96L371.88,84.81A59.53,59.53 0 0 0 371.57,85.28ZM366.05,81.00A66.50,66.50 0 0 1 366.39,80.48L371.79,84.12A59.99,59.99 0 0 0 371.47,84.59ZM366.70,80.03A66.50,66.50 0 0 1 367.05,79.52L372.64,83.44A59.68,59.68 0 0 0 372.32,83.90ZM367.03,79.56A66.50,66.50 0 0 1 367.39,79.05L373.15,83.16A59.41,59.41 0 0 0 372.83,83.62ZM367.70,78.61A66.50,66.50 0 0 1 368.07,78.11L373.52,82.14A59.72,59.72 0 0 0 373.18,82.60ZM368.39,77.68A66.50,66.50 0 0 1 368.77,77.18L373.42,80.75A60.64,60.64 0 0 0 373.07,81.21ZM369.10,76.76A66.50,66.50 0 0 1 369.49,76.27L374.31,80.11A60.33,60.33 0 0 0 373.96,80.55ZM369.46,76.30A66.50,66.50 0 0 1 369.85,75.81L373.64,78.89A61.62,61.62 0 0 0 373.27,79.34ZM369.82,75.85A66.50,66.50 0 0 1 370.22,75.36L374.36,78.79A61.12,61.12 0 0 0 374.00,79.23ZM370.93,74.51A66.50,66.50 0 0 1 371.34,74.04L376.28,78.34A59.95,59.95 0 0 0 375.91,78.76ZM371.31,74.07A66.50,66.50 0 0 1 371.73,73.60L376.69,78.00A59.87,59.87 0 0 0 376.32,78.42ZM373.26,71.92A66.50,66.50 0 0 1 373.70,71.47L378.46,76.08A59.88,59.88 0 0 0 378.07,76.48ZM373.66,71.51A66.50,66.50 0 0 1 374.10,71.06L378.48,75.37A60.36,60.36 0 0 0 378.08,75.77ZM374.07,71.09A66.50,66.50 0 0 1 374.51,70.64L379.24,75.38A59.80,59.80 0 0 0 378.84,75.78ZM375.31,69.86A66.50,66.50 0 0 1 375.76,69.43L380.49,74.43A59.61,59.61 0 0 0 380.09,74.82ZM375.72,69.46A66.50,66.50 0 0 1 376.18,69.03L380.33,73.48A60.42,60.42 0 0 0 379.91,73.88ZM376.57,68.67A66.50,66.50 0 0 1 377.04,68.25L381.37,73.07A60.02,60.02 0 0 0 380.95,73.45ZM378.31,67.13A66.50,66.50 0 0 1 378.79,66.73L382.64,71.32A60.51,60.51 0 0 0 382.20,71.69ZM378.75,66.76A66.50,66.50 0 0 1 379.24,66.36L383.38,71.39A59.98,59.98 0 0 0 382.94,71.75ZM381.48,64.59A66.50,66.50 0 0 1 381.98,64.22L386.41,70.21A59.04,59.04 0 0 0 385.97,70.54ZM381.94,64.24A66.50,66.50 0 0 1 382.45,63.87L386.35,69.25A59.86,59.86 0 0 0 385.89,69.58ZM382.88,63.56A66.50,66.50 0 0 1 383.40,63.20L387.40,68.93A59.51,59.51 0 0 0 386.94,69.25ZM383.83,62.90A66.50,66.50 0 0 1 384.35,62.54L388.31,68.41A59.42,59.42 0 0 0 387.84,68.73ZM384.31,62.57A66.50,66.50 0 0 1 384.83,62.22L388.15,67.24A60.49,60.49 0 0 0 387.68,67.55ZM384.80,62.25A66.50,66.50 0 0 1 385.32,61.90L389.02,67.61A59.70,59.70 0 0 0 388.55,67.92ZM385.77,61.61A66.50,66.50 0 0 1 386.30,61.28L390.39,67.84A58.77,58.77 0 0 0 389.93,68.14ZM386.26,61.30A66.50,66.50 0 0 1 386.79,60.98L390.66,67.30A59.09,59.09 0 0 0 390.19,67.59ZM386.75,61.00A66.50,66.50 0 0 1 387.29,60.67L390.92,66.72A59.45,59.45 0 0 0 390.44,67.01ZM387.25,60.70A66.50,66.50 0 0 1 387.79,60.38L391.53,66.74A59.12,59.12 0 0 0 391.05,67.02ZM389.26,59.54A66.50,66.50 0 0 1 389.81,59.24L393.09,65.29A59.61,59.61 0 0 0 392.60,65.56ZM390.28,58.98A66.50,66.50 0 0 1 390.83,58.69L394.46,65.67A58.63,58.63 0 0 0 393.97,65.93ZM391.31,58.45A66.50,66.50 0 0 1 391.87,58.17L395.37,65.21A58.64,58.64 0 0 0 394.88,65.45ZM393.92,57.19A66.50,66.50 0 0 1 394.49,56.93L397.38,63.42A59.40,59.40 0 0 0 396.87,63.65ZM394.98,56.72A66.50,66.50 0 0 1 395.56,56.47L398.66,63.79A58.54,58.54 0 0 0 398.16,64.01ZM396.05,56.26A66.50,66.50 0 0 1 396.63,56.02L399.23,62.47A59.55,59.55 0 0 0 398.71,62.68ZM397.13,55.83A66.50,66.50 0 0 1 397.71,55.60L400.37,62.55A59.06,59.06 0 0 0 399.86,62.75ZM397.67,55.62A66.50,66.50 0 0 1 398.25,55.40L401.10,63.02A58.36,58.36 0 0 0 400.59,63.22ZM399.30,55.01A66.50,66.50 0 0 1 399.89,54.81L402.39,62.08A58.81,58.81 0 0 0 401.87,62.27ZM400.40,54.64A66.50,66.50 0 0 1 400.99,54.44L402.91,60.34A60.30,60.30 0 0 0 402.37,60.52ZM402.06,54.11A66.50,66.50 0 0 1 402.66,53.93L404.79,61.13A58.99,58.99 0 0 0 404.25,61.29ZM404.85,53.32A66.50,66.50 0 0 1 405.46,53.16L407.30,60.60A58.84,58.84 0 0 0 406.77,60.73ZM406.54,52.90A66.50,66.50 0 0 1 407.15,52.77L408.74,59.96A59.13,59.13 0 0 0 408.20,60.08ZM409.95,52.21A66.50,66.50 0 0 1 410.57,52.10L411.71,58.92A59.59,59.59 0 0 0 411.15,59.01ZM411.10,52.02A66.50,66.50 0 0 1 411.72,51.92L412.66,58.24A60.11,60.11 0 0 0 412.10,58.33ZM412.24,51.85A66.50,66.50 0 0 1 412.87,51.76L413.75,58.51A59.69,59.69 0 0 0 413.19,58.59ZM413.40,51.70A66.50,66.50 0 0 1 414.02,51.62L414.85,58.95A59.13,59.13 0 0 0 414.29,59.01ZM414.55,51.56A66.50,66.50 0 0 1 415.17,51.50L415.87,58.82A59.15,59.15 0 0 0 415.32,58.88ZM415.70,51.45A66.50,66.50 0 0 1 416.33,51.40L416.85,58.11A59.77,59.77 0 0 0 416.29,58.16ZM416.28,51.40A66.50,66.50 0 0 1 416.91,51.36L417.36,57.83A60.02,60.02 0 0 0 416.79,57.87ZM416.86,51.36A66.50,66.50 0 0 1 417.49,51.32L417.96,59.16A58.65,58.65 0 0 0 417.41,59.19ZM418.60,51.26A66.50,66.50 0 0 1 419.23,51.24L419.50,59.21A58.52,58.52 0 0 0 418.95,59.23ZM419.18,51.24A66.50,66.50 0 0 1 419.81,51.22L419.98,58.20A59.52,59.52 0 0 0 419.42,58.22Z" fill="#b9b9b9"/>
<path d="M422.08,51.20A66.50,66.50 0 0 1 422.71,51.21L422.57,58.65A59.06,59.06 0 0 0 422.02,58.65ZM422.66,51.21A66.50,66.50 0 0 1 423.29,51.22L423.10,58.08A59.64,59.64 0 0 0 422.54,58.07ZM423.82,51.24A66.50,66.50 0 0 1 424.45,51.27L424.14,58.22A59.53,59.53 0 0 0 423.58,58.20ZM424.40,51.26A66.50,66.50 0 0 1 425.03,51.29L424.59,59.45A58.33,58.33 0 0 0 424.04,59.43ZM426.14,51.36A66.50,66.50 0 0 1 426.76,51.41L426.18,58.76A59.12,59.12 0 0 0 425.62,58.72ZM427.30,51.45A66.50,66.50 0 0 1 427.92,51.51L427.32,57.74A60.24,60.24 0 0 0 426.75,57.69ZM428.45,51.56A66.50,66.50 0 0 1 429.07,51.63L428.17,59.56A58.52,58.52 0 0 0 427.62,59.50ZM429.03,51.63A66.50,66.50 0 0 1 429.65,51.70L428.64,59.85A58.29,58.29 0 0 0 428.10,59.79ZM429.60,51.70A66.50,66.50 0 0 1 430.23,51.77L429.14,59.97A58.24,58.24 0 0 0 428.60,59.90ZM430.18,51.77A66.50,66.50 0 0 1 430.80,51.85L429.74,59.33A58.95,58.95 0 0 0 429.19,59.25ZM431.33,51.93A66.50,66.50 0 0 1 431.95,52.03L430.77,59.43A59.01,59.01 0 0 0 430.22,59.34ZM431.90,52.02A66.50,66.50 0 0 1 432.52,52.12L431.22,59.84A58.68,58.68 0 0 0 430.68,59.75ZM432.48,52.11A66.50,66.50 0 0 1 433.09,52.22L431.82,59.41A59.20,59.20 0 0 0 431.27,59.32ZM434.19,52.42A66.50,66.50 0 0 1 434.80,52.54L433.37,59.58A59.32,59.32 0 0 0 432.82,59.47ZM434.76,52.54A66.50,66.50 0 0 1 435.37,52.66L433.72,60.39A58.60,58.60 0 0 0 433.18,60.28ZM435.33,52.65A66.50,66.50 0 0 1 435.94,52.79L434.36,59.86A59.25,59.25 0 0 0 433.82,59.74ZM436.46,52.90A66.50,66.50 0 0 1 437.07,53.05L435.23,60.68A58.65,58.65 0 0 0 434.69,60.55ZM437.02,53.04A66.50,66.50 0 0 1 437.63,53.19L435.87,60.24A59.23,59.23 0 0 0 435.33,60.11ZM437.59,53.18A66.50,66.50 0 0 1 438.20,53.33L436.49,59.90A59.72,59.72 0 0 0 435.95,59.76ZM441.50,54.28A66.50,66.50 0 0 1 442.09,54.47L440.14,60.45A60.20,60.20 0 0 0 439.60,60.28ZM442.05,54.45A66.50,66.50 0 0 1 442.64,54.65L440.68,60.52A60.31,60.31 0 0 0 440.14,60.34ZM442.60,54.64A66.50,66.50 0 0 1 443.19,54.84L441.28,60.37A60.65,60.65 0 0 0 440.74,60.19ZM443.15,54.82A66.50,66.50 0 0 1 443.74,55.03L441.85,60.36A60.84,60.84 0 0 0 441.31,60.17ZM445.33,55.62A66.50,66.50 0 0 1 445.92,55.84L443.36,62.32A59.53,59.53 0 0 0 442.83,62.12ZM445.87,55.83A66.50,66.50 0 0 1 446.45,56.06L443.67,62.94A59.08,59.08 0 0 0 443.15,62.73ZM446.41,56.04A66.50,66.50 0 0 1 446.99,56.28L444.49,62.30A59.98,59.98 0 0 0 443.97,62.09ZM447.48,56.49A66.50,66.50 0 0 1 448.06,56.73L445.42,62.79A59.89,59.89 0 0 0 444.90,62.57ZM448.55,56.95A66.50,66.50 0 0 1 449.12,57.21L446.18,63.65A59.41,59.41 0 0 0 445.67,63.42ZM449.08,57.19A66.50,66.50 0 0 1 449.65,57.45L446.85,63.44A59.89,59.89 0 0 0 446.33,63.21ZM450.13,57.68A66.50,66.50 0 0 1 450.69,57.95L448.03,63.40A60.44,60.44 0 0 0 447.52,63.15ZM450.65,57.93A66.50,66.50 0 0 1 451.21,58.21L447.92,64.80A59.13,59.13 0 0 0 447.42,64.55ZM451.69,58.45A66.50,66.50 0 0 1 452.25,58.74L448.98,64.99A59.44,59.44 0 0 0 448.49,64.74ZM455.25,60.40A66.50,66.50 0 0 1 455.79,60.72L452.44,66.28A60.01,60.01 0 0 0 451.96,65.99ZM457.72,61.93A66.50,66.50 0 0 1 458.24,62.27L454.14,68.46A59.08,59.08 0 0 0 453.68,68.15ZM459.17,62.90A66.50,66.50 0 0 1 459.68,63.25L455.84,68.73A59.81,59.81 0 0 0 455.38,68.41ZM460.12,63.56A66.50,66.50 0 0 1 460.63,63.93L457.31,68.49A60.86,60.86 0 0 0 456.84,68.15ZM461.06,64.24A66.50,66.50 0 0 1 461.56,64.62L458.07,69.24A60.71,60.71 0 0 0 457.61,68.90ZM462.90,65.66A66.50,66.50 0 0 1 463.39,66.05L459.16,71.26A59.79,59.79 0 0 0 458.72,70.90ZM463.35,66.02A66.50,66.50 0 0 1 463.84,66.42L459.96,71.11A60.41,60.41 0 0 0 459.52,70.75ZM464.25,66.76A66.50,66.50 0 0 1 464.72,67.16L460.27,72.37A59.65,59.65 0 0 0 459.84,72.00ZM465.13,67.51A66.50,66.50 0 0 1 465.60,67.93L460.56,73.61A58.91,58.91 0 0 0 460.15,73.24ZM466.43,68.67A66.50,66.50 0 0 1 466.89,69.10L461.39,74.99A58.44,58.44 0 0 0 460.98,74.61ZM467.69,69.86A66.50,66.50 0 0 1 468.14,70.30L463.30,75.23A59.59,59.59 0 0 0 462.90,74.83ZM468.52,70.68A66.50,66.50 0 0 1 468.96,71.12L463.85,76.14A59.33,59.33 0 0 0 463.45,75.75ZM468.93,71.09A66.50,66.50 0 0 1 469.37,71.54L463.94,76.77A58.96,58.96 0 0 0 463.55,76.37ZM469.34,71.51A66.50,66.50 0 0 1 469.77,71.96L464.51,76.94A59.26,59.26 0 0 0 464.13,76.53ZM469.74,71.92A66.50,66.50 0 0 1 470.17,72.38L465.18,77.03A59.68,59.68 0 0 0 464.79,76.62ZM470.14,72.35A66.50,66.50 0 0 1 470.56,72.81L465.26,77.66A59.32,59.32 0 0 0 464.88,77.24ZM470.92,73.20A66.50,66.50 0 0 1 471.34,73.67L465.20,79.09A58.31,58.31 0 0 0 464.83,78.68ZM472.44,74.95A66.50,66.50 0 0 1 472.84,75.44L466.60,80.58A58.41,58.41 0 0 0 466.25,80.15ZM473.18,75.85A66.50,66.50 0 0 1 473.57,76.34L467.49,81.17A58.73,58.73 0 0 0 467.14,80.74ZM473.54,76.30A66.50,66.50 0 0 1 473.93,76.80L468.10,81.34A59.11,59.11 0 0 0 467.76,80.91ZM473.90,76.76A66.50,66.50 0 0 1 474.29,77.25L468.09,82.00A58.69,58.69 0 0 0 467.75,81.57ZM474.61,77.68A66.50,66.50 0 0 1 474.98,78.18L468.35,83.08A58.25,58.25 0 0 0 468.02,82.64ZM474.96,78.14A66.50,66.50 0 0 1 475.33,78.65L469.49,82.88A59.29,59.29 0 0 0 469.16,82.43ZM475.30,78.61A66.50,66.50 0 0 1 475.67,79.12L469.06,83.83A58.39,58.39 0 0 0 468.74,83.38ZM475.64,79.08A66.50,66.50 0 0 1 476.00,79.60L469.77,83.95A58.90,58.90 0 0 0 469.45,83.50ZM475.97,79.56A66.50,66.50 0 0 1 476.33,80.07L469.89,84.49A58.69,58.69 0 0 0 469.58,84.04ZM476.30,80.03A66.50,66.50 0 0 1 476.66,80.55L470.28,84.85A58.81,58.81 0 0 0 469.97,84.39ZM477.59,81.97A66.50,66.50 0 0 1 477.92,82.50L472.38,85.96A59.97,59.97 0 0 0 472.08,85.48ZM478.80,83.95A66.50,66.50 0 0 1 479.11,84.49L473.27,87.86A59.76,59.76 0 0 0 472.99,87.37ZM479.09,84.45A66.50,66.50 0 0 1 479.40,84.99L473.05,88.58A59.21,59.21 0 0 0 472.78,88.10ZM479.94,85.97A66.50,66.50 0 0 1 480.24,86.52L474.66,89.48A60.18,60.18 0 0 0 474.39,88.98ZM480.22,86.48A66.50,66.50 0 0 1 480.51,87.03L474.09,90.37A59.26,59.26 0 0 0 473.83,89.88ZM480.49,86.99A66.50,66.50 0 0 1 480.77,87.55L474.38,90.80A59.33,59.33 0 0 0 474.12,90.31ZM481.27,88.55A66.50,66.50 0 0 1 481.54,89.11L475.15,92.16A59.42,59.42 0 0 0 474.91,91.65ZM481.77,89.60A66.50,66.50 0 0 1 482.03,90.17L475.46,93.15A59.28,59.28 0 0 0 475.23,92.65ZM482.01,90.12A66.50,66.50 0 0 1 482.27,90.69L475.31,93.79A58.89,58.89 0 0 0 475.08,93.28ZM484.38,96.05A66.50,66.50 0 0 1 484.58,96.64L477.97,98.85A59.53,59.53 0 0 0 477.79,98.32ZM484.56,96.60A66.50,66.50 0 0 1 484.76,97.19L477.85,99.44A59.23,59.23 0 0 0 477.67,98.91ZM484.75,97.15A66.50,66.50 0 0 1 484.94,97.75L477.56,100.07A58.76,58.76 0 0 0 477.39,99.54ZM484.92,97.70A66.50,66.50 0 0 1 485.11,98.30L477.99,100.47A59.06,59.06 0 0 0 477.82,99.94ZM485.09,98.26A66.50,66.50 0 0 1 485.27,98.86L477.87,101.04A58.78,58.78 0 0 0 477.71,100.51ZM485.26,98.81A66.50,66.50 0 0 1 485.44,99.41L477.69,101.63A58.44,58.44 0 0 0 477.53,101.10ZM485.42,99.37A66.50,66.50 0 0 1 485.59,99.97L478.28,101.99A58.92,58.92 0 0 0 478.13,101.46ZM485.88,101.05A66.50,66.50 0 0 1 486.04,101.66L478.82,103.45A59.07,59.07 0 0 0 478.69,102.91ZM486.16,102.18A66.50,66.50 0 0 1 486.31,102.79L478.70,104.54A58.70,58.70 0 0 0 478.58,104.00ZM486.30,102.74A66.50,66.50 0 0 1 486.43,103.35L479.28,104.93A59.17,59.17 0 0 0 479.15,104.39ZM486.99,106.15A66.50,66.50 0 0 1 487.10,106.77L481.21,107.75A60.53,60.53 0 0 0 481.12,107.19ZM487.09,106.72A66.50,66.50 0 0 1 487.19,107.34L481.16,108.29A60.40,60.40 0 0 0 481.07,107.73ZM487.18,107.30A66.50,66.50 0 0 1 487.28,107.92L481.84,108.73A61.00,61.00 0 0 0 481.75,108.16ZM487.57,110.17A66.50,66.50 0 0 1 487.64,110.80L480.74,111.52A59.56,59.56 0 0 0 480.68,110.96ZM487.64,110.75A66.50,66.50 0 0 1 487.70,111.37L480.35,112.07A59.12,59.12 0 0 0 480.30,111.52ZM487.69,111.33A66.50,66.50 0 0 1 487.75,111.95L479.44,112.67A58.16,58.16 0 0 0 479.39,112.13ZM487.75,111.90A66.50,66.50 0 0 1 487.80,112.53L480.43,113.10A59.11,59.11 0 0 0 480.38,112.55ZM487.80,112.48A66.50,66.50 0 0 1 487.84,113.11L481.38,113.56A60.02,60.02 0 0 0 481.33,112.99ZM487.84,113.06A66.50,66.50 0 0 1 487.88,113.69L480.59,114.13A59.20,59.20 0 0 0 480.55,113.57ZM487.96,115.38A66.50,66.50 0 0 1 487.98,116.01L481.25,116.18A59.77,59.77 0 0 0 481.24,115.61ZM487.98,115.96A66.50,66.50 0 0 1 487.99,116.59L481.23,116.70A59.74,59.74 0 0 0 481.22,116.14ZM487.99,116.54A66.50,66.50 0 0 1 488.00,117.17L480.93,117.22A59.43,59.43 0 0 0 480.92,116.66ZM488.00,117.70A66.50,66.50 0 0 1 488.00,118.33L480.89,118.26A59.39,59.39 0 0 0 480.89,117.70ZM488.00,118.28A66.50,66.50 0 0 1 487.99,118.91L481.12,118.78A59.63,59.63 0 0 0 481.13,118.22ZM487.94,120.60A66.50,66.50 0 0 1 487.91,121.23L481.29,120.88A59.88,59.88 0 0 0 481.32,120.31ZM487.91,121.18A66.50,66.50 0 0 1 487.87,121.81L481.43,121.41A60.04,60.04 0 0 0 481.46,120.84ZM487.88,121.76A66.50,66.50 0 0 1 487.83,122.39L482.17,121.99A60.83,60.83 0 0 0 482.21,121.41ZM487.75,123.50A66.50,66.50 0 0 1 487.69,124.12L480.94,123.47A59.72,59.72 0 0 0 480.99,122.91ZM487.57,125.23A66.50,66.50 0 0 1 487.50,125.85L480.24,124.95A59.19,59.19 0 0 0 480.31,124.40ZM487.43,126.38A66.50,66.50 0 0 1 487.35,127.00L478.53,125.76A57.60,57.60 0 0 0 478.60,125.22ZM487.35,126.96A66.50,66.50 0 0 1 487.26,127.58L478.03,126.19A57.17,57.17 0 0 0 478.11,125.66ZM487.27,127.53A66.50,66.50 0 0 1 487.17,128.15L478.88,126.83A58.10,58.10 0 0 0 478.96,126.29ZM487.18,128.10A66.50,66.50 0 0 1 487.08,128.72L477.37,127.09A56.65,56.65 0 0 0 477.45,126.56ZM486.89,129.82A66.50,66.50 0 0 1 486.77,130.43L476.69,128.47A56.23,56.23 0 0 0 476.79,127.95ZM486.30,132.66A66.50,66.50 0 0 1 486.15,133.27L476.95,131.05A57.04,57.04 0 0 0 477.08,130.53ZM485.73,134.91A66.50,66.50 0 0 1 485.57,135.52L475.93,132.83A56.49,56.49 0 0 0 476.07,132.32ZM484.75,138.25A66.50,66.50 0 0 1 484.55,138.84L475.13,135.69A56.56,56.56 0 0 0 475.30,135.18ZM483.99,140.44A66.50,66.50 0 0 1 483.77,141.03L474.72,137.64A56.84,56.84 0 0 0 474.91,137.14ZM483.58,141.53A66.50,66.50 0 0 1 483.36,142.12L474.67,138.69A57.16,57.16 0 0 0 474.86,138.18ZM483.37,142.07A66.50,66.50 0 0 1 483.14,142.65L474.70,139.24A57.40,57.40 0 0 0 474.90,138.74ZM483.16,142.61A66.50,66.50 0 0 1 482.92,143.19L474.75,139.80A57.66,57.66 0 0 0 474.96,139.30ZM482.48,144.22A66.50,66.50 0 0 1 482.23,144.79L472.73,140.55A56.10,56.10 0 0 0 472.95,140.07ZM482.25,144.75A66.50,66.50 0 0 1 481.99,145.32L473.16,141.28A56.78,56.78 0 0 0 473.37,140.80ZM482.01,145.28A66.50,66.50 0 0 1 481.75,145.85L472.88,141.70A56.71,56.71 0 0 0 473.10,141.22ZM481.52,146.33A66.50,66.50 0 0 1 481.25,146.89L473.24,142.98A57.58,57.58 0 0 0 473.47,142.49ZM481.27,146.85A66.50,66.50 0 0 1 480.99,147.41L472.73,143.29A57.27,57.27 0 0 0 472.97,142.80ZM480.75,147.89A66.50,66.50 0 0 1 480.46,148.45L472.82,144.46A57.88,57.88 0 0 0 473.07,143.98ZM480.49,148.41A66.50,66.50 0 0 1 480.19,148.96L472.45,144.84A57.72,57.72 0 0 0 472.70,144.35ZM480.22,148.92A66.50,66.50 0 0 1 479.92,149.47L472.11,145.22A57.61,57.61 0 0 0 472.37,144.75ZM479.66,149.94A66.50,66.50 0 0 1 479.36,150.49L471.14,145.83A57.06,57.06 0 0 0 471.40,145.36ZM479.38,150.45A66.50,66.50 0 0 1 479.07,150.99L470.61,146.10A56.73,56.73 0 0 0 470.87,145.63ZM478.50,151.95A66.50,66.50 0 0 1 478.18,152.49L470.35,147.68A57.32,57.32 0 0 0 470.63,147.22ZM478.20,152.45A66.50,66.50 0 0 1 477.87,152.98L470.31,148.25A57.58,57.58 0 0 0 470.59,147.79ZM477.59,153.43A66.50,66.50 0 0 1 477.25,153.96L470.08,149.30A57.95,57.95 0 0 0 470.37,148.84ZM476.95,154.40A66.50,66.50 0 0 1 476.61,154.92L468.81,149.66A57.09,57.09 0 0 0 469.11,149.21ZM476.30,155.37A66.50,66.50 0 0 1 475.95,155.88L468.36,150.56A57.23,57.23 0 0 0 468.67,150.12ZM475.97,155.84A66.50,66.50 0 0 1 475.61,156.35L467.88,150.83A57.00,57.00 0 0 0 468.19,150.40ZM475.64,156.32A66.50,66.50 0 0 1 475.27,156.83L468.14,151.64A57.68,57.68 0 0 0 468.46,151.19ZM475.30,156.79A66.50,66.50 0 0 1 474.93,157.29L467.78,152.00A57.60,57.60 0 0 0 468.10,151.56ZM473.90,158.64A66.50,66.50 0 0 1 473.51,159.13L466.62,153.64A57.68,57.68 0 0 0 466.96,153.21ZM472.44,160.45A66.50,66.50 0 0 1 472.04,160.92L464.81,154.74A56.99,56.99 0 0 0 465.15,154.33ZM471.69,161.33A66.50,66.50 0 0 1 471.27,161.80L464.56,155.85A57.53,57.53 0 0 0 464.92,155.44ZM470.14,163.05A66.50,66.50 0 0 1 469.71,163.51L463.01,157.15A57.26,57.26 0 0 0 463.38,156.75ZM469.34,163.89A66.50,66.50 0 0 1 468.90,164.34L461.74,157.30A56.46,56.46 0 0 0 462.11,156.92ZM468.93,164.31A66.50,66.50 0 0 1 468.49,164.76L462.08,158.34A57.43,57.43 0 0 0 462.46,157.95ZM468.11,165.13A66.50,66.50 0 0 1 467.66,165.57L460.67,158.32A56.43,56.43 0 0 0 461.05,157.95ZM466.85,166.34A66.50,66.50 0 0 1 466.39,166.76L459.97,159.74A56.98,56.98 0 0 0 460.36,159.37ZM466.00,167.12A66.50,66.50 0 0 1 465.53,167.54L459.06,160.21A56.72,56.72 0 0 0 459.46,159.85ZM465.56,167.51A66.50,66.50 0 0 1 465.09,167.92L458.90,160.78A57.05,57.05 0 0 0 459.30,160.42ZM464.69,168.27A66.50,66.50 0 0 1 464.21,168.67L458.15,161.44A57.07,57.07 0 0 0 458.56,161.09ZM463.35,169.38A66.50,66.50 0 0 1 462.86,169.77L456.39,161.63A56.10,56.10 0 0 0 456.81,161.30ZM461.52,170.81A66.50,66.50 0 0 1 461.02,171.18L454.71,162.65A55.89,55.89 0 0 0 455.14,162.34ZM460.59,171.50A66.50,66.50 0 0 1 460.08,171.87L454.39,163.87A56.69,56.69 0 0 0 454.82,163.56ZM460.12,171.84A66.50,66.50 0 0 1 459.60,172.20L454.18,164.44A57.03,57.03 0 0 0 454.62,164.13ZM459.64,172.17A66.50,66.50 0 0 1 459.13,172.53L453.69,164.61A56.89,56.89 0 0 0 454.13,164.30ZM459.17,172.50A66.50,66.50 0 0 1 458.65,172.86L453.27,164.88A56.88,56.88 0 0 0 453.72,164.58ZM458.69,172.83A66.50,66.50 0 0 1 458.17,173.18L452.37,164.41A55.99,55.99 0 0 0 452.81,164.12ZM457.72,173.47A66.50,66.50 0 0 1 457.19,173.81L452.17,165.92A57.15,57.15 0 0 0 452.63,165.63ZM457.23,173.79A66.50,66.50 0 0 1 456.70,174.12L451.49,165.77A56.66,56.66 0 0 0 451.94,165.49ZM454.25,175.58A66.50,66.50 0 0 1 453.70,175.88L448.95,167.31A56.70,56.70 0 0 0 449.42,167.05ZM453.74,175.86A66.50,66.50 0 0 1 453.19,176.16L448.52,167.55A56.70,56.70 0 0 0 448.99,167.29ZM452.72,176.42A66.50,66.50 0 0 1 452.17,176.71L447.73,168.17A56.88,56.88 0 0 0 448.20,167.92ZM450.65,177.47A66.50,66.50 0 0 1 450.09,177.74L445.84,168.83A56.63,56.63 0 0 0 446.32,168.60ZM449.60,177.97A66.50,66.50 0 0 1 449.03,178.23L445.03,169.44A56.84,56.84 0 0 0 445.52,169.21ZM448.02,178.68A66.50,66.50 0 0 1 447.44,178.93L443.56,169.78A56.56,56.56 0 0 0 444.05,169.57ZM445.87,179.57A66.50,66.50 0 0 1 445.29,179.80L442.25,171.87A58.00,58.00 0 0 0 442.76,171.67ZM444.24,180.19A66.50,66.50 0 0 1 443.65,180.40L441.98,175.66A61.47,61.47 0 0 0 442.52,175.46ZM443.70,180.39A66.50,66.50 0 0 1 443.11,180.59L441.22,175.10A60.69,60.69 0 0 0 441.76,174.91ZM442.60,180.76A66.50,66.50 0 0 1 442.01,180.96L440.29,175.67A60.93,60.93 0 0 0 440.83,175.49ZM439.27,181.78A66.50,66.50 0 0 1 438.67,181.95L437.13,176.19A60.54,60.54 0 0 0 437.68,176.04ZM437.59,182.22A66.50,66.50 0 0 1 436.98,182.37L435.53,176.32A60.27,60.27 0 0 0 436.08,176.18ZM437.02,182.36A66.50,66.50 0 0 1 436.41,182.51L434.87,175.80A59.62,59.62 0 0 0 435.42,175.67ZM436.46,182.50A66.50,66.50 0 0 1 435.85,182.63L434.54,176.73A60.45,60.45 0 0 0 435.10,176.60ZM435.89,182.62A66.50,66.50 0 0 1 435.28,182.76L434.04,176.91A60.53,60.53 0 0 0 434.60,176.79ZM435.33,182.75A66.50,66.50 0 0 1 434.71,182.87L433.68,177.78A61.30,61.30 0 0 0 434.24,177.66ZM434.76,182.86A66.50,66.50 0 0 1 434.14,182.99L432.89,176.54A59.93,59.93 0 0 0 433.45,176.43ZM434.19,182.98A66.50,66.50 0 0 1 433.57,183.09L432.48,177.17A60.47,60.47 0 0 0 433.04,177.06ZM433.05,183.19A66.50,66.50 0 0 1 432.43,183.30L431.50,177.73A60.86,60.86 0 0 0 432.07,177.63ZM432.48,183.29A66.50,66.50 0 0 1 431.86,183.39L430.98,177.84A60.88,60.88 0 0 0 431.55,177.75ZM431.33,183.47A66.50,66.50 0 0 1 430.71,183.56L430.00,178.46A61.35,61.35 0 0 0 430.57,178.38ZM430.76,183.55A66.50,66.50 0 0 1 430.13,183.64L429.53,179.05A61.88,61.88 0 0 0 430.11,178.98ZM429.03,183.77A66.50,66.50 0 0 1 428.40,183.84L427.87,178.70A61.33,61.33 0 0 0 428.44,178.64ZM428.45,183.84A66.50,66.50 0 0 1 427.83,183.90L427.31,178.49A61.06,61.06 0 0 0 427.88,178.43ZM424.40,184.14A66.50,66.50 0 0 1 423.77,184.16L423.54,177.34A59.68,59.68 0 0 0 424.10,177.32ZM423.82,184.16A66.50,66.50 0 0 1 423.19,184.18L423.03,177.88A60.20,60.20 0 0 0 423.60,177.87ZM422.08,184.20A66.50,66.50 0 0 1 421.45,184.20L421.46,178.41A60.71,60.71 0 0 0 422.03,178.41ZM420.92,184.20A66.50,66.50 0 0 1 420.29,184.19L420.38,179.40A61.71,61.71 0 0 0 420.96,179.41ZM415.70,183.95A66.50,66.50 0 0 1 415.08,183.89L415.58,178.75A61.33,61.33 0 0 0 416.15,178.80ZM414.55,183.84A66.50,66.50 0 0 1 413.93,183.77L414.56,178.25A60.95,60.95 0 0 0 415.13,178.32ZM413.40,183.70A66.50,66.50 0 0 1 412.77,183.63L413.40,178.89A61.73,61.73 0 0 0 413.98,178.97ZM411.10,183.38A66.50,66.50 0 0 1 410.48,183.28L411.60,176.60A59.72,59.72 0 0 0 412.16,176.69ZM410.52,183.29A66.50,66.50 0 0 1 409.91,183.18L411.12,176.34A59.55,59.55 0 0 0 411.67,176.43ZM408.81,182.98A66.50,66.50 0 0 1 408.20,182.86L409.42,176.86A60.38,60.38 0 0 0 409.98,176.97ZM407.67,182.75A66.50,66.50 0 0 1 407.06,182.61L408.41,176.57A60.31,60.31 0 0 0 408.96,176.69ZM407.11,182.62A66.50,66.50 0 0 1 406.50,182.49L407.89,176.47A60.32,60.32 0 0 0 408.44,176.59ZM406.54,182.50A66.50,66.50 0 0 1 405.93,182.35L407.42,176.18A60.15,60.15 0 0 0 407.97,176.31ZM405.98,182.36A66.50,66.50 0 0 1 405.37,182.21L406.90,176.09A60.19,60.19 0 0 0 407.45,176.22ZM404.29,181.93A66.50,66.50 0 0 1 403.68,181.77L405.04,176.90A61.44,61.44 0 0 0 405.60,177.05ZM402.06,181.29A66.50,66.50 0 0 1 401.46,181.11L403.26,175.41A60.52,60.52 0 0 0 403.80,175.58ZM400.40,180.76A66.50,66.50 0 0 1 399.81,180.56L401.70,175.09A60.71,60.71 0 0 0 402.24,175.27ZM399.30,180.39A66.50,66.50 0 0 1 398.71,180.17L400.82,174.39A60.34,60.34 0 0 0 401.36,174.58ZM398.21,179.99A66.50,66.50 0 0 1 397.63,179.77L400.15,173.19A59.46,59.46 0 0 0 400.68,173.39ZM397.67,179.78A66.50,66.50 0 0 1 397.08,179.56L400.79,170.17A56.41,56.41 0 0 0 401.28,170.36ZM397.13,179.57A66.50,66.50 0 0 1 396.55,179.34L400.50,169.57A55.96,55.96 0 0 0 400.99,169.77ZM396.05,179.14A66.50,66.50 0 0 1 395.47,178.90L399.58,169.24A56.01,56.01 0 0 0 400.07,169.45ZM394.98,178.68A66.50,66.50 0 0 1 394.41,178.43L398.17,170.00A57.26,57.26 0 0 0 398.67,170.21ZM393.92,178.21A66.50,66.50 0 0 1 393.35,177.95L397.79,168.45A56.01,56.01 0 0 0 398.27,168.67ZM393.40,177.97A66.50,66.50 0 0 1 392.83,177.70L397.00,168.98A56.83,56.83 0 0 0 397.48,169.20ZM392.87,177.72A66.50,66.50 0 0 1 392.31,177.45L396.96,167.92A55.89,55.89 0 0 0 397.44,168.15ZM391.83,177.21A66.50,66.50 0 0 1 391.27,176.93L395.39,168.85A57.43,57.43 0 0 0 395.87,169.10ZM391.31,176.95A66.50,66.50 0 0 1 390.75,176.66L394.99,168.54A57.34,57.34 0 0 0 395.47,168.79ZM390.79,176.69A66.50,66.50 0 0 1 390.24,176.39L394.83,167.77A56.73,56.73 0 0 0 395.31,168.02ZM390.28,176.42A66.50,66.50 0 0 1 389.73,176.12L394.03,168.21A57.50,57.50 0 0 0 394.51,168.47ZM388.25,175.29A66.50,66.50 0 0 1 387.71,174.97L392.26,167.25A57.54,57.54 0 0 0 392.73,167.53ZM387.25,174.70A66.50,66.50 0 0 1 386.71,174.38L392.18,165.47A56.05,56.05 0 0 0 392.63,165.75ZM386.26,174.10A66.50,66.50 0 0 1 385.73,173.76L390.86,165.72A56.96,56.96 0 0 0 391.32,166.01ZM385.77,173.79A66.50,66.50 0 0 1 385.24,173.45L390.61,165.19A56.65,56.65 0 0 0 391.06,165.48ZM385.28,173.47A66.50,66.50 0 0 1 384.76,173.13L390.05,165.15A56.93,56.93 0 0 0 390.50,165.44ZM384.80,173.15A66.50,66.50 0 0 1 384.28,172.81L389.49,165.08A57.18,57.18 0 0 0 389.94,165.38ZM381.02,170.46A66.50,66.50 0 0 1 380.52,170.07L385.55,163.65A58.34,58.34 0 0 0 385.98,163.98ZM379.65,169.38A66.50,66.50 0 0 1 379.16,168.98L384.96,161.97A57.40,57.40 0 0 0 385.38,162.31ZM379.20,169.01A66.50,66.50 0 0 1 378.72,168.61L385.03,161.10A56.69,56.69 0 0 0 385.44,161.44ZM378.75,168.64A66.50,66.50 0 0 1 378.28,168.24L384.11,161.42A57.52,57.52 0 0 0 384.52,161.77ZM377.87,167.89A66.50,66.50 0 0 1 377.40,167.47L384.01,160.02A56.53,56.53 0 0 0 384.41,160.37ZM377.44,167.51A66.50,66.50 0 0 1 376.97,167.09L383.69,159.64A56.47,56.47 0 0 0 384.08,159.99ZM377.00,167.12A66.50,66.50 0 0 1 376.54,166.70L383.01,159.64A56.92,56.92 0 0 0 383.41,160.00ZM376.15,166.34A66.50,66.50 0 0 1 375.69,165.91L381.49,159.81A58.09,58.09 0 0 0 381.88,160.18ZM375.72,165.94A66.50,66.50 0 0 1 375.27,165.50L381.82,158.73A57.08,57.08 0 0 0 382.21,159.10ZM375.31,165.54A66.50,66.50 0 0 1 374.86,165.10L381.88,157.96A56.49,56.49 0 0 0 382.26,158.33ZM374.48,164.72A66.50,66.50 0 0 1 374.04,164.28L381.02,157.42A56.71,56.71 0 0 0 381.40,157.80ZM373.66,163.89A66.50,66.50 0 0 1 373.23,163.44L380.92,156.16A55.91,55.91 0 0 0 381.28,156.54ZM373.26,163.48A66.50,66.50 0 0 1 372.83,163.02L380.25,156.12A56.37,56.37 0 0 0 380.61,156.50ZM372.86,163.05A66.50,66.50 0 0 1 372.44,162.59L380.15,155.54A56.05,56.05 0 0 0 380.51,155.92ZM371.31,161.33A66.50,66.50 0 0 1 370.90,160.85L378.93,154.00A55.94,55.94 0 0 0 379.28,154.40ZM369.82,159.55A66.50,66.50 0 0 1 369.43,159.06L377.00,153.05A56.84,56.84 0 0 0 377.33,153.47ZM369.46,159.10A66.50,66.50 0 0 1 369.07,158.60L377.67,151.90A55.60,55.60 0 0 0 377.99,152.31ZM368.74,158.18A66.50,66.50 0 0 1 368.36,157.68L377.13,151.09A55.53,55.53 0 0 0 377.45,151.50ZM368.04,157.26A66.50,66.50 0 0 1 367.67,156.75L375.97,150.73A56.25,56.25 0 0 0 376.29,151.16ZM367.36,156.32A66.50,66.50 0 0 1 367.00,155.80L374.95,150.25A56.80,56.80 0 0 0 375.26,150.69ZM366.37,154.89A66.50,66.50 0 0 1 366.02,154.37L373.66,149.32A57.35,57.35 0 0 0 373.96,149.77ZM365.73,153.92A66.50,66.50 0 0 1 365.39,153.39L372.37,148.95A58.22,58.22 0 0 0 372.67,149.41ZM365.10,152.94A66.50,66.50 0 0 1 364.78,152.41L372.60,147.62A57.33,57.33 0 0 0 372.88,148.08ZM364.50,151.95A66.50,66.50 0 0 1 364.18,151.41L372.64,146.43A56.68,56.68 0 0 0 372.92,146.89ZM363.62,150.45A66.50,66.50 0 0 1 363.32,149.90L371.71,145.25A56.90,56.90 0 0 0 371.98,145.72ZM363.06,149.43A66.50,66.50 0 0 1 362.76,148.88L371.62,144.18A56.47,56.47 0 0 0 371.87,144.65ZM362.78,148.92A66.50,66.50 0 0 1 362.49,148.37L371.16,143.86A56.73,56.73 0 0 0 371.41,144.33ZM362.25,147.89A66.50,66.50 0 0 1 361.97,147.33L370.69,142.99A56.76,56.76 0 0 0 370.93,143.47ZM361.99,147.37A66.50,66.50 0 0 1 361.71,146.81L369.93,142.81A57.35,57.35 0 0 0 370.17,143.29ZM361.23,145.80A66.50,66.50 0 0 1 360.97,145.23L369.60,141.31A57.01,57.01 0 0 0 369.83,141.80ZM360.99,145.28A66.50,66.50 0 0 1 360.73,144.71L368.87,141.09A57.60,57.60 0 0 0 369.09,141.58ZM360.75,144.75A66.50,66.50 0 0 1 360.50,144.17L368.41,140.74A57.87,57.87 0 0 0 368.63,141.24ZM360.52,144.22A66.50,66.50 0 0 1 360.27,143.64L368.74,140.05A57.30,57.30 0 0 0 368.95,140.55ZM360.06,143.15A66.50,66.50 0 0 1 359.82,142.57L368.21,139.19A57.46,57.46 0 0 0 368.42,139.69ZM359.63,142.07A66.50,66.50 0 0 1 359.40,141.49L367.86,138.25A57.44,57.44 0 0 0 368.06,138.75ZM359.42,141.53A66.50,66.50 0 0 1 359.20,140.95L367.76,137.75A57.36,57.36 0 0 0 367.95,138.25ZM359.01,140.44A66.50,66.50 0 0 1 358.80,139.85L366.81,137.02A58.00,58.00 0 0 0 367.00,137.54ZM358.44,138.80A66.50,66.50 0 0 1 358.24,138.21L366.82,135.42A57.48,57.48 0 0 0 366.99,135.94ZM357.91,137.14A66.50,66.50 0 0 1 357.73,136.54L367.00,133.80A56.82,56.82 0 0 0 367.16,134.31ZM357.58,136.03A66.50,66.50 0 0 1 357.41,135.43L367.26,132.70A56.28,56.28 0 0 0 367.40,133.21ZM357.42,135.47A66.50,66.50 0 0 1 357.25,134.87L365.95,132.54A57.49,57.49 0 0 0 366.10,133.06ZM356.84,133.22A66.50,66.50 0 0 1 356.69,132.61L366.15,130.44A56.80,56.80 0 0 0 366.27,130.96ZM356.70,132.66A66.50,66.50 0 0 1 356.57,132.05L365.89,129.99A56.95,56.95 0 0 0 366.01,130.51ZM356.45,131.53A66.50,66.50 0 0 1 356.33,130.91L365.58,129.04A57.05,57.05 0 0 0 365.69,129.56ZM356.22,130.39A66.50,66.50 0 0 1 356.11,129.77L365.19,128.10A57.26,57.26 0 0 0 365.29,128.63ZM355.91,128.68A66.50,66.50 0 0 1 355.81,128.06L363.67,126.82A58.54,58.54 0 0 0 363.76,127.36ZM355.82,128.10A66.50,66.50 0 0 1 355.72,127.48L364.60,126.16A57.53,57.53 0 0 0 364.68,126.70ZM355.57,126.38A66.50,66.50 0 0 1 355.49,125.76L363.81,124.74A58.12,58.12 0 0 0 363.88,125.29ZM355.36,124.65A66.50,66.50 0 0 1 355.30,124.03L361.80,123.41A59.97,59.97 0 0 0 361.85,123.97ZM355.31,124.07A66.50,66.50 0 0 1 355.25,123.45L361.98,122.87A59.74,59.74 0 0 0 362.03,123.43ZM355.16,122.34A66.50,66.50 0 0 1 355.12,121.71L363.02,121.24A58.58,58.58 0 0 0 363.06,121.79ZM355.09,121.18A66.50,66.50 0 0 1 355.06,120.55L361.68,120.27A59.88,59.88 0 0 0 361.70,120.83ZM355.01,118.86A66.50,66.50 0 0 1 355.00,118.23L361.92,118.18A59.58,59.58 0 0 0 361.93,118.74ZM355.00,118.28A66.50,66.50 0 0 1 355.00,117.65L362.23,117.66A59.27,59.27 0 0 0 362.24,118.22ZM355.00,117.12A66.50,66.50 0 0 1 355.01,116.49L362.57,116.63A58.94,58.94 0 0 0 362.57,117.19ZM355.01,116.54A66.50,66.50 0 0 1 355.02,115.91L362.55,116.12A58.98,58.98 0 0 0 362.53,116.67ZM355.04,115.38A66.50,66.50 0 0 1 355.07,114.75L362.15,115.07A59.41,59.41 0 0 0 362.13,115.63ZM355.09,114.22A66.50,66.50 0 0 1 355.13,113.59L361.93,114.01A59.68,59.68 0 0 0 361.90,114.58ZM355.16,113.06A66.50,66.50 0 0 1 355.21,112.44L362.94,113.05A58.74,58.74 0 0 0 362.90,113.60ZM355.20,112.48A66.50,66.50 0 0 1 355.26,111.86L363.15,112.55A58.57,58.57 0 0 0 363.11,113.10ZM355.25,111.90A66.50,66.50 0 0 1 355.31,111.28L362.62,111.99A59.15,59.15 0 0 0 362.57,112.54ZM355.31,111.33A66.50,66.50 0 0 1 355.37,110.70L363.22,111.53A58.61,58.61 0 0 0 363.16,112.08ZM355.43,110.17A66.50,66.50 0 0 1 355.50,109.55L362.16,110.37A59.79,59.79 0 0 0 362.10,110.93ZM355.73,107.87A66.50,66.50 0 0 1 355.83,107.25L363.79,108.52A58.44,58.44 0 0 0 363.70,109.06ZM355.82,107.30A66.50,66.50 0 0 1 355.92,106.68L363.37,107.93A58.95,58.95 0 0 0 363.28,108.48ZM356.01,106.15A66.50,66.50 0 0 1 356.12,105.54L363.07,106.83A59.44,59.44 0 0 0 362.97,107.38ZM356.11,105.58A66.50,66.50 0 0 1 356.23,104.97L362.98,106.28A59.62,59.62 0 0 0 362.88,106.84ZM356.58,103.31A66.50,66.50 0 0 1 356.71,102.70L363.75,104.32A59.28,59.28 0 0 0 363.62,104.87ZM356.84,102.18A66.50,66.50 0 0 1 356.99,101.57L363.70,103.25A59.58,59.58 0 0 0 363.56,103.79ZM357.12,101.05A66.50,66.50 0 0 1 357.28,100.44L363.28,102.06A60.29,60.29 0 0 0 363.13,102.61ZM357.27,100.49A66.50,66.50 0 0 1 357.43,99.88L363.96,101.70A59.72,59.72 0 0 0 363.81,102.24ZM357.91,98.26A66.50,66.50 0 0 1 358.09,97.66L363.33,99.31A61.01,61.01 0 0 0 363.15,99.86ZM358.08,97.70A66.50,66.50 0 0 1 358.27,97.11L365.04,99.31A59.38,59.38 0 0 0 364.87,99.84ZM358.44,96.60A66.50,66.50 0 0 1 358.64,96.01L364.48,98.02A60.32,60.32 0 0 0 364.30,98.56ZM358.81,95.50A66.50,66.50 0 0 1 359.03,94.91L364.93,97.06A60.22,60.22 0 0 0 364.74,97.60ZM359.21,94.41A66.50,66.50 0 0 1 359.43,93.83L366.31,96.47A59.14,59.14 0 0 0 366.11,96.99ZM359.63,93.33A66.50,66.50 0 0 1 359.86,92.75L367.09,95.67A58.70,58.70 0 0 0 366.88,96.18ZM359.84,92.79A66.50,66.50 0 0 1 360.08,92.21L367.45,95.27A58.52,58.52 0 0 0 367.24,95.78ZM360.29,91.72A66.50,66.50 0 0 1 360.53,91.14L368.07,94.42A58.28,58.28 0 0 0 367.85,94.93ZM361.48,89.07A66.50,66.50 0 0 1 361.75,88.51L367.35,91.24A60.27,60.27 0 0 0 367.10,91.75ZM362.51,86.99A66.50,66.50 0 0 1 362.81,86.44L368.78,89.62A59.73,59.73 0 0 0 368.52,90.12ZM362.78,86.48A66.50,66.50 0 0 1 363.08,85.93L368.09,88.65A60.80,60.80 0 0 0 367.82,89.16ZM363.06,85.97A66.50,66.50 0 0 1 363.36,85.42L368.85,88.47A60.22,60.22 0 0 0 368.58,88.97ZM363.62,84.95A66.50,66.50 0 0 1 363.93,84.41L369.24,87.48A60.37,60.37 0 0 0 368.96,87.97ZM363.91,84.45A66.50,66.50 0 0 1 364.23,83.91L369.17,86.82A60.76,60.76 0 0 0 368.88,87.32ZM365.10,82.46A66.50,66.50 0 0 1 365.44,81.93L371.08,85.53A59.81,59.81 0 0 0 370.78,86.01ZM366.37,80.51A66.50,66.50 0 0 1 366.72,80.00L372.04,83.66A60.04,60.04 0 0 0 371.73,84.13ZM367.36,79.08A66.50,66.50 0 0 1 367.73,78.57L372.36,81.94A60.78,60.78 0 0 0 372.02,82.41ZM368.04,78.14A66.50,66.50 0 0 1 368.42,77.64L373.38,81.38A60.29,60.29 0 0 0 373.04,81.84ZM368.74,77.22A66.50,66.50 0 0 1 369.13,76.72L373.86,80.42A60.49,60.49 0 0 0 373.51,80.87ZM370.19,75.40A66.50,66.50 0 0 1 370.59,74.92L375.08,78.69A60.64,60.64 0 0 0 374.71,79.13ZM370.56,74.95A66.50,66.50 0 0 1 370.96,74.48L375.10,78.02A61.05,61.05 0 0 0 374.73,78.46ZM371.69,73.64A66.50,66.50 0 0 1 372.11,73.17L377.20,77.75A59.65,59.65 0 0 0 376.82,78.17ZM372.08,73.20A66.50,66.50 0 0 1 372.50,72.74L377.10,76.96A60.26,60.26 0 0 0 376.72,77.38ZM372.47,72.77A66.50,66.50 0 0 1 372.90,72.31L378.12,77.19A59.35,59.35 0 0 0 377.74,77.60ZM372.86,72.35A66.50,66.50 0 0 1 373.29,71.89L378.48,76.82A59.34,59.34 0 0 0 378.10,77.23ZM374.48,70.68A66.50,66.50 0 0 1 374.92,70.24L379.36,74.76A60.17,60.17 0 0 0 378.96,75.16ZM374.89,70.27A66.50,66.50 0 0 1 375.34,69.83L379.66,74.32A60.27,60.27 0 0 0 379.26,74.71ZM376.15,69.06A66.50,66.50 0 0 1 376.61,68.64L380.96,73.40A60.05,60.05 0 0 0 380.55,73.78ZM377.00,68.28A66.50,66.50 0 0 1 377.47,67.86L382.33,73.36A59.17,59.17 0 0 0 381.91,73.73ZM377.44,67.89A66.50,66.50 0 0 1 377.91,67.48L382.22,72.46A59.91,59.91 0 0 0 381.80,72.83ZM377.87,67.51A66.50,66.50 0 0 1 378.35,67.10L382.95,72.49A59.41,59.41 0 0 0 382.52,72.86ZM379.20,66.39A66.50,66.50 0 0 1 379.69,65.99L384.06,71.40A59.54,59.54 0 0 0 383.62,71.75ZM379.65,66.02A66.50,66.50 0 0 1 380.14,65.63L384.93,71.65A58.80,58.80 0 0 0 384.49,72.00ZM380.10,65.66A66.50,66.50 0 0 1 380.60,65.27L385.17,71.13A59.06,59.06 0 0 0 384.73,71.48ZM380.56,65.30A66.50,66.50 0 0 1 381.05,64.91L385.50,70.72A59.19,59.19 0 0 0 385.06,71.06ZM381.02,64.94A66.50,66.50 0 0 1 381.52,64.56L385.87,70.34A59.26,59.26 0 0 0 385.42,70.68ZM382.41,63.90A66.50,66.50 0 0 1 382.92,63.53L386.99,69.25A59.48,59.48 0 0 0 386.54,69.58ZM383.36,63.23A66.50,66.50 0 0 1 383.87,62.87L387.98,68.86A59.23,59.23 0 0 0 387.53,69.18ZM385.28,61.93A66.50,66.50 0 0 1 385.81,61.59L389.56,67.49A59.50,59.50 0 0 0 389.09,67.80ZM387.75,60.40A66.50,66.50 0 0 1 388.29,60.09L392.16,66.79A58.76,58.76 0 0 0 391.68,67.07ZM388.25,60.11A66.50,66.50 0 0 1 388.79,59.80L392.29,65.99A59.38,59.38 0 0 0 391.81,66.27ZM388.75,59.82A66.50,66.50 0 0 1 389.30,59.52L392.47,65.24A59.96,59.96 0 0 0 391.97,65.51ZM389.77,59.26A66.50,66.50 0 0 1 390.32,58.96L393.41,64.78A59.92,59.92 0 0 0 392.91,65.04ZM390.79,58.71A66.50,66.50 0 0 1 391.35,58.43L394.63,64.87A59.27,59.27 0 0 0 394.13,65.13ZM391.83,58.19A66.50,66.50 0 0 1 392.39,57.91L395.71,64.73A58.92,58.92 0 0 0 395.21,64.97ZM392.35,57.93A66.50,66.50 0 0 1 392.91,57.66L396.11,64.37A59.07,59.07 0 0 0 395.61,64.61ZM392.87,57.68A66.50,66.50 0 0 1 393.44,57.41L396.67,64.35A58.85,58.85 0 0 0 396.16,64.58ZM393.40,57.43A66.50,66.50 0 0 1 393.97,57.17L397.29,64.49A58.46,58.46 0 0 0 396.79,64.72ZM394.45,56.95A66.50,66.50 0 0 1 395.03,56.70L398.00,63.55A59.03,59.03 0 0 0 397.49,63.78ZM395.52,56.49A66.50,66.50 0 0 1 396.09,56.24L398.71,62.58A59.64,59.64 0 0 0 398.19,62.80ZM396.59,56.04A66.50,66.50 0 0 1 397.17,55.81L399.72,62.29A59.54,59.54 0 0 0 399.20,62.49ZM398.21,55.41A66.50,66.50 0 0 1 398.80,55.19L401.18,61.76A59.52,59.52 0 0 0 400.66,61.95ZM398.76,55.21A66.50,66.50 0 0 1 399.35,55.00L402.11,62.82A58.21,58.21 0 0 0 401.59,63.00ZM399.85,54.82A66.50,66.50 0 0 1 400.44,54.62L402.71,61.41A59.35,59.35 0 0 0 402.18,61.59ZM400.95,54.45A66.50,66.50 0 0 1 401.55,54.26L403.52,60.53A59.93,59.93 0 0 0 402.98,60.70ZM401.50,54.28A66.50,66.50 0 0 1 402.10,54.09L404.29,61.26A59.01,59.01 0 0 0 403.76,61.42ZM402.61,53.94A66.50,66.50 0 0 1 403.21,53.76L405.27,60.94A59.03,59.03 0 0 0 404.73,61.10ZM403.17,53.78A66.50,66.50 0 0 1 403.77,53.61L405.70,60.57A59.28,59.28 0 0 0 405.16,60.72ZM403.73,53.62A66.50,66.50 0 0 1 404.33,53.45L406.16,60.31A59.41,59.41 0 0 0 405.62,60.45ZM404.29,53.47A66.50,66.50 0 0 1 404.89,53.31L406.61,59.96A59.63,59.63 0 0 0 406.07,60.10ZM405.41,53.18A66.50,66.50 0 0 1 406.02,53.03L407.65,59.84A59.50,59.50 0 0 0 407.11,59.97ZM405.98,53.04A66.50,66.50 0 0 1 406.59,52.89L408.27,60.23A58.98,58.98 0 0 0 407.73,60.35ZM407.11,52.78A66.50,66.50 0 0 1 407.72,52.64L409.06,58.97A60.04,60.04 0 0 0 408.51,59.09ZM407.67,52.65A66.50,66.50 0 0 1 408.29,52.53L409.77,59.85A59.02,59.02 0 0 0 409.23,59.97ZM408.24,52.54A66.50,66.50 0 0 1 408.86,52.41L410.19,59.28A59.50,59.50 0 0 0 409.64,59.39ZM408.81,52.42A66.50,66.50 0 0 1 409.43,52.31L410.54,58.36A60.34,60.34 0 0 0 409.99,58.47ZM409.38,52.31A66.50,66.50 0 0 1 410.00,52.20L411.24,59.28A59.31,59.31 0 0 0 410.69,59.38ZM410.52,52.11A66.50,66.50 0 0 1 411.14,52.01L412.19,58.68A59.75,59.75 0 0 0 411.64,58.77ZM411.67,51.93A66.50,66.50 0 0 1 412.29,51.84L413.20,58.32A59.96,59.96 0 0 0 412.64,58.40ZM412.82,51.77A66.50,66.50 0 0 1 413.44,51.69L414.31,58.80A59.34,59.34 0 0 0 413.75,58.87ZM413.97,51.63A66.50,66.50 0 0 1 414.60,51.56L415.45,59.72A58.30,58.30 0 0 0 414.90,59.78ZM415.13,51.51A66.50,66.50 0 0 1 415.75,51.45L416.38,58.69A59.23,59.23 0 0 0 415.82,58.74ZM417.44,51.32A66.50,66.50 0 0 1 418.07,51.29L418.47,59.15A58.63,58.63 0 0 0 417.92,59.18ZM418.02,51.29A66.50,66.50 0 0 1 418.65,51.26L418.96,58.52A59.23,59.23 0 0 0 418.40,58.55ZM419.76,51.22A66.50,66.50 0 0 1 420.39,51.21L420.52,59.44A58.27,58.27 0 0 0 419.97,59.45ZM420.34,51.21A66.50,66.50 0 0 1 420.97,51.20L421.03,59.22A58.49,58.49 0 0 0 420.48,59.22ZM420.92,51.20A66.50,66.50 0 0 1 421.55,51.20L421.54,58.66A59.04,59.04 0 0 0 420.98,58.66Z" fill="#c2c2c2"/>
<circle cx="421.5" cy="117.7" r="52.90" fill="none" stroke="#d4d4d4" stroke-width="0.6"/>
<circle cx="421.5" cy="117.7" r="66.50" fill="none" stroke="#1a1a1a" stroke-width="1.1"/>
<path d="M487.46,126.15A66.50,66.50 0 0 1 444.57,180.07" fill="none" stroke="#111" stroke-width="1.5"/>
<path d="M397.67,179.78A66.50,66.50 0 0 1 355.54,126.15" fill="none" stroke="#111" stroke-width="1.5"/>
<path d="M418.95,51.25A66.50,66.50 0 0 1 424.05,51.25" fill="none" stroke="#f2f2f2" stroke-width="1.6"/>
<text transform="translate(421.50,51.00) rotate(0.0)" text-anchor="middle" dy="0.7" font-family="Liberation Sans" font-size="2.4" fill="#8a8a8a">LSC</text>
<path d="M475.09,157.07A66.50,66.50 0 0 1 471.92,161.06" fill="none" stroke="#f2f2f2" stroke-width="1.6"/>
<text transform="translate(473.70,159.22) rotate(-51.5)" text-anchor="middle" dy="0.7" font-family="Liberation Sans" font-size="2.4" fill="#8a8a8a">IRB</text>
<path d="M423.59,184.17A66.50,66.50 0 0 1 418.48,184.13" fill="none" stroke="#f2f2f2" stroke-width="1.6"/>
<text transform="translate(421.03,184.40) rotate(0.4)" text-anchor="middle" dy="0.7" font-family="Liberation Sans" font-size="2.4" fill="#8a8a8a">SSC</text>
<path d="M371.08,161.06A66.50,66.50 0 0 1 367.91,157.07" fill="none" stroke="#f2f2f2" stroke-width="1.6"/>
<text transform="translate(369.30,159.22) rotate(51.5)" text-anchor="middle" dy="0.7" font-family="Liberation Sans" font-size="2.4" fill="#8a8a8a">IRA</text>
<line x1="484.29" y1="125.74" x2="490.64" y2="126.56" stroke="#111" stroke-width="0.8"/>
<line x1="443.46" y1="177.07" x2="445.68" y2="183.07" stroke="#111" stroke-width="0.8"/>
<line x1="398.82" y1="176.80" x2="396.52" y2="182.77" stroke="#111" stroke-width="0.8"/>
<line x1="358.71" y1="125.74" x2="352.36" y2="126.56" stroke="#111" stroke-width="0.8"/>
<path d="M331.46,68.30A102.70,102.70 0 0 1 332.25,66.89L337.11,69.66A97.10,97.10 0 0 0 336.37,71.00ZM326.31,62.18A110.20,110.20 0 0 1 326.99,61.03L332.22,64.16A104.10,104.10 0 0 0 331.57,65.26ZM530.73,132.27A110.20,110.20 0 0 1 529.33,140.42L523.36,139.17A104.10,104.10 0 0 0 524.69,131.47ZM321.01,138.88A102.70,102.70 0 0 1 319.70,131.28L325.25,130.54A97.10,97.10 0 0 0 326.49,137.72ZM396.52,225.03A110.20,110.20 0 0 1 395.40,224.76L396.85,218.84A104.10,104.10 0 0 0 397.91,219.09ZM319.70,131.28A102.70,102.70 0 0 1 319.34,128.26L324.91,127.68A97.10,97.10 0 0 0 325.25,130.54ZM319.03,124.51A102.70,102.70 0 0 1 318.81,119.04L324.41,118.97A97.10,97.10 0 0 0 324.61,124.14ZM318.80,118.24A102.70,102.70 0 0 1 318.81,116.45L324.41,116.51A97.10,97.10 0 0 0 324.40,118.21Z" fill="#a87838" stroke="#000" stroke-opacity="0.3" stroke-width="0.3"/>
<path d="M327.29,60.53A110.20,110.20 0 0 1 327.99,59.38L333.17,62.61A104.10,104.10 0 0 0 332.50,63.70ZM407.38,15.97A102.70,102.70 0 0 1 410.76,15.56L411.35,21.13A97.10,97.10 0 0 0 408.15,21.52ZM442.85,17.24A102.70,102.70 0 0 1 444.08,17.51L442.85,22.98A97.10,97.10 0 0 0 441.69,22.72ZM511.75,68.70A102.70,102.70 0 0 1 513.09,71.23L508.09,73.77A97.10,97.10 0 0 0 506.83,71.37ZM523.50,105.72A102.70,102.70 0 0 1 523.94,110.36L518.35,110.76A97.10,97.10 0 0 0 517.94,106.37ZM506.90,187.35A110.20,110.20 0 0 1 505.55,188.98L500.89,185.03A104.10,104.10 0 0 0 502.17,183.49ZM343.17,184.13A102.70,102.70 0 0 1 341.91,182.61L346.25,179.07A97.10,97.10 0 0 0 347.44,180.50ZM505.36,189.20A110.20,110.20 0 0 1 504.03,190.72L499.47,186.68A104.10,104.10 0 0 0 500.72,185.24ZM344.58,185.75A102.70,102.70 0 0 1 343.35,184.33L347.61,180.70A97.10,97.10 0 0 0 348.78,182.04ZM439.33,218.84A102.70,102.70 0 0 1 438.27,219.02L437.36,213.50A97.10,97.10 0 0 0 438.36,213.32ZM319.34,128.26A102.70,102.70 0 0 1 319.18,126.47L324.75,125.99A97.10,97.10 0 0 0 324.91,127.68ZM318.81,116.09A102.70,102.70 0 0 1 318.89,113.40L324.49,113.63A97.10,97.10 0 0 0 324.41,116.17ZM319.03,110.89A102.70,102.70 0 0 1 319.18,108.93L324.75,109.41A97.10,97.10 0 0 0 324.61,111.26Z" fill="#dba575" stroke="#000" stroke-opacity="0.3" stroke-width="0.3"/>
<path d="M328.71,58.25A110.20,110.20 0 0 1 329.45,57.12L334.54,60.47A104.10,104.10 0 0 0 333.85,61.54ZM405.70,16.22A102.70,102.70 0 0 1 406.59,16.09L407.40,21.63A97.10,97.10 0 0 0 406.56,21.76ZM410.84,8.02A110.20,110.20 0 0 1 411.80,7.93L412.34,14.00A104.10,104.10 0 0 0 411.43,14.09ZM445.39,17.82A102.70,102.70 0 0 1 446.26,18.03L444.91,23.46A97.10,97.10 0 0 0 444.09,23.26ZM468.86,18.19A110.20,110.20 0 0 1 469.72,18.61L467.05,24.10A104.10,104.10 0 0 0 466.23,23.70ZM467.56,25.91A102.70,102.70 0 0 1 468.36,26.32L465.81,31.30A97.10,97.10 0 0 0 465.05,30.92ZM469.00,26.65A102.70,102.70 0 0 1 469.79,27.06L467.16,32.01A97.10,97.10 0 0 0 466.41,31.61ZM483.04,26.29A110.20,110.20 0 0 1 483.84,26.83L480.39,31.86A104.10,104.10 0 0 0 479.64,31.35ZM523.21,103.50A102.70,102.70 0 0 1 523.33,104.38L517.78,105.11A97.10,97.10 0 0 0 517.67,104.27ZM515.91,174.54A110.20,110.20 0 0 1 515.41,175.36L510.21,172.17A104.10,104.10 0 0 0 510.68,171.39ZM333.98,171.44A102.70,102.70 0 0 1 333.52,170.67L338.31,167.78A97.10,97.10 0 0 0 338.75,168.51ZM501.04,193.97A110.20,110.20 0 0 1 500.50,194.53L496.13,190.27A104.10,104.10 0 0 0 496.64,189.75ZM347.87,189.30A102.70,102.70 0 0 1 347.38,188.78L351.42,184.91A97.10,97.10 0 0 0 351.89,185.39Z" fill="#9aa2dc"/>
<path d="M336.46,60.12A102.70,102.70 0 0 1 337.48,58.65L342.06,61.87A97.10,97.10 0 0 0 341.10,63.26ZM381.02,15.20A110.20,110.20 0 0 1 381.92,14.85L384.11,20.55A104.10,104.10 0 0 0 383.26,20.88ZM397.93,10.05A110.20,110.20 0 0 1 398.87,9.85L400.12,15.82A104.10,104.10 0 0 0 399.23,16.01ZM447.88,10.70A110.20,110.20 0 0 1 448.81,10.94L447.30,16.85A104.10,104.10 0 0 0 446.42,16.63ZM529.71,96.86A110.20,110.20 0 0 1 529.89,97.81L523.89,98.91A104.10,104.10 0 0 0 523.72,98.02ZM524.09,112.95A102.70,102.70 0 0 1 524.11,113.49L518.52,113.72A97.10,97.10 0 0 0 518.50,113.21ZM523.48,129.86A102.70,102.70 0 0 1 523.39,130.57L517.83,129.87A97.10,97.10 0 0 0 517.92,129.20ZM529.33,140.42A110.20,110.20 0 0 1 529.09,141.55L523.13,140.23A104.10,104.10 0 0 0 523.36,139.17ZM321.23,139.93A102.70,102.70 0 0 1 321.01,138.88L326.49,137.72A97.10,97.10 0 0 0 326.70,138.72ZM466.36,210.08A102.70,102.70 0 0 1 465.39,210.55L463.00,205.49A97.10,97.10 0 0 0 463.91,205.05ZM374.41,217.33A110.20,110.20 0 0 1 373.36,216.83L376.03,211.34A104.10,104.10 0 0 0 377.01,211.81Z" fill="#b8bef0"/>
<path d="M331.45,54.18A110.20,110.20 0 0 1 332.57,52.62L337.50,56.22A104.10,104.10 0 0 0 336.44,57.69Z" fill="#c8dc96"/>
<path d="M342.60,51.96A102.70,102.70 0 0 1 344.35,49.92L348.55,53.61A97.10,97.10 0 0 0 346.90,55.55ZM351.63,32.48A110.20,110.20 0 0 1 352.37,31.88L356.20,36.63A104.10,104.10 0 0 0 355.49,37.20ZM364.08,23.64A110.20,110.20 0 0 1 369.26,20.67L372.15,26.04A104.10,104.10 0 0 0 367.26,28.85ZM454.27,12.49A110.20,110.20 0 0 1 464.20,16.11L461.84,21.73A104.10,104.10 0 0 0 452.46,18.31ZM523.94,125.04A102.70,102.70 0 0 1 523.52,129.50L517.96,128.86A97.10,97.10 0 0 0 518.35,124.64ZM315.78,86.59A110.20,110.20 0 0 1 316.00,85.85L321.84,87.61A104.10,104.10 0 0 0 321.64,88.31ZM316.17,85.30A110.20,110.20 0 0 1 318.01,79.83L323.74,81.93A104.10,104.10 0 0 0 322.00,87.09Z" fill="#2f9a2f" stroke="#000" stroke-opacity="0.3" stroke-width="0.3"/>
<path d="M341.56,41.84A110.20,110.20 0 0 1 344.67,38.70L348.93,43.07A104.10,104.10 0 0 0 345.99,46.04ZM312.37,102.36A110.20,110.20 0 0 1 313.25,97.05L319.24,98.19A104.10,104.10 0 0 0 318.41,103.21ZM313.55,95.54A110.20,110.20 0 0 1 315.05,89.18L320.95,90.76A104.10,104.10 0 0 0 319.53,96.77Z" fill="#7f9f12" stroke="#000" stroke-opacity="0.3" stroke-width="0.3"/>
<path d="M345.92,37.50A110.20,110.20 0 0 1 348.48,35.17L352.52,39.73A104.10,104.10 0 0 0 350.11,41.94ZM355.95,29.11A110.20,110.20 0 0 1 361.16,25.49L364.50,30.59A104.10,104.10 0 0 0 359.58,34.02ZM404.26,226.54A110.20,110.20 0 0 1 399.34,225.65L400.57,219.67A104.10,104.10 0 0 0 405.22,220.52Z" fill="#a418a4" stroke="#000" stroke-opacity="0.3" stroke-width="0.3"/>
<path d="M349.78,34.03A110.20,110.20 0 0 1 350.81,33.16L354.73,37.84A104.10,104.10 0 0 0 353.75,38.66ZM413.62,15.30A102.70,102.70 0 0 1 421.50,15.00L421.50,20.60A97.10,97.10 0 0 0 414.05,20.89ZM421.50,15.00A102.70,102.70 0 0 1 421.68,15.00L421.67,20.60A97.10,97.10 0 0 0 421.50,20.60ZM521.73,140.10A102.70,102.70 0 0 1 511.41,167.33L506.51,164.63A97.10,97.10 0 0 0 516.26,138.88ZM325.02,170.96A110.20,110.20 0 0 1 313.95,141.74L319.91,140.41A104.10,104.10 0 0 0 330.36,168.01ZM462.78,211.74A102.70,102.70 0 0 1 439.86,218.74L438.86,213.24A97.10,97.10 0 0 0 460.53,206.61ZM382.19,220.65A110.20,110.20 0 0 1 377.91,218.91L380.32,213.31A104.10,104.10 0 0 0 384.36,214.95Z" fill="#fdf8d2" stroke="#a09870" stroke-width="0.3"/>
<path d="M376.64,25.32A102.70,102.70 0 0 1 382.03,22.89L384.18,28.06A97.10,97.10 0 0 0 379.09,30.35ZM473.24,28.98A102.70,102.70 0 0 1 474.01,29.44L471.15,34.25A97.10,97.10 0 0 0 470.42,33.82ZM480.14,24.40A110.20,110.20 0 0 1 480.95,24.91L477.66,30.05A104.10,104.10 0 0 0 476.90,29.56ZM513.33,71.72A102.70,102.70 0 0 1 515.17,75.60L510.07,77.90A97.10,97.10 0 0 0 508.32,74.22ZM515.61,76.58A102.70,102.70 0 0 1 516.18,77.90L511.01,80.07A97.10,97.10 0 0 0 510.48,78.83ZM516.52,78.73A102.70,102.70 0 0 1 520.75,91.29L515.34,92.73A97.10,97.10 0 0 0 511.34,80.85Z" fill="#9ec41c" stroke="#000" stroke-opacity="0.3" stroke-width="0.3"/>
<path d="M380.18,23.68A102.70,102.70 0 0 1 380.59,23.50L382.82,28.64A97.10,97.10 0 0 0 382.43,28.81ZM518.47,83.88A102.70,102.70 0 0 1 518.62,84.31L513.32,86.13A97.10,97.10 0 0 0 513.19,85.73Z" fill="#7a9a10"/>
<path d="M382.19,14.75A110.20,110.20 0 0 1 384.71,13.82L386.75,19.57A104.10,104.10 0 0 0 384.36,20.45ZM399.53,9.71A110.20,110.20 0 0 1 401.99,9.24L403.07,15.25A104.10,104.10 0 0 0 400.75,15.69ZM528.47,91.23A110.20,110.20 0 0 1 529.17,94.22L523.21,95.52A104.10,104.10 0 0 0 522.55,92.69ZM524.11,113.49A102.70,102.70 0 0 1 524.19,116.45L518.59,116.51A97.10,97.10 0 0 0 518.52,113.72ZM524.07,122.90A102.70,102.70 0 0 1 524.02,123.79L518.43,123.46A97.10,97.10 0 0 0 518.48,122.61ZM485.71,197.85A102.70,102.70 0 0 1 480.70,201.62L477.47,197.04A97.10,97.10 0 0 0 482.21,193.48ZM357.98,207.75A110.20,110.20 0 0 1 352.60,203.70L356.41,198.94A104.10,104.10 0 0 0 361.49,202.76Z" fill="#0e1d84" stroke="#000" stroke-opacity="0.3" stroke-width="0.3"/>
<path d="M391.47,19.49A102.70,102.70 0 0 1 393.45,18.90L394.98,24.29A97.10,97.10 0 0 0 393.11,24.84ZM393.62,18.86A102.70,102.70 0 0 1 395.61,18.32L397.02,23.74A97.10,97.10 0 0 0 395.14,24.25ZM395.79,18.27A102.70,102.70 0 0 1 397.53,17.84L398.83,23.28A97.10,97.10 0 0 0 397.19,23.69ZM513.82,177.88A110.20,110.20 0 0 1 508.69,185.09L503.87,181.36A104.10,104.10 0 0 0 508.71,174.55ZM340.24,180.50A102.70,102.70 0 0 1 335.47,173.78L340.16,170.73A97.10,97.10 0 0 0 344.67,177.08ZM437.92,219.08A102.70,102.70 0 0 1 433.22,219.73L432.58,214.17A97.10,97.10 0 0 0 437.02,213.55ZM432.77,219.78A102.70,102.70 0 0 1 423.47,220.38L423.36,214.78A97.10,97.10 0 0 0 432.16,214.21ZM423.11,220.39A102.70,102.70 0 0 1 420.96,220.40L420.99,214.80A97.10,97.10 0 0 0 423.03,214.79ZM419.89,220.39A102.70,102.70 0 0 1 418.36,220.35L418.53,214.75A97.10,97.10 0 0 0 419.97,214.79ZM417.56,220.32A102.70,102.70 0 0 1 416.13,220.26L416.42,214.67A97.10,97.10 0 0 0 417.77,214.73ZM412.91,220.04A102.70,102.70 0 0 1 405.97,219.22L406.81,213.68A97.10,97.10 0 0 0 413.37,214.46ZM393.88,216.62A102.70,102.70 0 0 1 385.03,213.71L387.02,208.47A97.10,97.10 0 0 0 395.39,211.22Z" fill="#f5e60a" stroke="#000" stroke-opacity="0.3" stroke-width="0.3"/>
<path d="M424.73,15.05A102.70,102.70 0 0 1 442.85,17.24L441.69,22.72A97.10,97.10 0 0 0 424.55,20.65Z" fill="#146a28" stroke="#000" stroke-opacity="0.3" stroke-width="0.3"/>
<path d="M433.53,15.71A102.70,102.70 0 0 1 433.97,15.76L433.29,21.32A97.10,97.10 0 0 0 432.87,21.27Z" fill="#0f5a20"/>
<path d="M449.93,11.23A110.20,110.20 0 0 1 450.86,11.48L449.23,17.36A104.10,104.10 0 0 0 448.36,17.12ZM449.89,19.00A102.70,102.70 0 0 1 450.75,19.25L449.16,24.62A97.10,97.10 0 0 0 448.35,24.38Z" fill="#9a4c9a"/>
<path d="M459.51,14.26A110.20,110.20 0 0 1 459.96,14.43L457.83,20.14A104.10,104.10 0 0 0 457.40,19.99Z" fill="#1f7a24"/>
<path d="M482.59,35.14A102.70,102.70 0 0 1 501.87,53.77L497.49,57.25A97.10,97.10 0 0 0 479.26,39.65ZM502.15,54.12A102.70,102.70 0 0 1 511.75,68.70L506.83,71.37A97.10,97.10 0 0 0 497.75,57.59ZM319.22,108.39A102.70,102.70 0 0 1 319.57,105.18L325.12,105.87A97.10,97.10 0 0 0 324.80,108.90Z" fill="#c8141e" stroke="#000" stroke-opacity="0.3" stroke-width="0.3"/>
<path d="M492.78,43.76A102.70,102.70 0 0 1 493.16,44.14L489.26,48.15A97.10,97.10 0 0 0 488.89,47.79Z" fill="#8a0f16"/>
<path d="M530.06,98.75A110.20,110.20 0 0 1 530.46,101.22L524.43,102.13A104.10,104.10 0 0 0 524.05,99.80Z" fill="#ffffff" stroke="#2f9a2f" stroke-width="0.5"/>
<path d="M524.19,116.45A102.70,102.70 0 0 1 524.07,122.90L518.48,122.61A97.10,97.10 0 0 0 518.59,116.51ZM326.01,79.89A102.70,102.70 0 0 1 329.43,72.20L334.45,74.68A97.10,97.10 0 0 0 331.22,81.96Z" fill="#f26418" stroke="#000" stroke-opacity="0.3" stroke-width="0.3"/>
<path d="M492.06,192.32A102.70,102.70 0 0 1 485.99,197.63L482.48,193.27A97.10,97.10 0 0 0 488.22,188.25ZM352.30,203.46A110.20,110.20 0 0 1 345.78,197.77L349.97,193.34A104.10,104.10 0 0 0 356.13,198.72ZM480.55,201.72A102.70,102.70 0 0 1 469.56,208.46L466.94,203.51A97.10,97.10 0 0 0 477.33,197.14ZM369.93,215.09A110.20,110.20 0 0 1 358.13,207.86L361.64,202.87A104.10,104.10 0 0 0 372.79,209.70Z" fill="#e3000f" stroke="#000" stroke-opacity="0.3" stroke-width="0.3"/>
<path d="M469.56,208.46A102.70,102.70 0 0 1 466.84,209.85L464.37,204.82A97.10,97.10 0 0 0 466.94,203.51ZM372.85,216.58A110.20,110.20 0 0 1 369.93,215.09L372.79,209.70A104.10,104.10 0 0 0 375.54,211.10Z" fill="#f2a0b0"/>
<path d="M415.77,220.24A102.70,102.70 0 0 1 414.69,220.17L415.06,214.59A97.10,97.10 0 0 0 416.08,214.65Z" fill="#f8f0a0"/>
<path d="M414.51,220.16A102.70,102.70 0 0 1 413.26,220.07L413.71,214.49A97.10,97.10 0 0 0 414.90,214.58Z" fill="#2a7a6a"/>
<path d="M319.18,126.47A102.70,102.70 0 0 1 319.03,124.51L324.61,124.14A97.10,97.10 0 0 0 324.75,125.99Z" fill="#ecd0b0"/>
<path d="M315.37,87.67L314.21,87.34L306.72,86.30M316.19,84.90L315.04,84.54L308.20,81.32M326.56,61.55L325.53,60.94L318.05,58.88M327.55,59.90L326.53,59.28L319.36,56.64M328.99,57.63L327.99,56.97L322.12,52.24M330.06,56.02L329.06,55.35L323.57,50.09M332.61,52.40L331.64,51.69L326.61,45.88M375.23,217.83L374.73,218.92L372.58,226.18M370.74,215.63L370.19,216.69L365.59,222.75M326.95,139.36L328.12,139.09L337.32,137.60M326.69,138.20L327.86,137.94L336.83,135.39M324.79,125.14L325.98,125.05L335.21,123.78M324.50,117.36L325.70,117.37L335.01,118.66M324.54,114.99L325.74,115.03L335.01,116.39M324.62,112.79L325.82,112.85L335.07,114.13M324.77,110.43L325.97,110.52L335.38,109.61M325.05,107.39L326.24,107.52L335.62,107.36M336.34,71.27L337.39,71.84L345.23,76.89M336.83,70.38L337.87,70.96L346.33,74.91M346.98,55.61L347.90,56.38L354.28,63.26M348.52,53.81L349.42,54.60L357.22,59.82M398.20,23.54L398.49,24.71L401.26,33.60M465.39,31.20L464.84,32.27L459.69,40.09M467.93,32.54L467.36,33.59L463.70,42.19M466.14,203.82L465.59,202.75L462.64,193.79M463.72,205.03L463.20,203.95L458.60,195.84M462.19,205.75L461.68,204.67L456.54,196.78" fill="none" stroke="#b4b4b4" stroke-width="0.3"/><g class="lb" font-family="Liberation Sans" font-weight="bold" font-size="2.55" fill="#505050" stroke="#505050" stroke-width="0.08"><text transform="translate(317.48,157.01) rotate(339.3)" text-anchor="end" dy="0.8">ycf2</text><text transform="translate(311.79,99.54) rotate(369.4)" text-anchor="end" dy="0.8">petD</text><text transform="translate(313.28,92.12) rotate(373.3)" text-anchor="end" dy="0.8">petB</text><text transform="translate(306.33,86.19) rotate(375.3)" text-anchor="end" dy="0.8">psbN</text><text transform="translate(314.91,86.02) rotate(376.5)" text-anchor="end" dy="0.8">psbH</text><text transform="translate(307.82,81.20) rotate(377.8)" text-anchor="end" dy="0.8">psbT</text><text transform="translate(316.39,81.40) rotate(379.1)" text-anchor="end" dy="0.8">psbB</text><text transform="translate(317.70,58.68) rotate(389.6)" text-anchor="end" dy="0.8">rpl20</text><text transform="translate(319.02,56.43) rotate(390.9)" text-anchor="end" dy="0.8">rps12</text><text transform="translate(327.32,58.57) rotate(392.1)" text-anchor="end" dy="0.8">psaJ</text><text transform="translate(321.79,52.02) rotate(393.4)" text-anchor="end" dy="0.8">trnP</text><text transform="translate(323.24,49.86) rotate(394.6)" text-anchor="end" dy="0.8">psbE</text><text transform="translate(331.39,52.54) rotate(395.9)" text-anchor="end" dy="0.8">petG</text><text transform="translate(326.30,45.64) rotate(397.1)" text-anchor="end" dy="0.8">petL</text><text transform="translate(342.32,39.62) rotate(404.6)" text-anchor="end" dy="0.8">petA</text><text transform="translate(346.52,35.58) rotate(407.6)" text-anchor="end" dy="0.8">cemA</text><text transform="translate(349.58,32.89) rotate(409.7)" text-anchor="end" dy="0.8">ycf4</text><text transform="translate(351.44,31.34) rotate(411.0)" text-anchor="end" dy="0.8">psaI</text><text transform="translate(357.88,26.50) rotate(415.1)" text-anchor="end" dy="0.8">accD</text><text transform="translate(366.07,21.30) rotate(420.1)" text-anchor="end" dy="0.8">rbcL</text><text transform="translate(381.42,13.97) rotate(428.9)" text-anchor="end" dy="0.8">trnM</text><text transform="translate(383.70,13.12) rotate(430.1)" text-anchor="end" dy="0.8">trnV</text><text transform="translate(398.81,8.84) rotate(438.2)" text-anchor="end" dy="0.8">trnF</text><text transform="translate(401.19,8.37) rotate(439.5)" text-anchor="end" dy="0.8">trnL</text><text transform="translate(411.23,6.98) rotate(444.7)" text-anchor="end" dy="0.8">trnS</text><text transform="translate(448.45,9.81) rotate(-76.0)" text-anchor="start" dy="0.8">trnG</text><text transform="translate(450.80,10.43) rotate(-74.7)" text-anchor="start" dy="0.8">psbZ</text><text transform="translate(457.15,12.37) rotate(-71.3)" text-anchor="start" dy="0.8">psbC</text><text transform="translate(462.44,14.31) rotate(-68.4)" text-anchor="start" dy="0.8">psbD</text><text transform="translate(469.72,17.50) rotate(-64.3)" text-anchor="start" dy="0.8">trnT</text><text transform="translate(481.08,23.81) rotate(-57.6)" text-anchor="start" dy="0.8">petN</text><text transform="translate(484.00,25.73) rotate(-55.8)" text-anchor="start" dy="0.8">trnC</text><text transform="translate(529.55,91.41) rotate(-13.7)" text-anchor="start" dy="0.8">trnR</text><text transform="translate(530.10,93.77) rotate(-12.4)" text-anchor="start" dy="0.8">trnG</text><text transform="translate(530.76,97.02) rotate(-10.7)" text-anchor="start" dy="0.8">trnS</text><text transform="translate(531.19,99.41) rotate(-9.5)" text-anchor="start" dy="0.8">psbI</text><text transform="translate(531.56,101.81) rotate(-8.2)" text-anchor="start" dy="0.8">psbK</text><text transform="translate(531.11,136.44) rotate(9.7)" text-anchor="start" dy="0.8">rpl2</text><text transform="translate(530.30,140.68) rotate(11.9)" text-anchor="start" dy="0.8">rpl23</text><text transform="translate(529.77,143.05) rotate(13.2)" text-anchor="start" dy="0.8">trnI</text><text transform="translate(516.52,175.47) rotate(31.3)" text-anchor="start" dy="0.8">trnL</text><text transform="translate(512.14,182.12) rotate(35.4)" text-anchor="start" dy="0.8">ndhB</text><text transform="translate(507.06,188.73) rotate(39.7)" text-anchor="start" dy="0.8">rps7</text><text transform="translate(505.42,190.65) rotate(41.0)" text-anchor="start" dy="0.8">rps12</text><text transform="translate(501.49,194.95) rotate(44.0)" text-anchor="start" dy="0.8">trnV</text><text transform="translate(401.62,227.11) rotate(280.3)" text-anchor="end" dy="0.8">ccsA</text><text transform="translate(397.67,226.32) rotate(282.4)" text-anchor="end" dy="0.8">trnL</text><text transform="translate(395.30,225.77) rotate(283.6)" text-anchor="end" dy="0.8">rpl32</text><text transform="translate(372.41,226.54) rotate(294.3)" text-anchor="end" dy="0.8">trnN</text><text transform="translate(373.58,218.05) rotate(295.5)" text-anchor="end" dy="0.8">trnR</text><text transform="translate(371.41,216.98) rotate(296.8)" text-anchor="end" dy="0.8">rrn5</text><text transform="translate(365.40,223.10) rotate(298.0)" text-anchor="end" dy="0.8">rrn4.5</text><text transform="translate(363.40,212.51) rotate(301.5)" text-anchor="end" dy="0.8">rrn23</text><text transform="translate(355.98,207.55) rotate(306.1)" text-anchor="end" dy="0.8">trnA</text><text transform="translate(353.50,205.68) rotate(307.7)" text-anchor="end" dy="0.8">trnI</text><text transform="translate(348.25,201.37) rotate(311.2)" text-anchor="end" dy="0.8">rrn16</text><text transform="translate(337.71,137.51) rotate(346.7)" text-anchor="start" dy="0.8">trnI</text><text transform="translate(337.22,135.31) rotate(348.2)" text-anchor="start" dy="0.8">rpl23</text><text transform="translate(326.68,133.91) rotate(350.3)" text-anchor="start" dy="0.8">rpl2</text><text transform="translate(326.02,129.48) rotate(353.0)" text-anchor="start" dy="0.8">rpl22</text><text transform="translate(325.75,126.98) rotate(354.5)" text-anchor="start" dy="0.8">rps19</text><text transform="translate(335.61,123.76) rotate(356.0)" text-anchor="start" dy="0.8">rps3</text><text transform="translate(325.38,121.56) rotate(357.7)" text-anchor="start" dy="0.8">rpl16</text><text transform="translate(335.41,118.65) rotate(359.4)" text-anchor="start" dy="0.8">rpl14</text><text transform="translate(335.41,116.40) rotate(360.9)" text-anchor="start" dy="0.8">rps8</text><text transform="translate(335.47,114.14) rotate(362.4)" text-anchor="start" dy="0.8">infA</text><text transform="translate(325.52,111.21) rotate(363.9)" text-anchor="start" dy="0.8">rpl36</text><text transform="translate(335.78,109.65) rotate(365.4)" text-anchor="start" dy="0.8">rps11</text><text transform="translate(336.02,107.41) rotate(366.9)" text-anchor="start" dy="0.8">rpoA</text><text transform="translate(333.15,79.65) rotate(383.3)" text-anchor="start" dy="0.8">clpP</text><text transform="translate(345.58,77.08) rotate(388.1)" text-anchor="start" dy="0.8">rps18</text><text transform="translate(346.67,75.11) rotate(389.7)" text-anchor="start" dy="0.8">rpl33</text><text transform="translate(342.31,63.07) rotate(394.6)" text-anchor="start" dy="0.8">trnW</text><text transform="translate(354.59,63.52) rotate(399.0)" text-anchor="start" dy="0.8">psbJ</text><text transform="translate(348.35,55.22) rotate(400.5)" text-anchor="start" dy="0.8">psbF</text><text transform="translate(357.52,60.09) rotate(402.0)" text-anchor="start" dy="0.8">psbL</text><text transform="translate(380.84,30.51) rotate(425.0)" text-anchor="start" dy="0.8">atpE</text><text transform="translate(383.29,29.41) rotate(426.6)" text-anchor="start" dy="0.8">atpB</text><text transform="translate(394.12,25.48) rotate(433.5)" text-anchor="start" dy="0.8">ndhC</text><text transform="translate(396.55,24.79) rotate(435.0)" text-anchor="start" dy="0.8">ndhK</text><text transform="translate(401.35,33.99) rotate(436.5)" text-anchor="start" dy="0.8">ndhJ</text><text transform="translate(407.11,22.58) rotate(441.4)" text-anchor="start" dy="0.8">trnT</text><text transform="translate(409.78,22.22) rotate(443.0)" text-anchor="start" dy="0.8">rps4</text><text transform="translate(417.81,21.57) rotate(447.8)" text-anchor="start" dy="0.8">ycf3</text><text transform="translate(428.71,21.77) rotate(-85.7)" text-anchor="end" dy="0.8">psaA</text><text transform="translate(437.21,22.79) rotate(-80.6)" text-anchor="end" dy="0.8">psaB</text><text transform="translate(441.99,23.71) rotate(-77.7)" text-anchor="end" dy="0.8">rps14</text><text transform="translate(444.45,24.28) rotate(-76.2)" text-anchor="end" dy="0.8">trnfM</text><text transform="translate(448.50,25.37) rotate(-73.7)" text-anchor="end" dy="0.8">trnS</text><text transform="translate(459.51,40.45) rotate(-63.8)" text-anchor="end" dy="0.8">trnE</text><text transform="translate(466.22,32.53) rotate(-62.3)" text-anchor="end" dy="0.8">trnY</text><text transform="translate(463.50,42.54) rotate(-60.8)" text-anchor="end" dy="0.8">trnD</text><text transform="translate(470.61,34.98) rotate(-59.3)" text-anchor="end" dy="0.8">psbM</text><text transform="translate(483.59,44.22) rotate(-49.8)" text-anchor="end" dy="0.8">rpoB</text><text transform="translate(492.77,53.08) rotate(-42.2)" text-anchor="end" dy="0.8">rpoC1</text><text transform="translate(501.81,64.74) rotate(-33.4)" text-anchor="end" dy="0.8">rpoC2</text><text transform="translate(506.67,72.98) rotate(-27.7)" text-anchor="end" dy="0.8">rps2</text><text transform="translate(508.40,76.44) rotate(-25.4)" text-anchor="end" dy="0.8">atpI</text><text transform="translate(509.92,79.80) rotate(-23.2)" text-anchor="end" dy="0.8">atpH</text><text transform="translate(511.49,83.70) rotate(-20.7)" text-anchor="end" dy="0.8">atpF</text><text transform="translate(513.50,89.57) rotate(-17.0)" text-anchor="end" dy="0.8">atpA</text><text transform="translate(516.83,104.81) rotate(-7.7)" text-anchor="end" dy="0.8">trnQ</text><text transform="translate(517.27,108.65) rotate(-5.4)" text-anchor="end" dy="0.8">rps16</text><text transform="translate(517.67,115.18) rotate(-1.5)" text-anchor="end" dy="0.8">trnK</text><text transform="translate(517.68,119.55) rotate(1.1)" text-anchor="end" dy="0.8">matK</text><text transform="translate(517.29,126.59) rotate(5.3)" text-anchor="end" dy="0.8">psbA</text><text transform="translate(516.98,129.42) rotate(7.0)" text-anchor="end" dy="0.8">trnH</text><text transform="translate(511.49,151.70) rotate(20.7)" text-anchor="end" dy="0.8">ycf2</text><text transform="translate(484.87,190.08) rotate(48.8)" text-anchor="end" dy="0.8">rrn16</text><text transform="translate(480.33,193.82) rotate(52.3)" text-anchor="end" dy="0.8">trnI</text><text transform="translate(478.18,195.43) rotate(53.9)" text-anchor="end" dy="0.8">trnA</text><text transform="translate(471.76,199.72) rotate(58.5)" text-anchor="end" dy="0.8">rrn23</text><text transform="translate(462.45,193.44) rotate(61.6)" text-anchor="end" dy="0.8">rrn4.5</text><text transform="translate(465.02,203.49) rotate(63.1)" text-anchor="end" dy="0.8">rrn5</text><text transform="translate(458.43,195.48) rotate(64.6)" text-anchor="end" dy="0.8">trnR</text><text transform="translate(456.38,196.42) rotate(66.1)" text-anchor="end" dy="0.8">trnN</text><text transform="translate(449.63,209.70) rotate(73.0)" text-anchor="end" dy="0.8">ycf1</text><text transform="translate(437.71,212.52) rotate(80.3)" text-anchor="end" dy="0.8">rps15</text><text transform="translate(434.72,212.99) rotate(82.1)" text-anchor="end" dy="0.8">ndhH</text><text transform="translate(427.71,213.70) rotate(86.3)" text-anchor="end" dy="0.8">ndhA</text><text transform="translate(422.00,213.90) rotate(89.7)" text-anchor="end" dy="0.8">ndhI</text><text transform="translate(419.49,213.88) rotate(271.2)" text-anchor="start" dy="0.8">ndhG</text><text transform="translate(416.97,213.79) rotate(272.7)" text-anchor="start" dy="0.8">ndhE</text><text transform="translate(414.37,213.64) rotate(274.2)" text-anchor="start" dy="0.8">psaC</text><text transform="translate(410.28,213.24) rotate(276.7)" text-anchor="start" dy="0.8">ndhD</text><text transform="translate(391.45,209.09) rotate(288.2)" text-anchor="start" dy="0.8">ndhF</text><text transform="translate(352.30,184.53) rotate(316.0)" text-anchor="start" dy="0.8">trnV</text><text transform="translate(349.01,180.94) rotate(318.9)" text-anchor="start" dy="0.8">rps12</text><text transform="translate(347.38,179.02) rotate(320.4)" text-anchor="start" dy="0.8">rps7</text><text transform="translate(343.08,173.43) rotate(324.6)" text-anchor="start" dy="0.8">ndhB</text><text transform="translate(339.30,167.68) rotate(328.7)" text-anchor="start" dy="0.8">trnL</text></g>
<circle cx="421.5" cy="117.7" r="103.3" fill="none" stroke="#111" stroke-width="1.0"/>
<path d="M523.47,130.76A102.80,102.80 0 0 1 457.16,214.11" fill="none" stroke="#000" stroke-width="1.9"/>
<path d="M384.66,213.67A102.80,102.80 0 0 1 319.53,130.76" fill="none" stroke="#000" stroke-width="1.9"/>
<text x="420.6" y="103.4" font-family="Liberation Serif" font-weight="bold" font-size="7.0" text-anchor="middle" textLength="17.3" style="text-rendering:geometricPrecision" lengthAdjust="spacingAndGlyphs" fill="#000">19-3-2</text>
<text x="421.9" y="113.9" font-family="Liberation Sans" font-weight="bold" font-style="italic" font-size="6.6" text-anchor="middle" textLength="54.6" lengthAdjust="spacingAndGlyphs" fill="#000">Brassica oleracea</text>
<text x="421.2" y="124.8" font-family="Liberation Sans" font-size="6.7" text-anchor="middle" textLength="55.2" lengthAdjust="spacingAndGlyphs" fill="#000">chloroplast genome</text>
<text x="421.8" y="135.5" font-family="Liberation Sans" font-size="6.25" text-anchor="middle" fill="#000">153,363 bp</text>
<rect x="2.2" y="181.70" width="2.9" height="2.9" fill="#146a28" stroke="#444" stroke-width="0.25"/>
<text x="6.7" y="184.25" font-family="Liberation Sans" font-size="3.2" fill="#000" stroke="#000" stroke-width="0.12">photosystem I</text>
<rect x="2.2" y="185.65" width="2.9" height="2.9" fill="#2f9a2f" stroke="#444" stroke-width="0.25"/>
<text x="6.7" y="188.20" font-family="Liberation Sans" font-size="3.2" fill="#000" stroke="#000" stroke-width="0.12">photosystem II</text>
<rect x="2.2" y="189.60" width="2.9" height="2.9" fill="#7f9f12" stroke="#444" stroke-width="0.25"/>
<text x="6.7" y="192.15" font-family="Liberation Sans" font-size="3.2" fill="#000" stroke="#000" stroke-width="0.12">cytochrome b/f complex</text>
<rect x="2.2" y="193.55" width="2.9" height="2.9" fill="#9ec41c" stroke="#444" stroke-width="0.25"/>
<text x="6.7" y="196.10" font-family="Liberation Sans" font-size="3.2" fill="#000" stroke="#000" stroke-width="0.12">ATP synthase</text>
<rect x="2.2" y="197.50" width="2.9" height="2.9" fill="#f5e60a" stroke="#444" stroke-width="0.25"/>
<text x="6.7" y="200.05" font-family="Liberation Sans" font-size="3.2" fill="#000" stroke="#000" stroke-width="0.12">NADH dehydrogenase</text>
<rect x="2.2" y="201.45" width="2.9" height="2.9" fill="#2aa02a" stroke="#444" stroke-width="0.25"/>
<text x="6.7" y="204.00" font-family="Liberation Sans" font-size="3.2" fill="#000" stroke="#000" stroke-width="0.12">RubisCO large subunit</text>
<rect x="2.2" y="205.40" width="2.9" height="2.9" fill="#c8141e" stroke="#444" stroke-width="0.25"/>
<text x="6.7" y="207.95" font-family="Liberation Sans" font-size="3.2" fill="#000" stroke="#000" stroke-width="0.12">RNA polymerase</text>
<rect x="2.2" y="209.35" width="2.9" height="2.9" fill="#dba575" stroke="#444" stroke-width="0.25"/>
<text x="6.7" y="211.90" font-family="Liberation Sans" font-size="3.2" fill="#000" stroke="#000" stroke-width="0.12">ribosomal proteins (SSU)</text>
<rect x="2.2" y="213.30" width="2.9" height="2.9" fill="#a87838" stroke="#444" stroke-width="0.25"/>
<text x="6.7" y="215.85" font-family="Liberation Sans" font-size="3.2" fill="#000" stroke="#000" stroke-width="0.12">ribosomal proteins (LSU)</text>
<rect x="2.2" y="217.25" width="2.9" height="2.9" fill="#f26418" stroke="#444" stroke-width="0.25"/>
<text x="6.7" y="219.80" font-family="Liberation Sans" font-size="3.2" fill="#000" stroke="#000" stroke-width="0.12">clpP, matK</text>
<rect x="2.2" y="221.20" width="2.9" height="2.9" fill="#a418a4" stroke="#444" stroke-width="0.25"/>
<text x="6.7" y="223.75" font-family="Liberation Sans" font-size="3.2" fill="#000" stroke="#000" stroke-width="0.12">other genes</text>
<rect x="2.2" y="225.15" width="2.9" height="2.9" fill="#fdf8d2" stroke="#444" stroke-width="0.25"/>
<text x="6.7" y="227.70" font-family="Liberation Sans" font-size="3.2" fill="#000" stroke="#000" stroke-width="0.12">hypothetical chloroplast reading frames (ycf)</text>
<rect x="2.2" y="229.10" width="2.9" height="2.9" fill="#0e1d84" stroke="#444" stroke-width="0.25"/>
<text x="6.7" y="231.65" font-family="Liberation Sans" font-size="3.2" fill="#000" stroke="#000" stroke-width="0.12">transfer RNAs</text>
<rect x="2.2" y="233.05" width="2.9" height="2.9" fill="#e3000f" stroke="#444" stroke-width="0.25"/>
<text x="6.7" y="235.60" font-family="Liberation Sans" font-size="3.2" fill="#000" stroke="#000" stroke-width="0.12">ribosomal RNAs</text>
<text x="22.2" y="24.5" font-family="Liberation Serif" font-weight="bold" font-size="13.8" fill="#000">A</text>
<text x="294.7" y="24.5" font-family="Liberation Serif" font-weight="bold" font-size="13.8" fill="#000">B</text>
</svg></body></html>
